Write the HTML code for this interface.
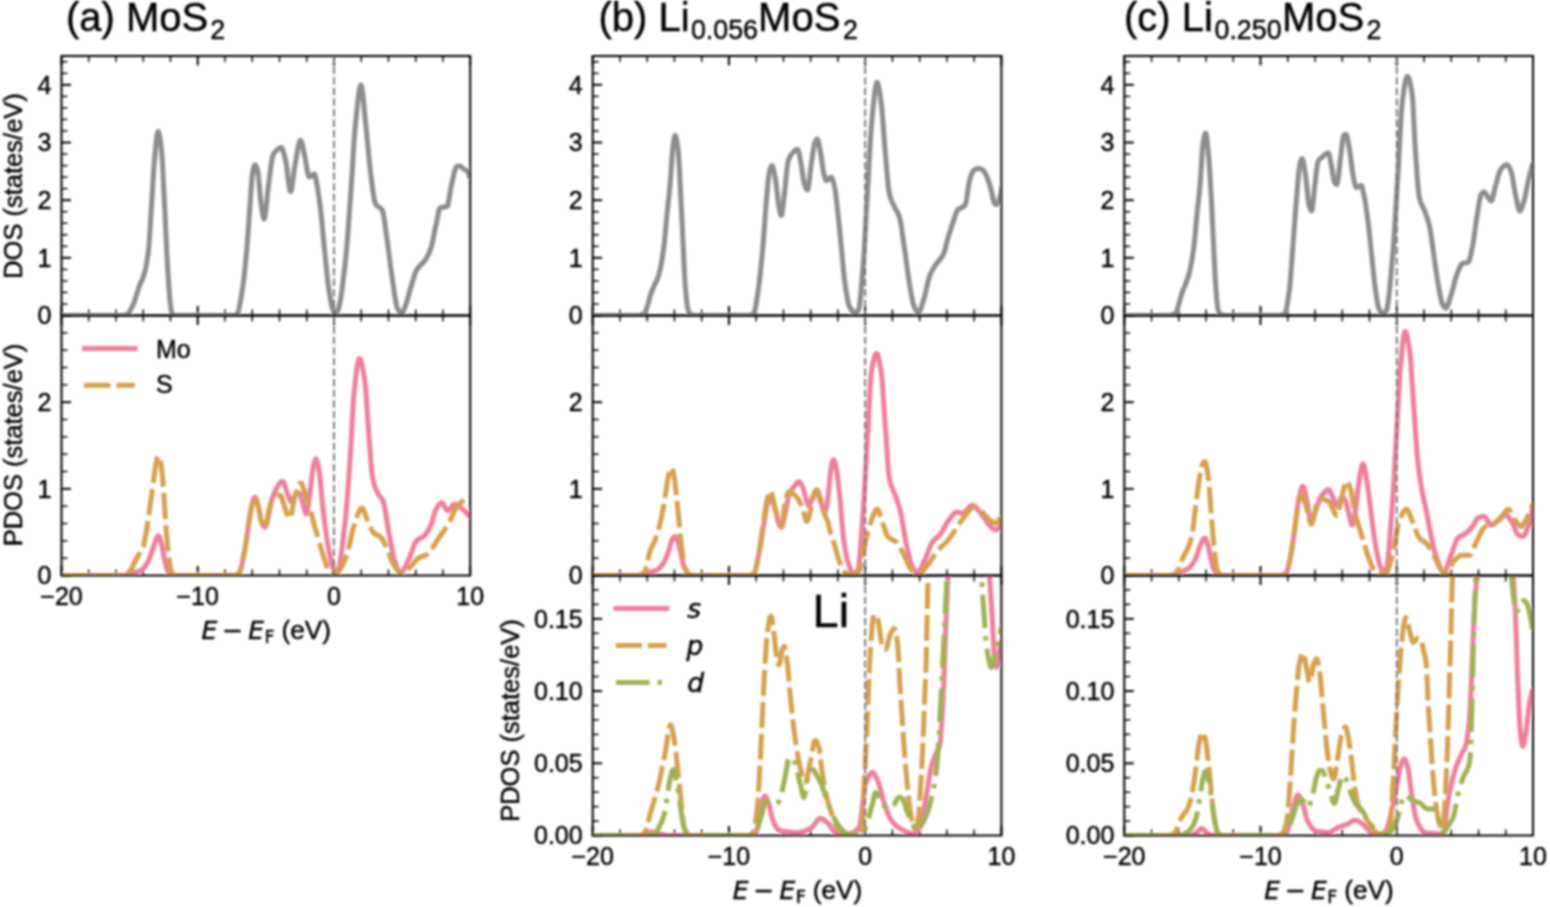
<!DOCTYPE html><html><head><meta charset="utf-8"><style>html,body{margin:0;padding:0;background:#fff;overflow:hidden}svg{display:block}</style></head><body>
<svg width="1550" height="907" viewBox="0 0 1550 907">
<rect width="1550" height="907" fill="#fff"/>
<filter id="bl" x="0" y="0" width="1550" height="907" filterUnits="userSpaceOnUse"><feGaussianBlur stdDeviation="0.8"/></filter>
<g filter="url(#bl)">
<defs>
<clipPath id="cp00"><rect x="61.5" y="56" width="408.7" height="259.5"/></clipPath>
<clipPath id="cp01"><rect x="61.5" y="315.5" width="408.7" height="260"/></clipPath>
<clipPath id="cp10"><rect x="592.7" y="56" width="408.7" height="259.5"/></clipPath>
<clipPath id="cp11"><rect x="592.7" y="315.5" width="408.7" height="260"/></clipPath>
<clipPath id="cp12"><rect x="592.7" y="575.5" width="408.7" height="260"/></clipPath>
<clipPath id="cp20"><rect x="1124.3" y="56" width="408.7" height="259.5"/></clipPath>
<clipPath id="cp21"><rect x="1124.3" y="315.5" width="408.7" height="260"/></clipPath>
<clipPath id="cp22"><rect x="1124.3" y="575.5" width="408.7" height="260"/></clipPath>
</defs>
<g stroke="#000"><line x1="61.5" y1="315.5" x2="61.5" y2="306" stroke-width="2"/><line x1="61.5" y1="56" x2="61.5" y2="65.5" stroke-width="2"/><line x1="88.75" y1="315.5" x2="88.75" y2="309.5" stroke-width="1.5"/><line x1="88.75" y1="56" x2="88.75" y2="62" stroke-width="1.5"/><line x1="115.99" y1="315.5" x2="115.99" y2="309.5" stroke-width="1.5"/><line x1="115.99" y1="56" x2="115.99" y2="62" stroke-width="1.5"/><line x1="143.24" y1="315.5" x2="143.24" y2="309.5" stroke-width="1.5"/><line x1="143.24" y1="56" x2="143.24" y2="62" stroke-width="1.5"/><line x1="170.49" y1="315.5" x2="170.49" y2="309.5" stroke-width="1.5"/><line x1="170.49" y1="56" x2="170.49" y2="62" stroke-width="1.5"/><line x1="197.73" y1="315.5" x2="197.73" y2="306" stroke-width="2"/><line x1="197.73" y1="56" x2="197.73" y2="65.5" stroke-width="2"/><line x1="224.98" y1="315.5" x2="224.98" y2="309.5" stroke-width="1.5"/><line x1="224.98" y1="56" x2="224.98" y2="62" stroke-width="1.5"/><line x1="252.23" y1="315.5" x2="252.23" y2="309.5" stroke-width="1.5"/><line x1="252.23" y1="56" x2="252.23" y2="62" stroke-width="1.5"/><line x1="279.47" y1="315.5" x2="279.47" y2="309.5" stroke-width="1.5"/><line x1="279.47" y1="56" x2="279.47" y2="62" stroke-width="1.5"/><line x1="306.72" y1="315.5" x2="306.72" y2="309.5" stroke-width="1.5"/><line x1="306.72" y1="56" x2="306.72" y2="62" stroke-width="1.5"/><line x1="333.97" y1="315.5" x2="333.97" y2="306" stroke-width="2"/><line x1="333.97" y1="56" x2="333.97" y2="65.5" stroke-width="2"/><line x1="361.21" y1="315.5" x2="361.21" y2="309.5" stroke-width="1.5"/><line x1="361.21" y1="56" x2="361.21" y2="62" stroke-width="1.5"/><line x1="388.46" y1="315.5" x2="388.46" y2="309.5" stroke-width="1.5"/><line x1="388.46" y1="56" x2="388.46" y2="62" stroke-width="1.5"/><line x1="415.71" y1="315.5" x2="415.71" y2="309.5" stroke-width="1.5"/><line x1="415.71" y1="56" x2="415.71" y2="62" stroke-width="1.5"/><line x1="442.95" y1="315.5" x2="442.95" y2="309.5" stroke-width="1.5"/><line x1="442.95" y1="56" x2="442.95" y2="62" stroke-width="1.5"/><line x1="470.2" y1="315.5" x2="470.2" y2="306" stroke-width="2"/><line x1="470.2" y1="56" x2="470.2" y2="65.5" stroke-width="2"/><line x1="61.5" y1="315.5" x2="71" y2="315.5" stroke-width="2"/><line x1="61.5" y1="303.97" x2="67.5" y2="303.97" stroke-width="1.5"/><line x1="61.5" y1="292.43" x2="67.5" y2="292.43" stroke-width="1.5"/><line x1="61.5" y1="280.9" x2="67.5" y2="280.9" stroke-width="1.5"/><line x1="61.5" y1="269.37" x2="67.5" y2="269.37" stroke-width="1.5"/><line x1="61.5" y1="257.83" x2="71" y2="257.83" stroke-width="2"/><line x1="61.5" y1="246.3" x2="67.5" y2="246.3" stroke-width="1.5"/><line x1="61.5" y1="234.77" x2="67.5" y2="234.77" stroke-width="1.5"/><line x1="61.5" y1="223.23" x2="67.5" y2="223.23" stroke-width="1.5"/><line x1="61.5" y1="211.7" x2="67.5" y2="211.7" stroke-width="1.5"/><line x1="61.5" y1="200.17" x2="71" y2="200.17" stroke-width="2"/><line x1="61.5" y1="188.63" x2="67.5" y2="188.63" stroke-width="1.5"/><line x1="61.5" y1="177.1" x2="67.5" y2="177.1" stroke-width="1.5"/><line x1="61.5" y1="165.57" x2="67.5" y2="165.57" stroke-width="1.5"/><line x1="61.5" y1="154.03" x2="67.5" y2="154.03" stroke-width="1.5"/><line x1="61.5" y1="142.5" x2="71" y2="142.5" stroke-width="2"/><line x1="61.5" y1="130.97" x2="67.5" y2="130.97" stroke-width="1.5"/><line x1="61.5" y1="119.43" x2="67.5" y2="119.43" stroke-width="1.5"/><line x1="61.5" y1="107.9" x2="67.5" y2="107.9" stroke-width="1.5"/><line x1="61.5" y1="96.37" x2="67.5" y2="96.37" stroke-width="1.5"/><line x1="61.5" y1="84.83" x2="71" y2="84.83" stroke-width="2"/><line x1="61.5" y1="73.3" x2="67.5" y2="73.3" stroke-width="1.5"/><line x1="61.5" y1="61.77" x2="67.5" y2="61.77" stroke-width="1.5"/></g>
<g stroke="#000"><line x1="61.5" y1="575.5" x2="61.5" y2="566" stroke-width="2"/><line x1="61.5" y1="315.5" x2="61.5" y2="325" stroke-width="2"/><line x1="88.75" y1="575.5" x2="88.75" y2="569.5" stroke-width="1.5"/><line x1="88.75" y1="315.5" x2="88.75" y2="321.5" stroke-width="1.5"/><line x1="115.99" y1="575.5" x2="115.99" y2="569.5" stroke-width="1.5"/><line x1="115.99" y1="315.5" x2="115.99" y2="321.5" stroke-width="1.5"/><line x1="143.24" y1="575.5" x2="143.24" y2="569.5" stroke-width="1.5"/><line x1="143.24" y1="315.5" x2="143.24" y2="321.5" stroke-width="1.5"/><line x1="170.49" y1="575.5" x2="170.49" y2="569.5" stroke-width="1.5"/><line x1="170.49" y1="315.5" x2="170.49" y2="321.5" stroke-width="1.5"/><line x1="197.73" y1="575.5" x2="197.73" y2="566" stroke-width="2"/><line x1="197.73" y1="315.5" x2="197.73" y2="325" stroke-width="2"/><line x1="224.98" y1="575.5" x2="224.98" y2="569.5" stroke-width="1.5"/><line x1="224.98" y1="315.5" x2="224.98" y2="321.5" stroke-width="1.5"/><line x1="252.23" y1="575.5" x2="252.23" y2="569.5" stroke-width="1.5"/><line x1="252.23" y1="315.5" x2="252.23" y2="321.5" stroke-width="1.5"/><line x1="279.47" y1="575.5" x2="279.47" y2="569.5" stroke-width="1.5"/><line x1="279.47" y1="315.5" x2="279.47" y2="321.5" stroke-width="1.5"/><line x1="306.72" y1="575.5" x2="306.72" y2="569.5" stroke-width="1.5"/><line x1="306.72" y1="315.5" x2="306.72" y2="321.5" stroke-width="1.5"/><line x1="333.97" y1="575.5" x2="333.97" y2="566" stroke-width="2"/><line x1="333.97" y1="315.5" x2="333.97" y2="325" stroke-width="2"/><line x1="361.21" y1="575.5" x2="361.21" y2="569.5" stroke-width="1.5"/><line x1="361.21" y1="315.5" x2="361.21" y2="321.5" stroke-width="1.5"/><line x1="388.46" y1="575.5" x2="388.46" y2="569.5" stroke-width="1.5"/><line x1="388.46" y1="315.5" x2="388.46" y2="321.5" stroke-width="1.5"/><line x1="415.71" y1="575.5" x2="415.71" y2="569.5" stroke-width="1.5"/><line x1="415.71" y1="315.5" x2="415.71" y2="321.5" stroke-width="1.5"/><line x1="442.95" y1="575.5" x2="442.95" y2="569.5" stroke-width="1.5"/><line x1="442.95" y1="315.5" x2="442.95" y2="321.5" stroke-width="1.5"/><line x1="470.2" y1="575.5" x2="470.2" y2="566" stroke-width="2"/><line x1="470.2" y1="315.5" x2="470.2" y2="325" stroke-width="2"/><line x1="61.5" y1="575.5" x2="71" y2="575.5" stroke-width="2"/><line x1="61.5" y1="558.17" x2="67.5" y2="558.17" stroke-width="1.5"/><line x1="61.5" y1="540.83" x2="67.5" y2="540.83" stroke-width="1.5"/><line x1="61.5" y1="523.5" x2="67.5" y2="523.5" stroke-width="1.5"/><line x1="61.5" y1="506.17" x2="67.5" y2="506.17" stroke-width="1.5"/><line x1="61.5" y1="488.83" x2="71" y2="488.83" stroke-width="2"/><line x1="61.5" y1="471.5" x2="67.5" y2="471.5" stroke-width="1.5"/><line x1="61.5" y1="454.17" x2="67.5" y2="454.17" stroke-width="1.5"/><line x1="61.5" y1="436.83" x2="67.5" y2="436.83" stroke-width="1.5"/><line x1="61.5" y1="419.5" x2="67.5" y2="419.5" stroke-width="1.5"/><line x1="61.5" y1="402.17" x2="71" y2="402.17" stroke-width="2"/><line x1="61.5" y1="384.83" x2="67.5" y2="384.83" stroke-width="1.5"/><line x1="61.5" y1="367.5" x2="67.5" y2="367.5" stroke-width="1.5"/><line x1="61.5" y1="350.17" x2="67.5" y2="350.17" stroke-width="1.5"/><line x1="61.5" y1="332.83" x2="67.5" y2="332.83" stroke-width="1.5"/><line x1="61.5" y1="315.5" x2="71" y2="315.5" stroke-width="2"/></g>
<g stroke="#000"><line x1="592.7" y1="315.5" x2="592.7" y2="306" stroke-width="2"/><line x1="592.7" y1="56" x2="592.7" y2="65.5" stroke-width="2"/><line x1="619.95" y1="315.5" x2="619.95" y2="309.5" stroke-width="1.5"/><line x1="619.95" y1="56" x2="619.95" y2="62" stroke-width="1.5"/><line x1="647.19" y1="315.5" x2="647.19" y2="309.5" stroke-width="1.5"/><line x1="647.19" y1="56" x2="647.19" y2="62" stroke-width="1.5"/><line x1="674.44" y1="315.5" x2="674.44" y2="309.5" stroke-width="1.5"/><line x1="674.44" y1="56" x2="674.44" y2="62" stroke-width="1.5"/><line x1="701.69" y1="315.5" x2="701.69" y2="309.5" stroke-width="1.5"/><line x1="701.69" y1="56" x2="701.69" y2="62" stroke-width="1.5"/><line x1="728.93" y1="315.5" x2="728.93" y2="306" stroke-width="2"/><line x1="728.93" y1="56" x2="728.93" y2="65.5" stroke-width="2"/><line x1="756.18" y1="315.5" x2="756.18" y2="309.5" stroke-width="1.5"/><line x1="756.18" y1="56" x2="756.18" y2="62" stroke-width="1.5"/><line x1="783.43" y1="315.5" x2="783.43" y2="309.5" stroke-width="1.5"/><line x1="783.43" y1="56" x2="783.43" y2="62" stroke-width="1.5"/><line x1="810.67" y1="315.5" x2="810.67" y2="309.5" stroke-width="1.5"/><line x1="810.67" y1="56" x2="810.67" y2="62" stroke-width="1.5"/><line x1="837.92" y1="315.5" x2="837.92" y2="309.5" stroke-width="1.5"/><line x1="837.92" y1="56" x2="837.92" y2="62" stroke-width="1.5"/><line x1="865.17" y1="315.5" x2="865.17" y2="306" stroke-width="2"/><line x1="865.17" y1="56" x2="865.17" y2="65.5" stroke-width="2"/><line x1="892.41" y1="315.5" x2="892.41" y2="309.5" stroke-width="1.5"/><line x1="892.41" y1="56" x2="892.41" y2="62" stroke-width="1.5"/><line x1="919.66" y1="315.5" x2="919.66" y2="309.5" stroke-width="1.5"/><line x1="919.66" y1="56" x2="919.66" y2="62" stroke-width="1.5"/><line x1="946.91" y1="315.5" x2="946.91" y2="309.5" stroke-width="1.5"/><line x1="946.91" y1="56" x2="946.91" y2="62" stroke-width="1.5"/><line x1="974.15" y1="315.5" x2="974.15" y2="309.5" stroke-width="1.5"/><line x1="974.15" y1="56" x2="974.15" y2="62" stroke-width="1.5"/><line x1="1001.4" y1="315.5" x2="1001.4" y2="306" stroke-width="2"/><line x1="1001.4" y1="56" x2="1001.4" y2="65.5" stroke-width="2"/><line x1="592.7" y1="315.5" x2="602.2" y2="315.5" stroke-width="2"/><line x1="592.7" y1="303.97" x2="598.7" y2="303.97" stroke-width="1.5"/><line x1="592.7" y1="292.43" x2="598.7" y2="292.43" stroke-width="1.5"/><line x1="592.7" y1="280.9" x2="598.7" y2="280.9" stroke-width="1.5"/><line x1="592.7" y1="269.37" x2="598.7" y2="269.37" stroke-width="1.5"/><line x1="592.7" y1="257.83" x2="602.2" y2="257.83" stroke-width="2"/><line x1="592.7" y1="246.3" x2="598.7" y2="246.3" stroke-width="1.5"/><line x1="592.7" y1="234.77" x2="598.7" y2="234.77" stroke-width="1.5"/><line x1="592.7" y1="223.23" x2="598.7" y2="223.23" stroke-width="1.5"/><line x1="592.7" y1="211.7" x2="598.7" y2="211.7" stroke-width="1.5"/><line x1="592.7" y1="200.17" x2="602.2" y2="200.17" stroke-width="2"/><line x1="592.7" y1="188.63" x2="598.7" y2="188.63" stroke-width="1.5"/><line x1="592.7" y1="177.1" x2="598.7" y2="177.1" stroke-width="1.5"/><line x1="592.7" y1="165.57" x2="598.7" y2="165.57" stroke-width="1.5"/><line x1="592.7" y1="154.03" x2="598.7" y2="154.03" stroke-width="1.5"/><line x1="592.7" y1="142.5" x2="602.2" y2="142.5" stroke-width="2"/><line x1="592.7" y1="130.97" x2="598.7" y2="130.97" stroke-width="1.5"/><line x1="592.7" y1="119.43" x2="598.7" y2="119.43" stroke-width="1.5"/><line x1="592.7" y1="107.9" x2="598.7" y2="107.9" stroke-width="1.5"/><line x1="592.7" y1="96.37" x2="598.7" y2="96.37" stroke-width="1.5"/><line x1="592.7" y1="84.83" x2="602.2" y2="84.83" stroke-width="2"/><line x1="592.7" y1="73.3" x2="598.7" y2="73.3" stroke-width="1.5"/><line x1="592.7" y1="61.77" x2="598.7" y2="61.77" stroke-width="1.5"/></g>
<g stroke="#000"><line x1="592.7" y1="575.5" x2="592.7" y2="566" stroke-width="2"/><line x1="592.7" y1="315.5" x2="592.7" y2="325" stroke-width="2"/><line x1="619.95" y1="575.5" x2="619.95" y2="569.5" stroke-width="1.5"/><line x1="619.95" y1="315.5" x2="619.95" y2="321.5" stroke-width="1.5"/><line x1="647.19" y1="575.5" x2="647.19" y2="569.5" stroke-width="1.5"/><line x1="647.19" y1="315.5" x2="647.19" y2="321.5" stroke-width="1.5"/><line x1="674.44" y1="575.5" x2="674.44" y2="569.5" stroke-width="1.5"/><line x1="674.44" y1="315.5" x2="674.44" y2="321.5" stroke-width="1.5"/><line x1="701.69" y1="575.5" x2="701.69" y2="569.5" stroke-width="1.5"/><line x1="701.69" y1="315.5" x2="701.69" y2="321.5" stroke-width="1.5"/><line x1="728.93" y1="575.5" x2="728.93" y2="566" stroke-width="2"/><line x1="728.93" y1="315.5" x2="728.93" y2="325" stroke-width="2"/><line x1="756.18" y1="575.5" x2="756.18" y2="569.5" stroke-width="1.5"/><line x1="756.18" y1="315.5" x2="756.18" y2="321.5" stroke-width="1.5"/><line x1="783.43" y1="575.5" x2="783.43" y2="569.5" stroke-width="1.5"/><line x1="783.43" y1="315.5" x2="783.43" y2="321.5" stroke-width="1.5"/><line x1="810.67" y1="575.5" x2="810.67" y2="569.5" stroke-width="1.5"/><line x1="810.67" y1="315.5" x2="810.67" y2="321.5" stroke-width="1.5"/><line x1="837.92" y1="575.5" x2="837.92" y2="569.5" stroke-width="1.5"/><line x1="837.92" y1="315.5" x2="837.92" y2="321.5" stroke-width="1.5"/><line x1="865.17" y1="575.5" x2="865.17" y2="566" stroke-width="2"/><line x1="865.17" y1="315.5" x2="865.17" y2="325" stroke-width="2"/><line x1="892.41" y1="575.5" x2="892.41" y2="569.5" stroke-width="1.5"/><line x1="892.41" y1="315.5" x2="892.41" y2="321.5" stroke-width="1.5"/><line x1="919.66" y1="575.5" x2="919.66" y2="569.5" stroke-width="1.5"/><line x1="919.66" y1="315.5" x2="919.66" y2="321.5" stroke-width="1.5"/><line x1="946.91" y1="575.5" x2="946.91" y2="569.5" stroke-width="1.5"/><line x1="946.91" y1="315.5" x2="946.91" y2="321.5" stroke-width="1.5"/><line x1="974.15" y1="575.5" x2="974.15" y2="569.5" stroke-width="1.5"/><line x1="974.15" y1="315.5" x2="974.15" y2="321.5" stroke-width="1.5"/><line x1="1001.4" y1="575.5" x2="1001.4" y2="566" stroke-width="2"/><line x1="1001.4" y1="315.5" x2="1001.4" y2="325" stroke-width="2"/><line x1="592.7" y1="575.5" x2="602.2" y2="575.5" stroke-width="2"/><line x1="592.7" y1="558.17" x2="598.7" y2="558.17" stroke-width="1.5"/><line x1="592.7" y1="540.83" x2="598.7" y2="540.83" stroke-width="1.5"/><line x1="592.7" y1="523.5" x2="598.7" y2="523.5" stroke-width="1.5"/><line x1="592.7" y1="506.17" x2="598.7" y2="506.17" stroke-width="1.5"/><line x1="592.7" y1="488.83" x2="602.2" y2="488.83" stroke-width="2"/><line x1="592.7" y1="471.5" x2="598.7" y2="471.5" stroke-width="1.5"/><line x1="592.7" y1="454.17" x2="598.7" y2="454.17" stroke-width="1.5"/><line x1="592.7" y1="436.83" x2="598.7" y2="436.83" stroke-width="1.5"/><line x1="592.7" y1="419.5" x2="598.7" y2="419.5" stroke-width="1.5"/><line x1="592.7" y1="402.17" x2="602.2" y2="402.17" stroke-width="2"/><line x1="592.7" y1="384.83" x2="598.7" y2="384.83" stroke-width="1.5"/><line x1="592.7" y1="367.5" x2="598.7" y2="367.5" stroke-width="1.5"/><line x1="592.7" y1="350.17" x2="598.7" y2="350.17" stroke-width="1.5"/><line x1="592.7" y1="332.83" x2="598.7" y2="332.83" stroke-width="1.5"/><line x1="592.7" y1="315.5" x2="602.2" y2="315.5" stroke-width="2"/></g>
<g stroke="#000"><line x1="592.7" y1="835.5" x2="592.7" y2="826" stroke-width="2"/><line x1="592.7" y1="575.5" x2="592.7" y2="585" stroke-width="2"/><line x1="619.95" y1="835.5" x2="619.95" y2="829.5" stroke-width="1.5"/><line x1="619.95" y1="575.5" x2="619.95" y2="581.5" stroke-width="1.5"/><line x1="647.19" y1="835.5" x2="647.19" y2="829.5" stroke-width="1.5"/><line x1="647.19" y1="575.5" x2="647.19" y2="581.5" stroke-width="1.5"/><line x1="674.44" y1="835.5" x2="674.44" y2="829.5" stroke-width="1.5"/><line x1="674.44" y1="575.5" x2="674.44" y2="581.5" stroke-width="1.5"/><line x1="701.69" y1="835.5" x2="701.69" y2="829.5" stroke-width="1.5"/><line x1="701.69" y1="575.5" x2="701.69" y2="581.5" stroke-width="1.5"/><line x1="728.93" y1="835.5" x2="728.93" y2="826" stroke-width="2"/><line x1="728.93" y1="575.5" x2="728.93" y2="585" stroke-width="2"/><line x1="756.18" y1="835.5" x2="756.18" y2="829.5" stroke-width="1.5"/><line x1="756.18" y1="575.5" x2="756.18" y2="581.5" stroke-width="1.5"/><line x1="783.43" y1="835.5" x2="783.43" y2="829.5" stroke-width="1.5"/><line x1="783.43" y1="575.5" x2="783.43" y2="581.5" stroke-width="1.5"/><line x1="810.67" y1="835.5" x2="810.67" y2="829.5" stroke-width="1.5"/><line x1="810.67" y1="575.5" x2="810.67" y2="581.5" stroke-width="1.5"/><line x1="837.92" y1="835.5" x2="837.92" y2="829.5" stroke-width="1.5"/><line x1="837.92" y1="575.5" x2="837.92" y2="581.5" stroke-width="1.5"/><line x1="865.17" y1="835.5" x2="865.17" y2="826" stroke-width="2"/><line x1="865.17" y1="575.5" x2="865.17" y2="585" stroke-width="2"/><line x1="892.41" y1="835.5" x2="892.41" y2="829.5" stroke-width="1.5"/><line x1="892.41" y1="575.5" x2="892.41" y2="581.5" stroke-width="1.5"/><line x1="919.66" y1="835.5" x2="919.66" y2="829.5" stroke-width="1.5"/><line x1="919.66" y1="575.5" x2="919.66" y2="581.5" stroke-width="1.5"/><line x1="946.91" y1="835.5" x2="946.91" y2="829.5" stroke-width="1.5"/><line x1="946.91" y1="575.5" x2="946.91" y2="581.5" stroke-width="1.5"/><line x1="974.15" y1="835.5" x2="974.15" y2="829.5" stroke-width="1.5"/><line x1="974.15" y1="575.5" x2="974.15" y2="581.5" stroke-width="1.5"/><line x1="1001.4" y1="835.5" x2="1001.4" y2="826" stroke-width="2"/><line x1="1001.4" y1="575.5" x2="1001.4" y2="585" stroke-width="2"/><line x1="592.7" y1="835.5" x2="602.2" y2="835.5" stroke-width="2"/><line x1="592.7" y1="821.06" x2="598.7" y2="821.06" stroke-width="1.5"/><line x1="592.7" y1="806.61" x2="598.7" y2="806.61" stroke-width="1.5"/><line x1="592.7" y1="792.17" x2="598.7" y2="792.17" stroke-width="1.5"/><line x1="592.7" y1="777.72" x2="598.7" y2="777.72" stroke-width="1.5"/><line x1="592.7" y1="763.28" x2="602.2" y2="763.28" stroke-width="2"/><line x1="592.7" y1="748.83" x2="598.7" y2="748.83" stroke-width="1.5"/><line x1="592.7" y1="734.39" x2="598.7" y2="734.39" stroke-width="1.5"/><line x1="592.7" y1="719.94" x2="598.7" y2="719.94" stroke-width="1.5"/><line x1="592.7" y1="705.5" x2="598.7" y2="705.5" stroke-width="1.5"/><line x1="592.7" y1="691.06" x2="602.2" y2="691.06" stroke-width="2"/><line x1="592.7" y1="676.61" x2="598.7" y2="676.61" stroke-width="1.5"/><line x1="592.7" y1="662.17" x2="598.7" y2="662.17" stroke-width="1.5"/><line x1="592.7" y1="647.72" x2="598.7" y2="647.72" stroke-width="1.5"/><line x1="592.7" y1="633.28" x2="598.7" y2="633.28" stroke-width="1.5"/><line x1="592.7" y1="618.83" x2="602.2" y2="618.83" stroke-width="2"/><line x1="592.7" y1="604.39" x2="598.7" y2="604.39" stroke-width="1.5"/><line x1="592.7" y1="589.94" x2="598.7" y2="589.94" stroke-width="1.5"/><line x1="592.7" y1="575.5" x2="598.7" y2="575.5" stroke-width="1.5"/></g>
<g stroke="#000"><line x1="1124.3" y1="315.5" x2="1124.3" y2="306" stroke-width="2"/><line x1="1124.3" y1="56" x2="1124.3" y2="65.5" stroke-width="2"/><line x1="1151.55" y1="315.5" x2="1151.55" y2="309.5" stroke-width="1.5"/><line x1="1151.55" y1="56" x2="1151.55" y2="62" stroke-width="1.5"/><line x1="1178.79" y1="315.5" x2="1178.79" y2="309.5" stroke-width="1.5"/><line x1="1178.79" y1="56" x2="1178.79" y2="62" stroke-width="1.5"/><line x1="1206.04" y1="315.5" x2="1206.04" y2="309.5" stroke-width="1.5"/><line x1="1206.04" y1="56" x2="1206.04" y2="62" stroke-width="1.5"/><line x1="1233.29" y1="315.5" x2="1233.29" y2="309.5" stroke-width="1.5"/><line x1="1233.29" y1="56" x2="1233.29" y2="62" stroke-width="1.5"/><line x1="1260.53" y1="315.5" x2="1260.53" y2="306" stroke-width="2"/><line x1="1260.53" y1="56" x2="1260.53" y2="65.5" stroke-width="2"/><line x1="1287.78" y1="315.5" x2="1287.78" y2="309.5" stroke-width="1.5"/><line x1="1287.78" y1="56" x2="1287.78" y2="62" stroke-width="1.5"/><line x1="1315.03" y1="315.5" x2="1315.03" y2="309.5" stroke-width="1.5"/><line x1="1315.03" y1="56" x2="1315.03" y2="62" stroke-width="1.5"/><line x1="1342.27" y1="315.5" x2="1342.27" y2="309.5" stroke-width="1.5"/><line x1="1342.27" y1="56" x2="1342.27" y2="62" stroke-width="1.5"/><line x1="1369.52" y1="315.5" x2="1369.52" y2="309.5" stroke-width="1.5"/><line x1="1369.52" y1="56" x2="1369.52" y2="62" stroke-width="1.5"/><line x1="1396.77" y1="315.5" x2="1396.77" y2="306" stroke-width="2"/><line x1="1396.77" y1="56" x2="1396.77" y2="65.5" stroke-width="2"/><line x1="1424.01" y1="315.5" x2="1424.01" y2="309.5" stroke-width="1.5"/><line x1="1424.01" y1="56" x2="1424.01" y2="62" stroke-width="1.5"/><line x1="1451.26" y1="315.5" x2="1451.26" y2="309.5" stroke-width="1.5"/><line x1="1451.26" y1="56" x2="1451.26" y2="62" stroke-width="1.5"/><line x1="1478.51" y1="315.5" x2="1478.51" y2="309.5" stroke-width="1.5"/><line x1="1478.51" y1="56" x2="1478.51" y2="62" stroke-width="1.5"/><line x1="1505.75" y1="315.5" x2="1505.75" y2="309.5" stroke-width="1.5"/><line x1="1505.75" y1="56" x2="1505.75" y2="62" stroke-width="1.5"/><line x1="1533" y1="315.5" x2="1533" y2="306" stroke-width="2"/><line x1="1533" y1="56" x2="1533" y2="65.5" stroke-width="2"/><line x1="1124.3" y1="315.5" x2="1133.8" y2="315.5" stroke-width="2"/><line x1="1124.3" y1="303.97" x2="1130.3" y2="303.97" stroke-width="1.5"/><line x1="1124.3" y1="292.43" x2="1130.3" y2="292.43" stroke-width="1.5"/><line x1="1124.3" y1="280.9" x2="1130.3" y2="280.9" stroke-width="1.5"/><line x1="1124.3" y1="269.37" x2="1130.3" y2="269.37" stroke-width="1.5"/><line x1="1124.3" y1="257.83" x2="1133.8" y2="257.83" stroke-width="2"/><line x1="1124.3" y1="246.3" x2="1130.3" y2="246.3" stroke-width="1.5"/><line x1="1124.3" y1="234.77" x2="1130.3" y2="234.77" stroke-width="1.5"/><line x1="1124.3" y1="223.23" x2="1130.3" y2="223.23" stroke-width="1.5"/><line x1="1124.3" y1="211.7" x2="1130.3" y2="211.7" stroke-width="1.5"/><line x1="1124.3" y1="200.17" x2="1133.8" y2="200.17" stroke-width="2"/><line x1="1124.3" y1="188.63" x2="1130.3" y2="188.63" stroke-width="1.5"/><line x1="1124.3" y1="177.1" x2="1130.3" y2="177.1" stroke-width="1.5"/><line x1="1124.3" y1="165.57" x2="1130.3" y2="165.57" stroke-width="1.5"/><line x1="1124.3" y1="154.03" x2="1130.3" y2="154.03" stroke-width="1.5"/><line x1="1124.3" y1="142.5" x2="1133.8" y2="142.5" stroke-width="2"/><line x1="1124.3" y1="130.97" x2="1130.3" y2="130.97" stroke-width="1.5"/><line x1="1124.3" y1="119.43" x2="1130.3" y2="119.43" stroke-width="1.5"/><line x1="1124.3" y1="107.9" x2="1130.3" y2="107.9" stroke-width="1.5"/><line x1="1124.3" y1="96.37" x2="1130.3" y2="96.37" stroke-width="1.5"/><line x1="1124.3" y1="84.83" x2="1133.8" y2="84.83" stroke-width="2"/><line x1="1124.3" y1="73.3" x2="1130.3" y2="73.3" stroke-width="1.5"/><line x1="1124.3" y1="61.77" x2="1130.3" y2="61.77" stroke-width="1.5"/></g>
<g stroke="#000"><line x1="1124.3" y1="575.5" x2="1124.3" y2="566" stroke-width="2"/><line x1="1124.3" y1="315.5" x2="1124.3" y2="325" stroke-width="2"/><line x1="1151.55" y1="575.5" x2="1151.55" y2="569.5" stroke-width="1.5"/><line x1="1151.55" y1="315.5" x2="1151.55" y2="321.5" stroke-width="1.5"/><line x1="1178.79" y1="575.5" x2="1178.79" y2="569.5" stroke-width="1.5"/><line x1="1178.79" y1="315.5" x2="1178.79" y2="321.5" stroke-width="1.5"/><line x1="1206.04" y1="575.5" x2="1206.04" y2="569.5" stroke-width="1.5"/><line x1="1206.04" y1="315.5" x2="1206.04" y2="321.5" stroke-width="1.5"/><line x1="1233.29" y1="575.5" x2="1233.29" y2="569.5" stroke-width="1.5"/><line x1="1233.29" y1="315.5" x2="1233.29" y2="321.5" stroke-width="1.5"/><line x1="1260.53" y1="575.5" x2="1260.53" y2="566" stroke-width="2"/><line x1="1260.53" y1="315.5" x2="1260.53" y2="325" stroke-width="2"/><line x1="1287.78" y1="575.5" x2="1287.78" y2="569.5" stroke-width="1.5"/><line x1="1287.78" y1="315.5" x2="1287.78" y2="321.5" stroke-width="1.5"/><line x1="1315.03" y1="575.5" x2="1315.03" y2="569.5" stroke-width="1.5"/><line x1="1315.03" y1="315.5" x2="1315.03" y2="321.5" stroke-width="1.5"/><line x1="1342.27" y1="575.5" x2="1342.27" y2="569.5" stroke-width="1.5"/><line x1="1342.27" y1="315.5" x2="1342.27" y2="321.5" stroke-width="1.5"/><line x1="1369.52" y1="575.5" x2="1369.52" y2="569.5" stroke-width="1.5"/><line x1="1369.52" y1="315.5" x2="1369.52" y2="321.5" stroke-width="1.5"/><line x1="1396.77" y1="575.5" x2="1396.77" y2="566" stroke-width="2"/><line x1="1396.77" y1="315.5" x2="1396.77" y2="325" stroke-width="2"/><line x1="1424.01" y1="575.5" x2="1424.01" y2="569.5" stroke-width="1.5"/><line x1="1424.01" y1="315.5" x2="1424.01" y2="321.5" stroke-width="1.5"/><line x1="1451.26" y1="575.5" x2="1451.26" y2="569.5" stroke-width="1.5"/><line x1="1451.26" y1="315.5" x2="1451.26" y2="321.5" stroke-width="1.5"/><line x1="1478.51" y1="575.5" x2="1478.51" y2="569.5" stroke-width="1.5"/><line x1="1478.51" y1="315.5" x2="1478.51" y2="321.5" stroke-width="1.5"/><line x1="1505.75" y1="575.5" x2="1505.75" y2="569.5" stroke-width="1.5"/><line x1="1505.75" y1="315.5" x2="1505.75" y2="321.5" stroke-width="1.5"/><line x1="1533" y1="575.5" x2="1533" y2="566" stroke-width="2"/><line x1="1533" y1="315.5" x2="1533" y2="325" stroke-width="2"/><line x1="1124.3" y1="575.5" x2="1133.8" y2="575.5" stroke-width="2"/><line x1="1124.3" y1="558.17" x2="1130.3" y2="558.17" stroke-width="1.5"/><line x1="1124.3" y1="540.83" x2="1130.3" y2="540.83" stroke-width="1.5"/><line x1="1124.3" y1="523.5" x2="1130.3" y2="523.5" stroke-width="1.5"/><line x1="1124.3" y1="506.17" x2="1130.3" y2="506.17" stroke-width="1.5"/><line x1="1124.3" y1="488.83" x2="1133.8" y2="488.83" stroke-width="2"/><line x1="1124.3" y1="471.5" x2="1130.3" y2="471.5" stroke-width="1.5"/><line x1="1124.3" y1="454.17" x2="1130.3" y2="454.17" stroke-width="1.5"/><line x1="1124.3" y1="436.83" x2="1130.3" y2="436.83" stroke-width="1.5"/><line x1="1124.3" y1="419.5" x2="1130.3" y2="419.5" stroke-width="1.5"/><line x1="1124.3" y1="402.17" x2="1133.8" y2="402.17" stroke-width="2"/><line x1="1124.3" y1="384.83" x2="1130.3" y2="384.83" stroke-width="1.5"/><line x1="1124.3" y1="367.5" x2="1130.3" y2="367.5" stroke-width="1.5"/><line x1="1124.3" y1="350.17" x2="1130.3" y2="350.17" stroke-width="1.5"/><line x1="1124.3" y1="332.83" x2="1130.3" y2="332.83" stroke-width="1.5"/><line x1="1124.3" y1="315.5" x2="1133.8" y2="315.5" stroke-width="2"/></g>
<g stroke="#000"><line x1="1124.3" y1="835.5" x2="1124.3" y2="826" stroke-width="2"/><line x1="1124.3" y1="575.5" x2="1124.3" y2="585" stroke-width="2"/><line x1="1151.55" y1="835.5" x2="1151.55" y2="829.5" stroke-width="1.5"/><line x1="1151.55" y1="575.5" x2="1151.55" y2="581.5" stroke-width="1.5"/><line x1="1178.79" y1="835.5" x2="1178.79" y2="829.5" stroke-width="1.5"/><line x1="1178.79" y1="575.5" x2="1178.79" y2="581.5" stroke-width="1.5"/><line x1="1206.04" y1="835.5" x2="1206.04" y2="829.5" stroke-width="1.5"/><line x1="1206.04" y1="575.5" x2="1206.04" y2="581.5" stroke-width="1.5"/><line x1="1233.29" y1="835.5" x2="1233.29" y2="829.5" stroke-width="1.5"/><line x1="1233.29" y1="575.5" x2="1233.29" y2="581.5" stroke-width="1.5"/><line x1="1260.53" y1="835.5" x2="1260.53" y2="826" stroke-width="2"/><line x1="1260.53" y1="575.5" x2="1260.53" y2="585" stroke-width="2"/><line x1="1287.78" y1="835.5" x2="1287.78" y2="829.5" stroke-width="1.5"/><line x1="1287.78" y1="575.5" x2="1287.78" y2="581.5" stroke-width="1.5"/><line x1="1315.03" y1="835.5" x2="1315.03" y2="829.5" stroke-width="1.5"/><line x1="1315.03" y1="575.5" x2="1315.03" y2="581.5" stroke-width="1.5"/><line x1="1342.27" y1="835.5" x2="1342.27" y2="829.5" stroke-width="1.5"/><line x1="1342.27" y1="575.5" x2="1342.27" y2="581.5" stroke-width="1.5"/><line x1="1369.52" y1="835.5" x2="1369.52" y2="829.5" stroke-width="1.5"/><line x1="1369.52" y1="575.5" x2="1369.52" y2="581.5" stroke-width="1.5"/><line x1="1396.77" y1="835.5" x2="1396.77" y2="826" stroke-width="2"/><line x1="1396.77" y1="575.5" x2="1396.77" y2="585" stroke-width="2"/><line x1="1424.01" y1="835.5" x2="1424.01" y2="829.5" stroke-width="1.5"/><line x1="1424.01" y1="575.5" x2="1424.01" y2="581.5" stroke-width="1.5"/><line x1="1451.26" y1="835.5" x2="1451.26" y2="829.5" stroke-width="1.5"/><line x1="1451.26" y1="575.5" x2="1451.26" y2="581.5" stroke-width="1.5"/><line x1="1478.51" y1="835.5" x2="1478.51" y2="829.5" stroke-width="1.5"/><line x1="1478.51" y1="575.5" x2="1478.51" y2="581.5" stroke-width="1.5"/><line x1="1505.75" y1="835.5" x2="1505.75" y2="829.5" stroke-width="1.5"/><line x1="1505.75" y1="575.5" x2="1505.75" y2="581.5" stroke-width="1.5"/><line x1="1533" y1="835.5" x2="1533" y2="826" stroke-width="2"/><line x1="1533" y1="575.5" x2="1533" y2="585" stroke-width="2"/><line x1="1124.3" y1="835.5" x2="1133.8" y2="835.5" stroke-width="2"/><line x1="1124.3" y1="821.06" x2="1130.3" y2="821.06" stroke-width="1.5"/><line x1="1124.3" y1="806.61" x2="1130.3" y2="806.61" stroke-width="1.5"/><line x1="1124.3" y1="792.17" x2="1130.3" y2="792.17" stroke-width="1.5"/><line x1="1124.3" y1="777.72" x2="1130.3" y2="777.72" stroke-width="1.5"/><line x1="1124.3" y1="763.28" x2="1133.8" y2="763.28" stroke-width="2"/><line x1="1124.3" y1="748.83" x2="1130.3" y2="748.83" stroke-width="1.5"/><line x1="1124.3" y1="734.39" x2="1130.3" y2="734.39" stroke-width="1.5"/><line x1="1124.3" y1="719.94" x2="1130.3" y2="719.94" stroke-width="1.5"/><line x1="1124.3" y1="705.5" x2="1130.3" y2="705.5" stroke-width="1.5"/><line x1="1124.3" y1="691.06" x2="1133.8" y2="691.06" stroke-width="2"/><line x1="1124.3" y1="676.61" x2="1130.3" y2="676.61" stroke-width="1.5"/><line x1="1124.3" y1="662.17" x2="1130.3" y2="662.17" stroke-width="1.5"/><line x1="1124.3" y1="647.72" x2="1130.3" y2="647.72" stroke-width="1.5"/><line x1="1124.3" y1="633.28" x2="1130.3" y2="633.28" stroke-width="1.5"/><line x1="1124.3" y1="618.83" x2="1133.8" y2="618.83" stroke-width="2"/><line x1="1124.3" y1="604.39" x2="1130.3" y2="604.39" stroke-width="1.5"/><line x1="1124.3" y1="589.94" x2="1130.3" y2="589.94" stroke-width="1.5"/><line x1="1124.3" y1="575.5" x2="1130.3" y2="575.5" stroke-width="1.5"/></g>
<g clip-path="url(#cp00)" fill="none" stroke-linejoin="round">
<path d="M61.5,315.5 62,315.5 62.5,315.5 63,315.5 63.5,315.5 64,315.5 64.5,315.5 65,315.5 65.5,315.5 66,315.5 66.5,315.5 67,315.5 67.5,315.5 68,315.5 68.5,315.5 69,315.5 69.5,315.5 70,315.5 70.5,315.5 71,315.5 71.5,315.5 72,315.5 72.5,315.5 73,315.5 73.5,315.5 74,315.5 74.5,315.5 75,315.5 75.5,315.5 76,315.5 76.5,315.5 77,315.5 77.5,315.5 78,315.5 78.5,315.5 79,315.5 79.5,315.5 80,315.5 80.5,315.5 81,315.5 81.5,315.5 82,315.5 82.5,315.5 83,315.5 83.5,315.5 84,315.5 84.5,315.5 85,315.5 85.5,315.5 86,315.5 86.5,315.5 87,315.5 87.5,315.5 88,315.5 88.5,315.5 89,315.5 89.5,315.5 90,315.5 90.5,315.5 91,315.5 91.5,315.5 92,315.5 92.5,315.5 93,315.5 93.5,315.5 94,315.5 94.5,315.5 95,315.5 95.5,315.5 96,315.5 96.5,315.5 97,315.5 97.5,315.5 98,315.5 98.5,315.5 99,315.5 99.5,315.5 100,315.5 100.5,315.5 101,315.5 101.5,315.5 102,315.5 102.5,315.5 103,315.5 103.5,315.5 104,315.5 104.5,315.5 105,315.5 105.5,315.5 106,315.5 106.5,315.5 107,315.5 107.5,315.5 108,315.5 108.5,315.5 109,315.5 109.5,315.5 110,315.5 110.5,315.5 111,315.5 111.5,315.5 112,315.5 112.5,315.5 113,315.5 113.5,315.5 114,315.5 114.5,315.5 115,315.5 115.5,315.5 116,315.5 116.5,315.5 117,315.5 117.5,315.5 118,315.5 118.5,315.5 119,315.5 119.5,315.5 120,315.5 120.5,315.5 121,315.5 121.5,315.5 122,315.4 122.5,315.4 123,315.4 123.5,315.3 124,315.3 124.5,315.2 125,315.2 125.5,315.1 126,315 126.5,314.9 127,314.7 127.5,314.3 128,313.8 128.5,313.2 129,312.5 129.5,311.7 130,310.9 130.5,310 131,309 131.5,308 132,307 132.5,306 133,305 133.5,303.9 134,302.7 134.5,301.3 135,299.8 135.5,298.2 136,296.6 136.5,294.9 137,293.3 137.5,291.6 138,290 138.5,288.5 139,287 139.5,285.7 140,284.4 140.5,283.2 141,282.1 141.5,281 142,279.8 142.5,278.6 143,277.3 143.5,275.9 144,274.4 144.5,272.7 145,270.8 145.5,268.8 146,266.4 146.5,263.8 147,260.9 147.5,257.6 148,254 148.5,250 149,244.9 149.5,238.2 150,230.6 150.5,222.3 151,213.8 151.5,205.7 152,197.9 152.5,189.7 153,181.4 153.5,173.3 154,166 154.5,160 155,154.6 155.5,149.1 156,143.9 156.5,139.2 157,135.4 157.5,132.7 158,131.5 158.5,131.9 159,133.2 159.5,135.5 160,138.4 160.5,141.9 161,145.8 161.5,150 162,155.7 162.5,163.7 163,173.2 163.5,183.6 164,194.1 164.5,203.9 165,213.9 165.5,224.5 166,235.3 166.5,246 167,256.1 167.5,265.4 168,273.5 168.5,281.2 169,288.5 169.5,295.1 170,300.7 170.5,305 171,308.5 171.5,311.7 172,314 172.5,315 173,315.1 173.5,315.2 174,315.3 174.5,315.3 175,315.4 175.5,315.4 176,315.4 176.5,315.5 177,315.5 177.5,315.5 178,315.5 178.5,315.5 179,315.5 179.5,315.5 180,315.5 180.5,315.5 181,315.5 181.5,315.5 182,315.5 182.5,315.5 183,315.5 183.5,315.5 184,315.5 184.5,315.5 185,315.5 185.5,315.5 186,315.5 186.5,315.5 187,315.5 187.5,315.5 188,315.5 188.5,315.5 189,315.5 189.5,315.5 190,315.5 190.5,315.5 191,315.5 191.5,315.5 192,315.5 192.5,315.5 193,315.5 193.5,315.5 194,315.5 194.5,315.5 195,315.5 195.5,315.5 196,315.5 196.5,315.5 197,315.5 197.5,315.5 198,315.5 198.5,315.5 199,315.5 199.5,315.5 200,315.5 200.5,315.5 201,315.5 201.5,315.5 202,315.5 202.5,315.5 203,315.5 203.5,315.5 204,315.5 204.5,315.5 205,315.5 205.5,315.5 206,315.5 206.5,315.5 207,315.5 207.5,315.5 208,315.5 208.5,315.5 209,315.5 209.5,315.5 210,315.5 210.5,315.5 211,315.5 211.5,315.5 212,315.5 212.5,315.5 213,315.5 213.5,315.5 214,315.5 214.5,315.5 215,315.5 215.5,315.5 216,315.5 216.5,315.5 217,315.5 217.5,315.5 218,315.5 218.5,315.5 219,315.5 219.5,315.5 220,315.5 220.5,315.5 221,315.5 221.5,315.5 222,315.5 222.5,315.5 223,315.5 223.5,315.5 224,315.5 224.5,315.5 225,315.5 225.5,315.5 226,315.5 226.5,315.5 227,315.5 227.5,315.5 228,315.5 228.5,315.5 229,315.5 229.5,315.5 230,315.5 230.5,315.5 231,315.5 231.5,315.5 232,315.5 232.5,315.4 233,315.4 233.5,315.4 234,315.3 234.5,315.3 235,315.2 235.5,315.1 236,315.1 236.5,315 237,314.6 237.5,313.7 238,312.4 238.5,310.6 239,308.5 239.5,306.1 240,303.5 240.5,300.7 241,297.8 241.5,294.9 242,292 242.5,288.9 243,285.4 243.5,281.5 244,277.3 244.5,272.7 245,267.9 245.5,262.9 246,257.7 246.5,252.4 247,246.6 247.5,240.1 248,233.2 248.5,226.1 249,218.9 249.5,212 250,205.3 250.5,198.1 251,190.7 251.5,183.7 252,177.8 252.5,173.6 253,170.9 253.5,168.5 254,166.6 254.5,165.3 255,165 255.5,165.3 256,166.1 256.5,167.2 257,168.5 257.5,170 258,172.6 258.5,176.8 259,182.1 259.5,187.9 260,193.7 260.5,198.9 261,203 261.5,206.4 262,210 262.5,213.3 263,216.1 263.5,218.1 264,219 264.5,218.4 265,216.4 265.5,213 266,208.8 266.5,203.9 267,198.8 267.5,193.7 268,189 268.5,185 269,181.3 269.5,177.3 270,173.3 270.5,169.3 271,165.6 271.5,162.1 272,159.2 272.5,156.9 273,155.3 273.5,154.3 274,153.4 274.5,152.6 275,152 275.5,151.5 276,151 276.5,150.5 277,150.1 277.5,149.6 278,149.2 278.5,148.8 279,148.4 279.5,148.1 280,147.9 280.5,147.7 281,147.6 281.5,147.6 282,148.1 282.5,149.1 283,150.4 283.5,152.1 284,153.9 284.5,155.9 285,158 285.5,160 286,162.5 286.5,165.7 287,169.6 287.5,173.7 288,178 288.5,182 289,185.7 289.5,188.6 290,190.7 290.5,191.7 291,191.2 291.5,189.6 292,186.9 292.5,183.5 293,179.6 293.5,175.6 294,171.6 294.5,168 295,165 295.5,162.3 296,159.4 296.5,156.4 297,153.4 297.5,150.5 298,147.8 298.5,145.3 299,143.3 299.5,141.7 300,140.7 300.5,140.3 301,140.7 301.5,141.8 302,143.5 302.5,145.6 303,148 303.5,150.4 304,152.8 304.5,155 305,157.3 305.5,160 306,163 306.5,166 307,169 307.5,171.8 308,174.1 308.5,175.8 309,176.8 309.5,177 310,176.8 310.5,176.6 311,176.2 311.5,175.8 312,175.4 312.5,174.9 313,174.6 313.5,174.2 314,174.1 314.5,174 315,174.9 315.5,176.9 316,179.4 316.5,182.2 317,185 317.5,187.7 318,190.7 318.5,194 319,197.5 319.5,201.2 320,205 320.5,209 321,213.4 321.5,218.1 322,223.2 322.5,228.4 323,233.8 323.5,239.2 324,244.4 324.5,249.5 325,254.3 325.5,259.2 326,264.2 326.5,269.2 327,274 327.5,278.7 328,283.1 328.5,287.2 329,290.7 329.5,293.8 330,296.9 330.5,299.7 331,302.4 331.5,304.9 332,307 332.5,308.7 333,310 333.5,311 334,312 334.5,312.8 335,313.3 335.5,313.5 336,313.3 336.5,312.8 337,312 337.5,311 338,310 338.5,308.7 339,307 339.5,304.9 340,302.5 340.5,299.6 341,296.5 341.5,293.2 342,289.6 342.5,285.7 343,281.7 343.5,277.6 344,273.4 344.5,269.1 345,264.7 345.5,260.3 346,255.3 346.5,249.8 347,243.9 347.5,237.7 348,231.2 348.5,224.4 349,217.5 349.5,210.6 350,203.6 350.5,196.7 351,189.8 351.5,182.3 352,174.4 352.5,166.3 353,158.1 353.5,150.1 354,142.5 354.5,135.5 355,129.3 355.5,124 356,119 356.5,114 357,109 357.5,104.2 358,99.7 358.5,95.5 359,92 359.5,89 360,86.8 360.5,85.5 361,85.2 361.5,86.3 362,88.6 362.5,92 363,96.3 363.5,101.1 364,106.4 364.5,111.8 365,117.2 365.5,122.2 366,126.8 366.5,131.6 367,136.7 367.5,142 368,147.4 368.5,152.8 369,158.1 369.5,163.2 370,168 370.5,172.3 371,176.2 371.5,180.1 372,184 372.5,187.9 373,191.6 373.5,194.9 374,197.9 374.5,200.5 375,202.4 375.5,203.7 376,204.5 376.5,205.2 377,205.7 377.5,206.2 378,206.5 378.5,206.9 379,207.2 379.5,207.5 380,207.8 380.5,208.2 381,208.6 381.5,209.2 382,209.9 382.5,210.8 383,212.3 383.5,214.6 384,217.5 384.5,220.9 385,224.5 385.5,228.2 386,231.9 386.5,235.4 387,238.8 387.5,242.5 388,246.3 388.5,250.2 389,254.2 389.5,258.1 390,262.1 390.5,266 391,269.7 391.5,273.3 392,276.7 392.5,280 393,283.5 393.5,287.1 394,290.6 394.5,294 395,297.2 395.5,300.3 396,302.9 396.5,305.3 397,307.1 397.5,308.4 398,309.4 398.5,310.3 399,311.2 399.5,312 400,312.6 400.5,313.1 401,313.4 401.5,313.5 402,313.3 402.5,312.7 403,311.8 403.5,310.7 404,309.5 404.5,308.2 405,307 405.5,305.7 406,304.2 406.5,302.6 407,300.9 407.5,299.1 408,297.2 408.5,295.4 409,293.6 409.5,291.8 410,290.2 410.5,288.5 411,286.9 411.5,285.2 412,283.4 412.5,281.7 413,280 413.5,278.4 414,276.8 414.5,275.3 415,273.9 415.5,272.5 416,271.4 416.5,270.3 417,269.5 417.5,268.7 418,268 418.5,267.4 419,266.8 419.5,266.2 420,265.7 420.5,265.2 421,264.7 421.5,264.3 422,263.8 422.5,263.3 423,262.8 423.5,262.3 424,261.7 424.5,261 425,260.3 425.5,259.6 426,258.8 426.5,258 427,257.1 427.5,256.2 428,255.3 428.5,254.3 429,253.2 429.5,252 430,250.8 430.5,249.5 431,248 431.5,246.2 432,244.2 432.5,241.9 433,239.6 433.5,237.1 434,234.5 434.5,232 435,229.5 435.5,227.1 436,224.8 436.5,222.6 437,220.1 437.5,217.5 438,214.9 438.5,212.5 439,210.4 439.5,208.9 440,208 440.5,207.7 441,207.5 441.5,207.4 442,207.3 442.5,207.2 443,207.2 443.5,207.1 444,207.1 444.5,207 445,207 445.5,206.9 446,206.8 446.5,206.6 447,206.4 447.5,205.9 448,204.4 448.5,202.1 449,199.3 449.5,196.1 450,192.9 450.5,189.9 451,187.2 451.5,185 452,182.8 452.5,180.5 453,178.2 453.5,175.9 454,173.7 454.5,171.7 455,169.9 455.5,168.5 456,167.4 456.5,166.7 457,166.4 457.5,166.3 458,166.2 458.5,166.1 459,166.1 459.5,166 460,166 460.5,166.1 461,166.4 461.5,166.9 462,167.4 462.5,167.9 463,168.4 463.5,168.8 464,169.1 464.5,169.3 465,169.6 465.5,169.8 466,170.1 466.5,170.4 467,170.8 467.5,171.4 468,172.3 468.5,173.4 469,174.8 469.5,176.4 470,178" stroke="#8c8c8c" stroke-width="5.0"/>
<line x1="333.97" y1="56" x2="333.97" y2="315.5" stroke="#6e6e6e" stroke-width="1.8" stroke-dasharray="7.4 3.2"/>
</g>
<g clip-path="url(#cp01)" fill="none" stroke-linejoin="round">
<path d="M61.5,575.5 62,575.5 62.5,575.5 63,575.5 63.5,575.5 64,575.5 64.5,575.5 65,575.5 65.5,575.5 66,575.5 66.5,575.5 67,575.5 67.5,575.5 68,575.5 68.5,575.5 69,575.5 69.5,575.5 70,575.5 70.5,575.5 71,575.5 71.5,575.5 72,575.5 72.5,575.5 73,575.5 73.5,575.5 74,575.5 74.5,575.5 75,575.5 75.5,575.5 76,575.5 76.5,575.5 77,575.5 77.5,575.5 78,575.5 78.5,575.5 79,575.5 79.5,575.5 80,575.5 80.5,575.5 81,575.5 81.5,575.5 82,575.5 82.5,575.5 83,575.5 83.5,575.5 84,575.5 84.5,575.5 85,575.5 85.5,575.5 86,575.5 86.5,575.5 87,575.5 87.5,575.5 88,575.5 88.5,575.5 89,575.5 89.5,575.5 90,575.5 90.5,575.5 91,575.5 91.5,575.5 92,575.5 92.5,575.5 93,575.5 93.5,575.5 94,575.5 94.5,575.5 95,575.5 95.5,575.5 96,575.5 96.5,575.5 97,575.5 97.5,575.5 98,575.5 98.5,575.5 99,575.5 99.5,575.5 100,575.5 100.5,575.5 101,575.5 101.5,575.5 102,575.5 102.5,575.5 103,575.5 103.5,575.5 104,575.5 104.5,575.5 105,575.5 105.5,575.5 106,575.5 106.5,575.5 107,575.5 107.5,575.5 108,575.5 108.5,575.5 109,575.5 109.5,575.5 110,575.5 110.5,575.5 111,575.5 111.5,575.5 112,575.5 112.5,575.5 113,575.5 113.5,575.5 114,575.5 114.5,575.5 115,575.5 115.5,575.5 116,575.5 116.5,575.5 117,575.5 117.5,575.5 118,575.5 118.5,575.5 119,575.5 119.5,575.5 120,575.5 120.5,575.5 121,575.5 121.5,575.5 122,575.5 122.5,575.5 123,575.5 123.5,575.5 124,575.5 124.5,575.5 125,575.5 125.5,575.5 126,575.5 126.5,575.4 127,575.3 127.5,575 128,574.7 128.5,574.4 129,574.1 129.5,573.8 130,573.6 130.5,573.4 131,573.3 131.5,573.1 132,573 132.5,572.8 133,572.7 133.5,572.6 134,572.5 134.5,572.4 135,572.3 135.5,572.2 136,572.1 136.5,572 137,571.9 137.5,571.7 138,571.6 138.5,571.4 139,571.3 139.5,571.1 140,570.9 140.5,570.7 141,570.5 141.5,570.2 142,569.8 142.5,569.4 143,568.9 143.5,568.4 144,567.8 144.5,567.1 145,566.5 145.5,565.8 146,565 146.5,564.3 147,563.5 147.5,562.6 148,561.7 148.5,560.6 149,559.4 149.5,558.2 150,556.8 150.5,555.5 151,554.1 151.5,552.7 152,551.3 152.5,549.9 153,548.5 153.5,547.2 154,545.7 154.5,544.1 155,542.5 155.5,541 156,539.6 156.5,538.4 157,537.4 157.5,536.7 158,536.1 158.5,535.8 159,536.1 159.5,537 160,538.4 160.5,540.3 161,542.2 161.5,544.2 162,546.2 162.5,548.6 163,551.2 163.5,554 164,556.7 164.5,559.2 165,561.3 165.5,563.4 166,565.5 166.5,567.5 167,569.2 167.5,570.5 168,571.5 168.5,572.2 169,572.8 169.5,573.4 170,573.8 170.5,574.2 171,574.4 171.5,574.6 172,574.8 172.5,574.9 173,575.1 173.5,575.2 174,575.3 174.5,575.4 175,575.4 175.5,575.5 176,575.5 176.5,575.5 177,575.5 177.5,575.5 178,575.5 178.5,575.5 179,575.5 179.5,575.5 180,575.5 180.5,575.5 181,575.5 181.5,575.5 182,575.5 182.5,575.5 183,575.5 183.5,575.5 184,575.5 184.5,575.5 185,575.5 185.5,575.5 186,575.5 186.5,575.5 187,575.5 187.5,575.5 188,575.5 188.5,575.5 189,575.5 189.5,575.5 190,575.5 190.5,575.5 191,575.5 191.5,575.5 192,575.5 192.5,575.5 193,575.5 193.5,575.5 194,575.5 194.5,575.5 195,575.5 195.5,575.5 196,575.5 196.5,575.5 197,575.5 197.5,575.5 198,575.5 198.5,575.5 199,575.5 199.5,575.5 200,575.5 200.5,575.5 201,575.5 201.5,575.5 202,575.5 202.5,575.5 203,575.5 203.5,575.5 204,575.5 204.5,575.5 205,575.5 205.5,575.5 206,575.5 206.5,575.5 207,575.5 207.5,575.5 208,575.5 208.5,575.5 209,575.5 209.5,575.5 210,575.5 210.5,575.5 211,575.5 211.5,575.5 212,575.5 212.5,575.5 213,575.5 213.5,575.5 214,575.5 214.5,575.5 215,575.5 215.5,575.5 216,575.5 216.5,575.5 217,575.5 217.5,575.5 218,575.5 218.5,575.5 219,575.5 219.5,575.5 220,575.5 220.5,575.5 221,575.5 221.5,575.5 222,575.5 222.5,575.5 223,575.5 223.5,575.5 224,575.5 224.5,575.5 225,575.5 225.5,575.5 226,575.5 226.5,575.5 227,575.5 227.5,575.5 228,575.5 228.5,575.5 229,575.5 229.5,575.5 230,575.5 230.5,575.5 231,575.5 231.5,575.5 232,575.5 232.5,575.5 233,575.5 233.5,575.5 234,575.5 234.5,575.5 235,575.4 235.5,575.3 236,575.1 236.5,574.9 237,574.7 237.5,574.4 238,574.1 238.5,573.8 239,573.4 239.5,572.7 240,571.7 240.5,570.2 241,568.5 241.5,566.4 242,564.2 242.5,561.8 243,559.2 243.5,556.5 244,553.8 244.5,551.2 245,548.5 245.5,545.8 246,542.7 246.5,539.3 247,535.7 247.5,532.1 248,528.4 248.5,524.8 249,521.4 249.5,518.3 250,515.5 250.5,512.6 251,509.7 251.5,506.8 252,504.2 252.5,502 253,500.1 253.5,498.9 254,498.1 254.5,497.4 255,497.1 255.5,497.4 256,498.3 256.5,499.8 257,501.7 257.5,503.7 258,505.7 258.5,507.6 259,509.9 259.5,512.4 260,515.1 260.5,517.7 261,520.1 261.5,522 262,523.4 262.5,524.4 263,525.3 263.5,526.2 264,526.8 264.5,527.1 265,527.2 265.5,526.7 266,525.7 266.5,524.4 267,522.7 267.5,520.7 268,518.5 268.5,516.1 269,513.5 269.5,511 270,508.4 270.5,505.9 271,503.5 271.5,501.3 272,499.3 272.5,497.6 273,496.3 273.5,495.2 274,494 274.5,492.9 275,491.8 275.5,490.7 276,489.6 276.5,488.5 277,487.5 277.5,486.6 278,485.7 278.5,484.8 279,484.1 279.5,483.4 280,482.8 280.5,482.3 281,481.9 281.5,481.6 282,481.4 282.5,481.4 283,481.7 283.5,482.3 284,483.3 284.5,484.4 285,485.8 285.5,487.3 286,488.9 286.5,490.6 287,492.2 287.5,493.7 288,495.1 288.5,496.3 289,497.5 289.5,498.9 290,500.2 290.5,501.2 291,501.7 291.5,501.7 292,501.3 292.5,500.7 293,499.8 293.5,498.7 294,497.7 294.5,496.6 295,495.6 295.5,494.8 296,494.2 296.5,493.9 297,493.6 297.5,493.4 298,493.2 298.5,493 299,493 299.5,493.3 300,494.1 300.5,495.2 301,496.8 301.5,498.5 302,500.4 302.5,502.3 303,504.2 303.5,506 304,507.6 304.5,509.5 305,511.5 305.5,513.1 306,514 306.5,513.6 307,512.2 307.5,510 308,507 308.5,503.6 309,499.8 309.5,496 310,492.2 310.5,488.6 311,484.8 311.5,480.3 312,475.7 312.5,471.5 313,468 313.5,465.7 314,463.6 314.5,461.7 315,460.2 315.5,459.2 316,458.8 316.5,459.2 317,460.5 317.5,462.4 318,464.7 318.5,467.4 319,470.3 319.5,473.3 320,477.3 320.5,482.2 321,487.8 321.5,493.5 322,499.1 322.5,504.2 323,508.7 323.5,513.1 324,517.3 324.5,521.5 325,525.4 325.5,529.2 326,532.7 326.5,536 327,539.2 327.5,542.2 328,545.1 328.5,547.9 329,550.5 329.5,553 330,555.6 330.5,558.2 331,560.7 331.5,563 332,565.1 332.5,566.8 333,568 333.5,568.9 334,569.8 334.5,570.7 335,571.4 335.5,572 336,572.5 336.5,572.7 337,572.8 337.5,572.4 338,571.4 338.5,569.9 339,567.9 339.5,565.5 340,562.7 340.5,559.6 341,556.2 341.5,552.5 342,548.6 342.5,544.6 343,540.4 343.5,536.2 344,531.9 344.5,527.7 345,523.5 345.5,518.8 346,513.6 346.5,507.9 347,501.8 347.5,495.4 348,488.7 348.5,481.8 349,474.8 349.5,467.6 350,460.4 350.5,452.9 351,444.2 351.5,434.9 352,425.4 352.5,416.1 353,407.5 353.5,399.9 354,393.9 354.5,389.1 355,384.4 355.5,379.8 356,375.4 356.5,371.3 357,367.6 357.5,364.4 358,361.8 358.5,359.9 359,358.8 359.5,358.5 360,358.9 360.5,359.7 361,361 361.5,362.7 362,364.7 362.5,367 363,369.6 363.5,372.4 364,375.4 364.5,378.4 365,381.9 365.5,386.8 366,393 366.5,400.1 367,407.7 367.5,415.5 368,423.1 368.5,430.1 369,436.4 369.5,443.1 370,450 370.5,456.8 371,463.1 371.5,468.9 372,473.6 372.5,477.1 373,479.5 373.5,481.6 374,483.5 374.5,485.2 375,486.7 375.5,488.1 376,489.3 376.5,490.5 377,491.6 377.5,492.6 378,493.6 378.5,494.5 379,495.2 379.5,495.9 380,496.5 380.5,497.1 381,497.7 381.5,498.3 382,499.1 382.5,499.9 383,500.9 383.5,502.2 384,504 384.5,506.3 385,509 385.5,511.9 386,515.1 386.5,518.3 387,521.6 387.5,524.8 388,527.8 388.5,530.5 389,533.1 389.5,535.8 390,538.5 390.5,541.3 391,544 391.5,546.7 392,549.3 392.5,551.8 393,554.2 393.5,556.5 394,558.5 394.5,560.3 395,561.9 395.5,563.3 396,564.7 396.5,566.1 397,567.5 397.5,568.8 398,569.9 398.5,570.9 399,571.7 399.5,572.3 400,572.7 400.5,572.8 401,572.7 401.5,572.4 402,572 402.5,571.5 403,570.8 403.5,570.1 404,569.2 404.5,568.3 405,567.3 405.5,566.3 406,565.2 406.5,564 407,562.9 407.5,561.7 408,560.6 408.5,559.5 409,558.4 409.5,557.3 410,556.3 410.5,555.1 411,553.8 411.5,552.5 412,551 412.5,549.6 413,548.2 413.5,546.8 414,545.4 414.5,544.2 415,543.1 415.5,542.1 416,541.4 416.5,540.8 417,540.3 417.5,539.9 418,539.6 418.5,539.2 419,538.9 419.5,538.7 420,538.4 420.5,538.2 421,537.9 421.5,537.7 422,537.4 422.5,537.1 423,536.8 423.5,536.4 424,536 424.5,535.5 425,535 425.5,534.4 426,533.7 426.5,533 427,532.3 427.5,531.5 428,530.6 428.5,529.7 429,528.8 429.5,527.9 430,526.9 430.5,525.8 431,524.8 431.5,523.5 432,522 432.5,520.3 433,518.6 433.5,516.8 434,515.1 434.5,513.4 435,511.9 435.5,510.6 436,509.5 436.5,508.6 437,507.7 437.5,506.8 438,506 438.5,505.2 439,504.5 439.5,503.9 440,503.4 440.5,503 441,502.8 441.5,502.7 442,502.9 442.5,503.3 443,503.9 443.5,504.6 444,505.4 444.5,506.3 445,507.2 445.5,508.1 446,508.9 446.5,509.6 447,510.1 447.5,510.5 448,510.6 448.5,510.5 449,510.2 449.5,509.7 450,509.1 450.5,508.5 451,507.7 451.5,507 452,506.3 452.5,505.6 453,505 453.5,504.5 454,504.2 454.5,504 455,504 455.5,504.1 456,504.3 456.5,504.5 457,504.8 457.5,505.1 458,505.4 458.5,505.8 459,506.2 459.5,506.6 460,507 460.5,507.5 461,507.8 461.5,508.2 462,508.6 462.5,509 463,509.5 463.5,509.9 464,510.4 464.5,510.9 465,511.4 465.5,511.9 466,512.4 466.5,513 467,513.5 467.5,514.1 468,514.7 468.5,515.3 469,515.9 469.5,516.6 470,517.2" stroke="#ec7f9c" stroke-width="5.0"/>
<path d="M61.5,575.5 62,575.5 62.5,575.5 63,575.5 63.5,575.5 64,575.5 64.5,575.5 65,575.5 65.5,575.5 66,575.5 66.5,575.5 67,575.5 67.5,575.5 68,575.5 68.5,575.5 69,575.5 69.5,575.5 70,575.5 70.5,575.5 71,575.5 71.5,575.5 72,575.5 72.5,575.5 73,575.5 73.5,575.5 74,575.5 74.5,575.5 75,575.5 75.5,575.5 76,575.5 76.5,575.5 77,575.5 77.5,575.5 78,575.5 78.5,575.5 79,575.5 79.5,575.5 80,575.5 80.5,575.5 81,575.5 81.5,575.5 82,575.5 82.5,575.5 83,575.5 83.5,575.5 84,575.5 84.5,575.5 85,575.5 85.5,575.5 86,575.5 86.5,575.5 87,575.5 87.5,575.5 88,575.5 88.5,575.5 89,575.5 89.5,575.5 90,575.5 90.5,575.5 91,575.5 91.5,575.5 92,575.5 92.5,575.5 93,575.5 93.5,575.5 94,575.5 94.5,575.5 95,575.5 95.5,575.5 96,575.5 96.5,575.5 97,575.5 97.5,575.5 98,575.5 98.5,575.5 99,575.5 99.5,575.5 100,575.5 100.5,575.5 101,575.5 101.5,575.5 102,575.5 102.5,575.5 103,575.5 103.5,575.5 104,575.5 104.5,575.5 105,575.5 105.5,575.5 106,575.5 106.5,575.5 107,575.5 107.5,575.5 108,575.5 108.5,575.5 109,575.5 109.5,575.5 110,575.5 110.5,575.5 111,575.5 111.5,575.5 112,575.5 112.5,575.5 113,575.5 113.5,575.5 114,575.5 114.5,575.5 115,575.5 115.5,575.5 116,575.5 116.5,575.5 117,575.5 117.5,575.5 118,575.5 118.5,575.5 119,575.5 119.5,575.5 120,575.5 120.5,575.5 121,575.5 121.5,575.5 122,575.5 122.5,575.5 123,575.5 123.5,575.5 124,575.5 124.5,575.4 125,575.3 125.5,575.1 126,574.8 126.5,574.5 127,574.1 127.5,573.7 128,573.2 128.5,572.8 129,572.3 129.5,571.7 130,571 130.5,570.3 131,569.4 131.5,568.5 132,567.6 132.5,566.6 133,565.6 133.5,564.5 134,563.4 134.5,562.4 135,561.3 135.5,560.3 136,559.3 136.5,558.3 137,557.4 137.5,556.6 138,555.8 138.5,555 139,554.3 139.5,553.6 140,552.9 140.5,552.1 141,551.3 141.5,550.4 142,549.4 142.5,548.3 143,547.1 143.5,545.7 144,543.8 144.5,541.5 145,539 145.5,536.1 146,533.2 146.5,530.1 147,527.1 147.5,524 148,520.7 148.5,517.2 149,513.6 149.5,510 150,506.3 150.5,502.8 151,499.1 151.5,495.5 152,491.8 152.5,488.2 153,484.6 153.5,481 154,477.2 154.5,473.4 155,469.7 155.5,466.3 156,463.4 156.5,461.1 157,459 157.5,457.2 158,456.1 158.5,456.1 159,456.9 159.5,458.3 160,460.2 160.5,462.4 161,464.7 161.5,467.8 162,472 162.5,477.1 163,482.8 163.5,488.9 164,496.5 164.5,504.8 165,512.5 165.5,520.2 166,527.5 166.5,533.9 167,539.7 167.5,545.1 168,550 168.5,554.3 169,558 169.5,561.6 170,565 170.5,568.1 171,570.6 171.5,572.2 172,573 172.5,573.6 173,574.1 173.5,574.5 174,574.8 174.5,575.1 175,575.3 175.5,575.5 176,575.5 176.5,575.5 177,575.5 177.5,575.5 178,575.5 178.5,575.5 179,575.5 179.5,575.5 180,575.5 180.5,575.5 181,575.5 181.5,575.5 182,575.5 182.5,575.5 183,575.5 183.5,575.5 184,575.5 184.5,575.5 185,575.5 185.5,575.5 186,575.5 186.5,575.5 187,575.5 187.5,575.5 188,575.5 188.5,575.5 189,575.5 189.5,575.5 190,575.5 190.5,575.5 191,575.5 191.5,575.5 192,575.5 192.5,575.5 193,575.5 193.5,575.5 194,575.5 194.5,575.5 195,575.5 195.5,575.5 196,575.5 196.5,575.5 197,575.5 197.5,575.5 198,575.5 198.5,575.5 199,575.5 199.5,575.5 200,575.5 200.5,575.5 201,575.5 201.5,575.5 202,575.5 202.5,575.5 203,575.5 203.5,575.5 204,575.5 204.5,575.5 205,575.5 205.5,575.5 206,575.5 206.5,575.5 207,575.5 207.5,575.5 208,575.5 208.5,575.5 209,575.5 209.5,575.5 210,575.5 210.5,575.5 211,575.5 211.5,575.5 212,575.5 212.5,575.5 213,575.5 213.5,575.5 214,575.5 214.5,575.5 215,575.5 215.5,575.5 216,575.5 216.5,575.5 217,575.5 217.5,575.5 218,575.5 218.5,575.5 219,575.5 219.5,575.5 220,575.5 220.5,575.5 221,575.5 221.5,575.5 222,575.5 222.5,575.5 223,575.5 223.5,575.5 224,575.5 224.5,575.5 225,575.5 225.5,575.5 226,575.5 226.5,575.5 227,575.5 227.5,575.5 228,575.5 228.5,575.5 229,575.5 229.5,575.5 230,575.5 230.5,575.5 231,575.5 231.5,575.5 232,575.5 232.5,575.5 233,575.5 233.5,575.5 234,575.5 234.5,575.5 235,575.4 235.5,575.3 236,575.1 236.5,574.9 237,574.7 237.5,574.4 238,574.1 238.5,573.8 239,573.4 239.5,572.7 240,571.7 240.5,570.2 241,568.5 241.5,566.4 242,564.2 242.5,561.8 243,559.2 243.5,556.5 244,553.8 244.5,551.2 245,548.5 245.5,545.8 246,542.7 246.5,539.3 247,535.6 247.5,531.9 248,528.2 248.5,524.7 249,521.3 249.5,518.3 250,515.6 250.5,512.9 251,510.2 251.5,507.7 252,505.3 252.5,503.2 253,501.5 253.5,500.2 254,499.2 254.5,498.4 255,498 255.5,498.2 256,499.1 256.5,500.4 257,502.1 257.5,503.9 258,505.7 258.5,507.5 259,509.7 259.5,512.3 260,515 260.5,517.6 261,520 261.5,522 262,523.4 262.5,524.4 263,525.3 263.5,526.2 264,526.8 264.5,527.1 265,527.1 265.5,526.4 266,525 266.5,523.1 267,520.7 267.5,518.1 268,515.3 268.5,512.5 269,509.8 269.5,507.3 270,505.2 270.5,503.6 271,502.5 271.5,501.7 272,500.8 272.5,500.1 273,499.4 273.5,498.7 274,498.1 274.5,497.6 275,497.1 275.5,496.8 276,496.4 276.5,496.2 277,496 277.5,495.8 278,495.6 278.5,495.5 279,495.3 279.5,495.2 280,495.2 280.5,495.3 281,496 281.5,497.2 282,498.6 282.5,500.3 283,502.1 283.5,503.7 284,505.1 284.5,506.4 285,507.9 285.5,509.5 286,511 286.5,512.6 287,514.1 287.5,515.4 288,516.6 288.5,517.5 289,518.1 289.5,518.4 290,518.1 290.5,517.1 291,515.5 291.5,513.4 292,511 292.5,508.3 293,505.5 293.5,502.8 294,500.3 294.5,498.1 295,496.3 295.5,494.8 296,493.1 296.5,491.5 297,489.9 297.5,488.4 298,487 298.5,485.7 299,484.7 299.5,483.8 300,483.3 300.5,483 301,483.1 301.5,483.6 302,484.4 302.5,485.5 303,486.7 303.5,488.2 304,489.7 304.5,491.3 305,493 305.5,494.5 306,496 306.5,497.4 307,498.9 307.5,500.5 308,502.1 308.5,503.7 309,505.4 309.5,507.1 310,508.9 310.5,510.6 311,512.4 311.5,514.3 312,516.2 312.5,518.1 313,520.1 313.5,522 314,523.9 314.5,525.8 315,527.5 315.5,529.2 316,530.9 316.5,532.5 317,534.1 317.5,535.7 318,537.3 318.5,539 319,540.8 319.5,542.6 320,544.4 320.5,546.2 321,548 321.5,549.8 322,551.6 322.5,553.3 323,554.9 323.5,556.4 324,557.9 324.5,559.3 325,560.9 325.5,562.4 326,563.9 326.5,565.4 327,566.8 327.5,568.1 328,569.2 328.5,570.3 329,571.1 329.5,571.7 330,572 330.5,572.2 331,572.4 331.5,572.6 332,572.7 332.5,572.9 333,573 333.5,573.1 334,573.2 334.5,573.2 335,573.3 335.5,573.3 336,573.3 336.5,573.1 337,572.9 337.5,572.5 338,572.1 338.5,571.6 339,571 339.5,570.3 340,569.6 340.5,568.8 341,567.9 341.5,567 342,566.1 342.5,565.1 343,564 343.5,563 344,561.9 344.5,560.8 345,559.6 345.5,558.5 346,557.4 346.5,556.2 347,554.7 347.5,553 348,551.2 348.5,549.1 349,546.9 349.5,544.6 350,542.3 350.5,539.9 351,537.6 351.5,535.2 352,533 352.5,530.9 353,528.9 353.5,527.1 354,525.5 354.5,524.1 355,522.6 355.5,521.1 356,519.6 356.5,518.1 357,516.7 357.5,515.3 358,513.9 358.5,512.7 359,511.6 359.5,510.6 360,509.7 360.5,509 361,508.4 361.5,508.1 362,508 362.5,508.2 363,508.8 363.5,509.7 364,510.8 364.5,512.1 365,513.6 365.5,515.1 366,516.5 366.5,517.9 367,519.2 367.5,520.3 368,521.4 368.5,522.6 369,523.8 369.5,524.9 370,526.1 370.5,527.3 371,528.4 371.5,529.4 372,530.4 372.5,531.3 373,532 373.5,532.7 374,533.2 374.5,533.6 375,534 375.5,534.3 376,534.5 376.5,534.8 377,535 377.5,535.2 378,535.5 378.5,535.7 379,536 379.5,536.3 380,536.6 380.5,537 381,537.5 381.5,538.1 382,538.8 382.5,539.6 383,540.4 383.5,541.3 384,542.3 384.5,543.3 385,544.3 385.5,545.4 386,546.5 386.5,547.5 387,548.6 387.5,549.6 388,550.8 388.5,552 389,553.3 389.5,554.7 390,556.1 390.5,557.4 391,558.8 391.5,560.1 392,561.3 392.5,562.5 393,563.5 393.5,564.4 394,565.2 394.5,566 395,566.7 395.5,567.5 396,568.2 396.5,568.9 397,569.6 397.5,570.3 398,570.9 398.5,571.4 399,571.9 399.5,572.4 400,572.7 400.5,573 401,573.2 401.5,573.3 402,573.3 402.5,573.2 403,573.1 403.5,572.8 404,572.6 404.5,572.2 405,571.9 405.5,571.5 406,571 406.5,570.6 407,570.1 407.5,569.6 408,569.1 408.5,568.6 409,568.1 409.5,567.6 410,567.2 410.5,566.7 411,566.2 411.5,565.7 412,565.1 412.5,564.5 413,563.9 413.5,563.3 414,562.7 414.5,562 415,561.4 415.5,560.8 416,560.2 416.5,559.7 417,559.2 417.5,558.7 418,558.3 418.5,558 419,557.7 419.5,557.5 420,557.2 420.5,557 421,556.8 421.5,556.7 422,556.5 422.5,556.3 423,556.2 423.5,556 424,555.8 424.5,555.6 425,555.4 425.5,555.2 426,555 426.5,554.7 427,554.4 427.5,554 428,553.6 428.5,553.1 429,552.6 429.5,552 430,551.4 430.5,550.7 431,550 431.5,549.3 432,548.6 432.5,547.8 433,547 433.5,546.2 434,545.4 434.5,544.6 435,543.8 435.5,543 436,542.2 436.5,541.4 437,540.7 437.5,539.9 438,539.2 438.5,538.5 439,537.8 439.5,537.1 440,536.4 440.5,535.7 441,535 441.5,534.2 442,533.5 442.5,532.8 443,532.1 443.5,531.4 444,530.6 444.5,529.9 445,529.1 445.5,528.4 446,527.6 446.5,526.8 447,526 447.5,525.2 448,524.4 448.5,523.5 449,522.6 449.5,521.7 450,520.7 450.5,519.7 451,518.6 451.5,517.5 452,516.3 452.5,515.2 453,514.1 453.5,513 454,511.9 454.5,510.8 455,509.8 455.5,508.9 456,508 456.5,507.3 457,506.6 457.5,506 458,505.5 458.5,504.9 459,504.4 459.5,503.9 460,503.4 460.5,503 461,502.5 461.5,502.1 462,501.7 462.5,501.3 463,501 463.5,500.7 464,500.3 464.5,500.1 465,499.8 465.5,499.6 466,499.3 466.5,499.1 467,498.9 467.5,498.7 468,498.5 468.5,498.4 469,498.2 469.5,498.1 470,498" stroke="#d4a04e" stroke-width="5.0" stroke-dasharray="26.5 6"/>
<line x1="333.97" y1="315.5" x2="333.97" y2="575.5" stroke="#6e6e6e" stroke-width="1.8" stroke-dasharray="7.4 3.2"/>
</g>
<g clip-path="url(#cp10)" fill="none" stroke-linejoin="round">
<path d="M592.7,315.5 593.2,315.5 593.7,315.5 594.2,315.5 594.7,315.5 595.2,315.5 595.7,315.5 596.2,315.5 596.7,315.5 597.2,315.5 597.7,315.5 598.2,315.5 598.7,315.5 599.2,315.5 599.7,315.5 600.2,315.5 600.7,315.5 601.2,315.5 601.7,315.5 602.2,315.5 602.7,315.5 603.2,315.5 603.7,315.5 604.2,315.5 604.7,315.5 605.2,315.5 605.7,315.5 606.2,315.5 606.7,315.5 607.2,315.5 607.7,315.5 608.2,315.5 608.7,315.5 609.2,315.5 609.7,315.5 610.2,315.5 610.7,315.5 611.2,315.5 611.7,315.5 612.2,315.5 612.7,315.5 613.2,315.5 613.7,315.5 614.2,315.5 614.7,315.5 615.2,315.5 615.7,315.5 616.2,315.5 616.7,315.5 617.2,315.5 617.7,315.5 618.2,315.5 618.7,315.5 619.2,315.5 619.7,315.5 620.2,315.5 620.7,315.5 621.2,315.5 621.7,315.5 622.2,315.5 622.7,315.5 623.2,315.5 623.7,315.5 624.2,315.5 624.7,315.5 625.2,315.5 625.7,315.5 626.2,315.5 626.7,315.5 627.2,315.5 627.7,315.5 628.2,315.5 628.7,315.5 629.2,315.5 629.7,315.5 630.2,315.5 630.7,315.5 631.2,315.5 631.7,315.5 632.2,315.5 632.7,315.5 633.2,315.5 633.7,315.5 634.2,315.5 634.7,315.5 635.2,315.5 635.7,315.5 636.2,315.5 636.7,315.5 637.2,315.5 637.7,315.5 638.2,315.5 638.7,315.5 639.2,315.4 639.7,315.3 640.2,315.2 640.7,315.1 641.2,314.9 641.7,314.7 642.2,314.5 642.7,314.3 643.2,314.1 643.7,313.8 644.2,313.5 644.7,312.9 645.2,312.1 645.7,311 646.2,309.7 646.7,308.3 647.2,306.8 647.7,305.1 648.2,303.3 648.7,301.5 649.2,299.7 649.7,297.9 650.2,296.1 650.7,294.5 651.2,292.9 651.7,291.4 652.2,290.1 652.7,288.9 653.2,287.8 653.7,286.7 654.2,285.7 654.7,284.7 655.2,283.7 655.7,282.7 656.2,281.6 656.7,280.5 657.2,279.3 657.7,278 658.2,276.6 658.7,275.1 659.2,273.3 659.7,271.4 660.2,269.2 660.7,266.8 661.2,264.2 661.7,261.4 662.2,258.3 662.7,255.1 663.2,251.7 663.7,248.2 664.2,244 664.7,239.2 665.2,233.9 665.7,228.3 666.2,222.7 666.7,217.3 667.2,212.2 667.7,207.4 668.2,202.7 668.7,198 669.2,193.2 669.7,188.1 670.2,182.8 670.7,176.9 671.2,169.7 671.7,161.8 672.2,154.5 672.7,148.8 673.2,144.9 673.7,141.2 674.2,138.1 674.7,136.1 675.2,135.5 675.7,136.3 676.2,138 676.7,140.4 677.2,143.5 677.7,147 678.2,150.8 678.7,156.9 679.2,165.4 679.7,175.2 680.2,185.2 680.7,194.8 681.2,204.5 681.7,214.7 682.2,225 682.7,235.3 683.2,245.8 683.7,257 684.2,268 684.7,277.6 685.2,284.9 685.7,290.9 686.2,296.5 686.7,301.3 687.2,305.3 687.7,308.2 688.2,310 688.7,311.6 689.2,312.8 689.7,313.7 690.2,314.2 690.7,314.4 691.2,314.6 691.7,314.8 692.2,315 692.7,315.1 693.2,315.2 693.7,315.3 694.2,315.4 694.7,315.4 695.2,315.5 695.7,315.5 696.2,315.5 696.7,315.5 697.2,315.5 697.7,315.5 698.2,315.5 698.7,315.5 699.2,315.5 699.7,315.5 700.2,315.5 700.7,315.5 701.2,315.5 701.7,315.5 702.2,315.5 702.7,315.5 703.2,315.5 703.7,315.5 704.2,315.5 704.7,315.5 705.2,315.5 705.7,315.5 706.2,315.5 706.7,315.5 707.2,315.5 707.7,315.5 708.2,315.5 708.7,315.5 709.2,315.5 709.7,315.5 710.2,315.5 710.7,315.5 711.2,315.5 711.7,315.5 712.2,315.5 712.7,315.5 713.2,315.5 713.7,315.5 714.2,315.5 714.7,315.5 715.2,315.5 715.7,315.5 716.2,315.5 716.7,315.5 717.2,315.5 717.7,315.5 718.2,315.5 718.7,315.5 719.2,315.5 719.7,315.5 720.2,315.5 720.7,315.5 721.2,315.5 721.7,315.5 722.2,315.5 722.7,315.5 723.2,315.5 723.7,315.5 724.2,315.5 724.7,315.5 725.2,315.5 725.7,315.5 726.2,315.5 726.7,315.5 727.2,315.5 727.7,315.5 728.2,315.5 728.7,315.5 729.2,315.5 729.7,315.5 730.2,315.5 730.7,315.5 731.2,315.5 731.7,315.5 732.2,315.5 732.7,315.5 733.2,315.5 733.7,315.5 734.2,315.5 734.7,315.5 735.2,315.5 735.7,315.5 736.2,315.5 736.7,315.5 737.2,315.5 737.7,315.5 738.2,315.5 738.7,315.5 739.2,315.5 739.7,315.5 740.2,315.5 740.7,315.5 741.2,315.5 741.7,315.5 742.2,315.5 742.7,315.5 743.2,315.5 743.7,315.5 744.2,315.5 744.7,315.5 745.2,315.5 745.7,315.5 746.2,315.5 746.7,315.5 747.2,315.5 747.7,315.5 748.2,315.5 748.7,315.5 749.2,315.4 749.7,315.3 750.2,315.2 750.7,315.1 751.2,314.9 751.7,314.7 752.2,314.5 752.7,314.2 753.2,314 753.7,313.6 754.2,312.6 754.7,311 755.2,308.8 755.7,306.2 756.2,303.2 756.7,300 757.2,296.7 757.7,293.3 758.2,290 758.7,286.6 759.2,282.7 759.7,278.6 760.2,274.2 760.7,269.5 761.2,264.7 761.7,259.6 762.2,254.4 762.7,249 763.2,243.1 763.7,236.5 764.2,229.5 764.7,222.3 765.2,215.2 765.7,208.6 766.2,202.7 766.7,197.1 767.2,191.3 767.7,185.7 768.2,180.5 768.7,176 769.2,172.5 769.7,170.2 770.2,168.7 770.7,167.3 771.2,166.3 771.7,165.7 772.2,165.7 772.7,166.5 773.2,167.9 773.7,170 774.2,172.5 774.7,175.1 775.2,177.9 775.7,180.7 776.2,184.2 776.7,188.5 777.2,193.1 777.7,197.8 778.2,202.1 778.7,205.6 779.2,208.3 779.7,210.7 780.2,213 780.7,214.7 781.2,215.5 781.7,214.9 782.2,212.6 782.7,209.1 783.2,204.8 783.7,200.1 784.2,195.4 784.7,191.1 785.2,186.8 785.7,181.8 786.2,176.6 786.7,171.6 787.2,167 787.7,163.4 788.2,161 788.7,159.5 789.2,158.2 789.7,157.1 790.2,156.1 790.7,155.3 791.2,154.6 791.7,154 792.2,153.4 792.7,152.8 793.2,152.3 793.7,151.7 794.2,151.2 794.7,150.8 795.2,150.3 795.7,150 796.2,149.7 796.7,149.5 797.2,149.4 797.7,149.5 798.2,150.3 798.7,151.9 799.2,154 799.7,156.5 800.2,159.2 800.7,161.8 801.2,164.3 801.7,167.4 802.2,170.9 802.7,174.5 803.2,178 803.7,181.1 804.2,183.4 804.7,185 805.2,186.4 805.7,187.7 806.2,188.8 806.7,189.6 807.2,190 807.7,189.7 808.2,188 808.7,185.2 809.2,181.5 809.7,177.2 810.2,172.8 810.7,168.5 811.2,164.6 811.7,161.3 812.2,157.8 812.7,154.2 813.2,150.8 813.7,147.6 814.2,144.9 814.7,142.9 815.2,141.7 815.7,140.7 816.2,139.8 816.7,139.2 817.2,139 817.7,139.5 818.2,140.9 818.7,143 819.2,145.6 819.7,148.4 820.2,151.3 820.7,154 821.2,156.8 821.7,160.2 822.2,163.7 822.7,167.2 823.2,170.5 823.7,173.2 824.2,175.3 824.7,177 825.2,178.7 825.7,179.9 826.2,180.6 826.7,180.7 827.2,180.4 827.7,180 828.2,179.6 828.7,179 829.2,178.5 829.7,177.9 830.2,177.5 830.7,177.3 831.2,177.2 831.7,177.6 832.2,178.5 832.7,179.8 833.2,181.4 833.7,183.2 834.2,185.2 834.7,187.3 835.2,190.1 835.7,193.7 836.2,197.8 836.7,202.2 837.2,206.9 837.7,211.5 838.2,216 838.7,220.7 839.2,225.6 839.7,230.6 840.2,235.7 840.7,240.9 841.2,246 841.7,251 842.2,256.3 842.7,261.8 843.2,267.2 843.7,272.4 844.2,277.3 844.7,281.5 845.2,285.1 845.7,288.4 846.2,291.6 846.7,294.7 847.2,297.6 847.7,300.3 848.2,302.6 848.7,304.5 849.2,306 849.7,307.1 850.2,307.9 850.7,308.8 851.2,309.5 851.7,310.2 852.2,310.9 852.7,311.5 853.2,312 853.7,312.4 854.2,312.7 854.7,312.9 855.2,313 855.7,313 856.2,312.7 856.7,312.4 857.2,311.8 857.7,311.2 858.2,310.4 858.7,309.4 859.2,307.4 859.7,304.2 860.2,300 860.7,295.1 861.2,289.5 861.7,283.4 862.2,277.1 862.7,270.6 863.2,264.2 863.7,257.7 864.2,250.3 864.7,242.1 865.2,233.5 865.7,224.5 866.2,215.4 866.7,206.3 867.2,197.5 867.7,188.9 868.2,179.9 868.7,170.5 869.2,161.1 869.7,151.9 870.2,143.3 870.7,135.4 871.2,128.6 871.7,123 872.2,117.5 872.7,112.1 873.2,106.9 873.7,101.8 874.2,97.1 874.7,92.9 875.2,89.3 875.7,86.3 876.2,84.1 876.7,82.7 877.2,82.4 877.7,83.1 878.2,84.5 878.7,86.7 879.2,89.4 879.7,92.5 880.2,95.9 880.7,99.5 881.2,103.1 881.7,107.3 882.2,112.6 882.7,118.7 883.2,125.3 883.7,132.2 884.2,139 884.7,145.6 885.2,151.6 885.7,157.2 886.2,163 886.7,168.9 887.2,174.7 887.7,180.2 888.2,185.1 888.7,189.4 889.2,192.6 889.7,194.9 890.2,196.7 890.7,198.3 891.2,199.8 891.7,201 892.2,202.2 892.7,203.3 893.2,204.3 893.7,205.2 894.2,206.2 894.7,207.3 895.2,208.3 895.7,209.3 896.2,210.2 896.7,211 897.2,211.9 897.7,212.8 898.2,213.8 898.7,215 899.2,216.4 899.7,218.2 900.2,220.5 900.7,223.1 901.2,226 901.7,229.2 902.2,232.6 902.7,236.1 903.2,239.6 903.7,243.1 904.2,246.6 904.7,249.9 905.2,253.2 905.7,256.8 906.2,260.5 906.7,264.3 907.2,268 907.7,271.8 908.2,275.5 908.7,279 909.2,282.4 909.7,285.5 910.2,288.4 910.7,291.1 911.2,293.9 911.7,296.7 912.2,299.3 912.7,301.6 913.2,303.8 913.7,305.5 914.2,306.9 914.7,307.9 915.2,308.9 915.7,309.8 916.2,310.7 916.7,311.4 917.2,312 917.7,312.4 918.2,312.6 918.7,312.5 919.2,312.1 919.7,311.4 920.2,310.4 920.7,309.1 921.2,307.7 921.7,306.1 922.2,304.4 922.7,302.7 923.2,301.1 923.7,299.4 924.2,297.8 924.7,296 925.2,294 925.7,291.8 926.2,289.6 926.7,287.3 927.2,285 927.7,282.8 928.2,280.8 928.7,279 929.2,277.4 929.7,276 930.2,274.8 930.7,273.6 931.2,272.5 931.7,271.5 932.2,270.5 932.7,269.6 933.2,268.7 933.7,267.8 934.2,267 934.7,266.2 935.2,265.4 935.7,264.6 936.2,263.9 936.7,263.3 937.2,262.7 937.7,262.1 938.2,261.6 938.7,261 939.2,260.5 939.7,259.9 940.2,259.3 940.7,258.7 941.2,258 941.7,257.3 942.2,256.5 942.7,255.7 943.2,254.7 943.7,253.6 944.2,252.2 944.7,250.6 945.2,248.8 945.7,246.9 946.2,244.9 946.7,242.9 947.2,240.9 947.7,239 948.2,237.1 948.7,235.4 949.2,233.8 949.7,232.2 950.2,230.6 950.7,229.1 951.2,227.5 951.7,226 952.2,224.6 952.7,223.1 953.2,221.7 953.7,220.3 954.2,218.9 954.7,217.3 955.2,215.8 955.7,214.3 956.2,212.9 956.7,211.6 957.2,210.6 957.7,209.8 958.2,209.3 958.7,209 959.2,208.7 959.7,208.5 960.2,208.3 960.7,208.1 961.2,207.9 961.7,207.7 962.2,207.5 962.7,207.2 963.2,206.8 963.7,206.4 964.2,205.9 964.7,205.3 965.2,204.5 965.7,203.5 966.2,201.5 966.7,198.6 967.2,195.1 967.7,191.4 968.2,187.7 968.7,184.4 969.2,181.8 969.7,180 970.2,178.3 970.7,176.7 971.2,175.2 971.7,173.8 972.2,172.7 972.7,171.7 973.2,170.9 973.7,170.4 974.2,170 974.7,169.7 975.2,169.4 975.7,169.1 976.2,168.9 976.7,168.7 977.2,168.6 977.7,168.5 978.2,168.5 978.7,168.5 979.2,168.6 979.7,168.7 980.2,168.8 980.7,169 981.2,169.2 981.7,169.4 982.2,169.6 982.7,170 983.2,170.5 983.7,171.1 984.2,171.8 984.7,172.5 985.2,173.3 985.7,174.2 986.2,175.2 986.7,176.3 987.2,177.6 987.7,178.9 988.2,180.4 988.7,181.9 989.2,183.4 989.7,185 990.2,186.7 990.7,188.3 991.2,190.1 991.7,192.3 992.2,194.8 992.7,197.4 993.2,199.7 993.7,201.7 994.2,203.1 994.7,203.7 995.2,204 995.7,204.3 996.2,204.5 996.7,204.5 997.2,204.1 997.7,203.4 998.2,202.4 998.7,201.1 999.2,199.8 999.7,198.4 1000.2,196.5 1000.7,194 1001.2,191.2 1001.7,188 1002,186" stroke="#8c8c8c" stroke-width="5.0"/>
<line x1="865.17" y1="56" x2="865.17" y2="315.5" stroke="#6e6e6e" stroke-width="1.8" stroke-dasharray="7.4 3.2"/>
</g>
<g clip-path="url(#cp11)" fill="none" stroke-linejoin="round">
<path d="M592.7,575.5 593.2,575.5 593.7,575.5 594.2,575.5 594.7,575.5 595.2,575.5 595.7,575.5 596.2,575.5 596.7,575.5 597.2,575.5 597.7,575.5 598.2,575.5 598.7,575.5 599.2,575.5 599.7,575.5 600.2,575.5 600.7,575.5 601.2,575.5 601.7,575.5 602.2,575.5 602.7,575.5 603.2,575.5 603.7,575.5 604.2,575.5 604.7,575.5 605.2,575.5 605.7,575.5 606.2,575.5 606.7,575.5 607.2,575.5 607.7,575.5 608.2,575.5 608.7,575.5 609.2,575.5 609.7,575.5 610.2,575.5 610.7,575.5 611.2,575.5 611.7,575.5 612.2,575.5 612.7,575.5 613.2,575.5 613.7,575.5 614.2,575.5 614.7,575.5 615.2,575.5 615.7,575.5 616.2,575.5 616.7,575.5 617.2,575.5 617.7,575.5 618.2,575.5 618.7,575.5 619.2,575.5 619.7,575.5 620.2,575.5 620.7,575.5 621.2,575.5 621.7,575.5 622.2,575.5 622.7,575.5 623.2,575.5 623.7,575.5 624.2,575.5 624.7,575.5 625.2,575.5 625.7,575.5 626.2,575.5 626.7,575.5 627.2,575.5 627.7,575.5 628.2,575.5 628.7,575.5 629.2,575.5 629.7,575.5 630.2,575.5 630.7,575.5 631.2,575.5 631.7,575.5 632.2,575.5 632.7,575.5 633.2,575.5 633.7,575.5 634.2,575.5 634.7,575.5 635.2,575.5 635.7,575.5 636.2,575.5 636.7,575.5 637.2,575.5 637.7,575.5 638.2,575.5 638.7,575.4 639.2,575.4 639.7,575.2 640.2,575.1 640.7,574.9 641.2,574.6 641.7,574.4 642.2,574.2 642.7,573.9 643.2,573.7 643.7,573.4 644.2,573.2 644.7,573 645.2,572.9 645.7,572.7 646.2,572.6 646.7,572.5 647.2,572.4 647.7,572.3 648.2,572.2 648.7,572.1 649.2,572 649.7,571.9 650.2,571.8 650.7,571.8 651.2,571.7 651.7,571.6 652.2,571.5 652.7,571.4 653.2,571.3 653.7,571.2 654.2,571 654.7,570.9 655.2,570.7 655.7,570.6 656.2,570.4 656.7,570.2 657.2,569.9 657.7,569.6 658.2,569.2 658.7,568.8 659.2,568.3 659.7,567.8 660.2,567.3 660.7,566.7 661.2,566.1 661.7,565.5 662.2,564.9 662.7,564.2 663.2,563.5 663.7,562.7 664.2,561.9 664.7,560.9 665.2,559.8 665.7,558.6 666.2,557.4 666.7,556.2 667.2,554.8 667.7,553.5 668.2,552.2 668.7,550.8 669.2,549.3 669.7,547.5 670.2,545.7 670.7,543.8 671.2,542.1 671.7,540.5 672.2,539.3 672.7,538.5 673.2,537.8 673.7,537.2 674.2,536.7 674.7,536.5 675.2,536.6 675.7,537.1 676.2,538 676.7,539 677.2,540.2 677.7,541.4 678.2,542.7 678.7,544.5 679.2,546.6 679.7,548.8 680.2,551.1 680.7,553.4 681.2,555.5 681.7,557.7 682.2,559.9 682.7,562.1 683.2,564.1 683.7,565.8 684.2,567.1 684.7,568.2 685.2,569.2 685.7,570.1 686.2,571 686.7,571.7 687.2,572.3 687.7,572.8 688.2,573.2 688.7,573.6 689.2,574 689.7,574.3 690.2,574.6 690.7,574.9 691.2,575.1 691.7,575.3 692.2,575.4 692.7,575.5 693.2,575.5 693.7,575.5 694.2,575.5 694.7,575.5 695.2,575.5 695.7,575.5 696.2,575.5 696.7,575.5 697.2,575.5 697.7,575.5 698.2,575.5 698.7,575.5 699.2,575.5 699.7,575.5 700.2,575.5 700.7,575.5 701.2,575.5 701.7,575.5 702.2,575.5 702.7,575.5 703.2,575.5 703.7,575.5 704.2,575.5 704.7,575.5 705.2,575.5 705.7,575.5 706.2,575.5 706.7,575.5 707.2,575.5 707.7,575.5 708.2,575.5 708.7,575.5 709.2,575.5 709.7,575.5 710.2,575.5 710.7,575.5 711.2,575.5 711.7,575.5 712.2,575.5 712.7,575.5 713.2,575.5 713.7,575.5 714.2,575.5 714.7,575.5 715.2,575.5 715.7,575.5 716.2,575.5 716.7,575.5 717.2,575.5 717.7,575.5 718.2,575.5 718.7,575.5 719.2,575.5 719.7,575.5 720.2,575.5 720.7,575.5 721.2,575.5 721.7,575.5 722.2,575.5 722.7,575.5 723.2,575.5 723.7,575.5 724.2,575.5 724.7,575.5 725.2,575.5 725.7,575.5 726.2,575.5 726.7,575.5 727.2,575.5 727.7,575.5 728.2,575.5 728.7,575.5 729.2,575.5 729.7,575.5 730.2,575.5 730.7,575.5 731.2,575.5 731.7,575.5 732.2,575.5 732.7,575.5 733.2,575.5 733.7,575.5 734.2,575.5 734.7,575.5 735.2,575.5 735.7,575.5 736.2,575.5 736.7,575.5 737.2,575.5 737.7,575.5 738.2,575.5 738.7,575.5 739.2,575.5 739.7,575.5 740.2,575.5 740.7,575.5 741.2,575.5 741.7,575.5 742.2,575.5 742.7,575.5 743.2,575.5 743.7,575.5 744.2,575.5 744.7,575.5 745.2,575.5 745.7,575.5 746.2,575.5 746.7,575.5 747.2,575.5 747.7,575.5 748.2,575.5 748.7,575.5 749.2,575.4 749.7,575.4 750.2,575.3 750.7,575.2 751.2,575.1 751.7,574.9 752.2,574.8 752.7,574.6 753.2,574.4 753.7,574.2 754.2,573.5 754.7,572.4 755.2,570.9 755.7,569.2 756.2,567.1 756.7,564.9 757.2,562.5 757.7,560 758.2,557.6 758.7,555.1 759.2,552.8 759.7,550.1 760.2,547.2 760.7,544.1 761.2,541 761.7,537.7 762.2,534.4 762.7,531.2 763.2,528.2 763.7,525.2 764.2,522.1 764.7,518.8 765.2,515.6 765.7,512.5 766.2,509.6 766.7,507.2 767.2,505.4 767.7,504.1 768.2,502.8 768.7,501.7 769.2,500.7 769.7,499.8 770.2,499.2 770.7,498.8 771.2,498.6 771.7,498.9 772.2,499.7 772.7,501 773.2,502.6 773.7,504.3 774.2,506.2 774.7,508 775.2,509.7 775.7,511.7 776.2,513.9 776.7,516.2 777.2,518.4 777.7,520.3 778.2,521.8 778.7,523 779.2,524.2 779.7,525.3 780.2,526.3 780.7,526.9 781.2,527.2 781.7,526.9 782.2,526 782.7,524.5 783.2,522.6 783.7,520.4 784.2,518.1 784.7,515.8 785.2,513.7 785.7,511.3 786.2,508.7 786.7,505.8 787.2,502.9 787.7,500.2 788.2,497.8 788.7,495.9 789.2,494.5 789.7,493.4 790.2,492.4 790.7,491.4 791.2,490.6 791.7,489.8 792.2,489.1 792.7,488.4 793.2,487.7 793.7,487.1 794.2,486.5 794.7,485.9 795.2,485.3 795.7,484.7 796.2,484 796.7,483.3 797.2,482.8 797.7,482.3 798.2,481.9 798.7,481.7 799.2,481.8 799.7,482.1 800.2,482.6 800.7,483.3 801.2,484.2 801.7,485.2 802.2,486.2 802.7,487.3 803.2,488.4 803.7,490 804.2,491.8 804.7,493.8 805.2,495.9 805.7,498 806.2,499.8 806.7,501.3 807.2,502.7 807.7,504 808.2,505 808.7,505.6 809.2,505.4 809.7,504.7 810.2,503.7 810.7,502.3 811.2,500.9 811.7,499.4 812.2,498 812.7,496.8 813.2,495.8 813.7,494.7 814.2,493.6 814.7,492.5 815.2,491.6 815.7,491 816.2,490.7 816.7,490.9 817.2,491.5 817.7,492.5 818.2,493.9 818.7,495.4 819.2,497 819.7,498.7 820.2,500.2 820.7,501.6 821.2,503 821.7,504.7 822.2,506.4 822.7,508.1 823.2,509.6 823.7,510.9 824.2,511.7 824.7,512 825.2,511.6 825.7,510.5 826.2,509 826.7,507.1 827.2,503.8 827.7,499.3 828.2,494.3 828.7,489.7 829.2,485.1 829.7,480.1 830.2,475.1 830.7,470.6 831.2,466.9 831.7,464.5 832.2,462.7 832.7,461.2 833.2,460.2 833.7,459.9 834.2,460.5 834.7,461.7 835.2,463.5 835.7,465.6 836.2,467.9 836.7,470.3 837.2,473.3 837.7,477.1 838.2,481.4 838.7,486 839.2,490.8 839.7,495.5 840.2,500.7 840.7,506.5 841.2,512.5 841.7,518.7 842.2,524.7 842.7,530.4 843.2,535.4 843.7,539.6 844.2,543 844.7,546.3 845.2,549.3 845.7,552.1 846.2,554.8 846.7,557.2 847.2,559.3 847.7,561.2 848.2,562.9 848.7,564.4 849.2,565.8 849.7,567.2 850.2,568.5 850.7,569.7 851.2,570.9 851.7,571.9 852.2,572.7 852.7,573.4 853.2,573.8 853.7,574 854.2,573.9 854.7,573.8 855.2,573.4 855.7,573 856.2,572.4 856.7,571.7 857.2,570.9 857.7,570.1 858.2,568.7 858.7,566.1 859.2,562.3 859.7,557.5 860.2,551.9 860.7,545.6 861.2,538.9 861.7,531.9 862.2,524.7 862.7,517.5 863.2,510.6 863.7,503.6 864.2,495.9 864.7,487.7 865.2,479.1 865.7,470.2 866.2,461.3 866.7,452.4 867.2,443.7 867.7,435 868.2,425.5 868.7,415.4 869.2,405.3 869.7,395.6 870.2,386.7 870.7,379.3 871.2,373.7 871.7,370.2 872.2,367.3 872.7,364.6 873.2,362.1 873.7,359.8 874.2,357.9 874.7,356.2 875.2,354.9 875.7,354 876.2,353.5 876.7,353.4 877.2,353.9 877.7,354.9 878.2,356.4 878.7,358.2 879.2,360.4 879.7,362.9 880.2,365.6 880.7,368.4 881.2,371.4 881.7,375.3 882.2,380.7 882.7,387.3 883.2,394.6 883.7,402.5 884.2,410.4 884.7,418.1 885.2,425.2 885.7,431.9 886.2,439.1 886.7,446.6 887.2,454.1 887.7,461.1 888.2,467.6 888.7,473 889.2,477.1 889.7,479.8 890.2,482 890.7,483.9 891.2,485.5 891.7,487 892.2,488.3 892.7,489.5 893.2,490.6 893.7,491.7 894.2,492.7 894.7,493.8 895.2,495 895.7,496.2 896.2,497.6 896.7,499.1 897.2,500.6 897.7,502.2 898.2,503.8 898.7,505.4 899.2,507.1 899.7,508.9 900.2,510.8 900.7,512.9 901.2,515.2 901.7,517.8 902.2,520.6 902.7,523.5 903.2,526.5 903.7,529.5 904.2,532.5 904.7,535.5 905.2,538.3 905.7,540.9 906.2,543.2 906.7,545.6 907.2,548 907.7,550.3 908.2,552.6 908.7,554.8 909.2,556.9 909.7,558.9 910.2,560.7 910.7,562.3 911.2,563.7 911.7,564.8 912.2,565.9 912.7,567 913.2,568 913.7,569 914.2,569.9 914.7,570.7 915.2,571.4 915.7,572 916.2,572.3 916.7,572.6 917.2,572.6 917.7,572.4 918.2,572.1 918.7,571.6 919.2,571.1 919.7,570.3 920.2,569.5 920.7,568.6 921.2,567.6 921.7,566.6 922.2,565.5 922.7,564.4 923.2,563.3 923.7,562.2 924.2,561.1 924.7,560 925.2,559 925.7,558 926.2,556.8 926.7,555.6 927.2,554.3 927.7,553 928.2,551.6 928.7,550.2 929.2,548.9 929.7,547.5 930.2,546.3 930.7,545.1 931.2,544 931.7,543.1 932.2,542.3 932.7,541.6 933.2,541 933.7,540.4 934.2,539.9 934.7,539.4 935.2,539 935.7,538.5 936.2,538.1 936.7,537.7 937.2,537.3 937.7,536.8 938.2,536.4 938.7,536 939.2,535.5 939.7,534.9 940.2,534.4 940.7,533.7 941.2,533 941.7,532.3 942.2,531.5 942.7,530.6 943.2,529.7 943.7,528.8 944.2,527.8 944.7,526.9 945.2,526 945.7,525 946.2,524.1 946.7,523.2 947.2,522.4 947.7,521.6 948.2,520.9 948.7,520.2 949.2,519.6 949.7,518.9 950.2,518.2 950.7,517.6 951.2,516.9 951.7,516.2 952.2,515.6 952.7,515 953.2,514.4 953.7,513.9 954.2,513.4 954.7,513 955.2,512.6 955.7,512.3 956.2,512.1 956.7,512 957.2,512 957.7,512.1 958.2,512.2 958.7,512.3 959.2,512.5 959.7,512.7 960.2,512.9 960.7,513 961.2,513.2 961.7,513.3 962.2,513.4 962.7,513.4 963.2,513.3 963.7,513.1 964.2,512.7 964.7,512.3 965.2,511.8 965.7,511.3 966.2,510.7 966.7,510.1 967.2,509.4 967.7,508.8 968.2,508.2 968.7,507.6 969.2,507 969.7,506.5 970.2,506 970.7,505.6 971.2,505.3 971.7,505.2 972.2,505.1 972.7,505.1 973.2,505.3 973.7,505.5 974.2,505.8 974.7,506.2 975.2,506.6 975.7,507.1 976.2,507.6 976.7,508.2 977.2,508.8 977.7,509.4 978.2,510 978.7,510.7 979.2,511.4 979.7,512.1 980.2,512.7 980.7,513.4 981.2,514 981.7,514.6 982.2,515.2 982.7,515.8 983.2,516.5 983.7,517.2 984.2,517.9 984.7,518.6 985.2,519.4 985.7,520.1 986.2,520.8 986.7,521.6 987.2,522.3 987.7,523 988.2,523.6 988.7,524.3 989.2,524.9 989.7,525.4 990.2,525.9 990.7,526.4 991.2,526.9 991.7,527.4 992.2,527.9 992.7,528.4 993.2,528.8 993.7,529.2 994.2,529.5 994.7,529.7 995.2,529.9 995.7,529.9 996.2,529.8 996.7,529.6 997.2,529.3 997.7,528.9 998.2,528.4 998.7,527.8 999.2,527.1 999.7,526.3 1000.2,525.4 1000.7,524.5 1001.2,523.4 1001.4,523" stroke="#ec7f9c" stroke-width="5.0"/>
<path d="M592.7,575.5 593.2,575.5 593.7,575.5 594.2,575.5 594.7,575.5 595.2,575.5 595.7,575.5 596.2,575.5 596.7,575.5 597.2,575.5 597.7,575.5 598.2,575.5 598.7,575.5 599.2,575.5 599.7,575.5 600.2,575.5 600.7,575.5 601.2,575.5 601.7,575.5 602.2,575.5 602.7,575.5 603.2,575.5 603.7,575.5 604.2,575.5 604.7,575.5 605.2,575.5 605.7,575.5 606.2,575.5 606.7,575.5 607.2,575.5 607.7,575.5 608.2,575.5 608.7,575.5 609.2,575.5 609.7,575.5 610.2,575.5 610.7,575.5 611.2,575.5 611.7,575.5 612.2,575.5 612.7,575.5 613.2,575.5 613.7,575.5 614.2,575.5 614.7,575.5 615.2,575.5 615.7,575.5 616.2,575.5 616.7,575.5 617.2,575.5 617.7,575.5 618.2,575.5 618.7,575.5 619.2,575.5 619.7,575.5 620.2,575.5 620.7,575.5 621.2,575.5 621.7,575.5 622.2,575.5 622.7,575.5 623.2,575.5 623.7,575.5 624.2,575.5 624.7,575.5 625.2,575.5 625.7,575.5 626.2,575.5 626.7,575.5 627.2,575.5 627.7,575.5 628.2,575.5 628.7,575.5 629.2,575.5 629.7,575.5 630.2,575.5 630.7,575.5 631.2,575.5 631.7,575.5 632.2,575.5 632.7,575.5 633.2,575.5 633.7,575.5 634.2,575.5 634.7,575.5 635.2,575.5 635.7,575.5 636.2,575.5 636.7,575.5 637.2,575.5 637.7,575.5 638.2,575.5 638.7,575.5 639.2,575.4 639.7,575.2 640.2,575.1 640.7,574.9 641.2,574.6 641.7,574.3 642.2,574 642.7,573.7 643.2,573.3 643.7,573 644.2,572.5 644.7,571.6 645.2,570.3 645.7,568.7 646.2,566.8 646.7,564.7 647.2,562.6 647.7,560.4 648.2,558.1 648.7,556 649.2,554.1 649.7,552.3 650.2,550.8 650.7,549.5 651.2,548.3 651.7,547.2 652.2,546.2 652.7,545.1 653.2,544.1 653.7,543.1 654.2,542 654.7,540.8 655.2,539.6 655.7,538.3 656.2,536.8 656.7,535.3 657.2,533.8 657.7,532.1 658.2,530.4 658.7,528.6 659.2,526.8 659.7,524.9 660.2,522.8 660.7,520.7 661.2,518.4 661.7,516.1 662.2,513.6 662.7,511 663.2,508.2 663.7,505.2 664.2,502.1 664.7,498.9 665.2,495.8 665.7,492.8 666.2,489.5 666.7,486.2 667.2,482.9 667.7,479.9 668.2,477.2 668.7,475.1 669.2,473.2 669.7,471.4 670.2,469.7 670.7,468.5 671.2,467.9 671.7,468 672.2,468.8 672.7,470.2 673.2,472.1 673.7,474.2 674.2,476.5 674.7,479.8 675.2,483.9 675.7,488.5 676.2,493.1 676.7,497.7 677.2,502.7 677.7,507.9 678.2,513.1 678.7,518.2 679.2,523.4 679.7,528.6 680.2,533.7 680.7,538.5 681.2,542.9 681.7,547.3 682.2,551.5 682.7,555.5 683.2,559.1 683.7,562.1 684.2,564.3 684.7,566.4 685.2,568.3 685.7,569.9 686.2,571.3 686.7,572.3 687.2,572.9 687.7,573.4 688.2,573.8 688.7,574.2 689.2,574.5 689.7,574.8 690.2,575.1 690.7,575.3 691.2,575.4 691.7,575.5 692.2,575.5 692.7,575.5 693.2,575.5 693.7,575.5 694.2,575.5 694.7,575.5 695.2,575.5 695.7,575.5 696.2,575.5 696.7,575.5 697.2,575.5 697.7,575.5 698.2,575.5 698.7,575.5 699.2,575.5 699.7,575.5 700.2,575.5 700.7,575.5 701.2,575.5 701.7,575.5 702.2,575.5 702.7,575.5 703.2,575.5 703.7,575.5 704.2,575.5 704.7,575.5 705.2,575.5 705.7,575.5 706.2,575.5 706.7,575.5 707.2,575.5 707.7,575.5 708.2,575.5 708.7,575.5 709.2,575.5 709.7,575.5 710.2,575.5 710.7,575.5 711.2,575.5 711.7,575.5 712.2,575.5 712.7,575.5 713.2,575.5 713.7,575.5 714.2,575.5 714.7,575.5 715.2,575.5 715.7,575.5 716.2,575.5 716.7,575.5 717.2,575.5 717.7,575.5 718.2,575.5 718.7,575.5 719.2,575.5 719.7,575.5 720.2,575.5 720.7,575.5 721.2,575.5 721.7,575.5 722.2,575.5 722.7,575.5 723.2,575.5 723.7,575.5 724.2,575.5 724.7,575.5 725.2,575.5 725.7,575.5 726.2,575.5 726.7,575.5 727.2,575.5 727.7,575.5 728.2,575.5 728.7,575.5 729.2,575.5 729.7,575.5 730.2,575.5 730.7,575.5 731.2,575.5 731.7,575.5 732.2,575.5 732.7,575.5 733.2,575.5 733.7,575.5 734.2,575.5 734.7,575.5 735.2,575.5 735.7,575.5 736.2,575.5 736.7,575.5 737.2,575.5 737.7,575.5 738.2,575.5 738.7,575.5 739.2,575.5 739.7,575.5 740.2,575.5 740.7,575.5 741.2,575.5 741.7,575.5 742.2,575.5 742.7,575.5 743.2,575.5 743.7,575.5 744.2,575.5 744.7,575.5 745.2,575.5 745.7,575.5 746.2,575.5 746.7,575.5 747.2,575.5 747.7,575.5 748.2,575.5 748.7,575.5 749.2,575.4 749.7,575.4 750.2,575.3 750.7,575.2 751.2,575.1 751.7,574.9 752.2,574.8 752.7,574.6 753.2,574.4 753.7,574.2 754.2,573.5 754.7,572.5 755.2,571.1 755.7,569.3 756.2,567.3 756.7,565.1 757.2,562.8 757.7,560.3 758.2,557.7 758.7,555.2 759.2,552.6 759.7,549.4 760.2,545.9 760.7,542.1 761.2,538.3 761.7,534.7 762.2,531.3 762.7,527.8 763.2,524.2 763.7,520.6 764.2,517 764.7,513.4 765.2,510.1 765.7,506.9 766.2,504 766.7,501.5 767.2,499.3 767.7,497.6 768.2,495.8 768.7,494.2 769.2,492.7 769.7,491.6 770.2,491 770.7,491 771.2,491.7 771.7,493.2 772.2,495.2 772.7,497.5 773.2,499.9 773.7,502.3 774.2,504.4 774.7,506.4 775.2,508.4 775.7,510.6 776.2,512.7 776.7,514.8 777.2,516.8 777.7,518.5 778.2,520 778.7,521.4 779.2,522.8 779.7,524.1 780.2,525.2 780.7,526 781.2,526.4 781.7,525.9 782.2,524.1 782.7,521.2 783.2,517.5 783.7,513.5 784.2,509.3 784.7,505.4 785.2,501.9 785.7,499.3 786.2,497.6 786.7,496.1 787.2,494.6 787.7,493.3 788.2,492.4 788.7,491.8 789.2,491.7 789.7,491.8 790.2,492 790.7,492.2 791.2,492.5 791.7,492.8 792.2,493.1 792.7,493.4 793.2,493.8 793.7,494.2 794.2,494.6 794.7,495 795.2,495.5 795.7,496 796.2,496.5 796.7,497.1 797.2,497.7 797.7,498.3 798.2,499 798.7,499.8 799.2,500.7 799.7,501.7 800.2,502.8 800.7,504 801.2,505.2 801.7,506.4 802.2,507.7 802.7,509 803.2,510.4 803.7,512.1 804.2,514.1 804.7,516.1 805.2,518 805.7,519.7 806.2,520.8 806.7,521.4 807.2,521.2 807.7,520.4 808.2,519.2 808.7,517.5 809.2,515.7 809.7,513.7 810.2,511.7 810.7,509.9 811.2,508 811.7,505.8 812.2,503.4 812.7,500.9 813.2,498.5 813.7,496.3 814.2,494.4 814.7,492.9 815.2,491.8 815.7,490.8 816.2,490 816.7,489.7 817.2,490 817.7,490.7 818.2,491.8 818.7,493.2 819.2,494.7 819.7,496.4 820.2,498 820.7,499.6 821.2,501.2 821.7,503.1 822.2,505.1 822.7,507.1 823.2,509.2 823.7,511.1 824.2,512.9 824.7,514.5 825.2,515.8 825.7,516.9 826.2,517.9 826.7,518.9 827.2,520 827.7,521.4 828.2,523.2 828.7,525.5 829.2,527.8 829.7,529.8 830.2,531.5 830.7,533.2 831.2,534.8 831.7,536.4 832.2,537.9 832.7,539.4 833.2,540.9 833.7,542.4 834.2,543.9 834.7,545.6 835.2,547.3 835.7,549 836.2,550.8 836.7,552.6 837.2,554.4 837.7,556.1 838.2,557.7 838.7,559.3 839.2,560.7 839.7,562.1 840.2,563.5 840.7,564.8 841.2,566.2 841.7,567.4 842.2,568.6 842.7,569.6 843.2,570.4 843.7,571.1 844.2,571.6 844.7,572.1 845.2,572.5 845.7,572.9 846.2,573.2 846.7,573.5 847.2,573.8 847.7,573.9 848.2,574 848.7,574.1 849.2,574.2 849.7,574.3 850.2,574.3 850.7,574.4 851.2,574.4 851.7,574.5 852.2,574.5 852.7,574.5 853.2,574.5 853.7,574.4 854.2,574.3 854.7,574.2 855.2,574 855.7,573.8 856.2,573.5 856.7,573.2 857.2,572.8 857.7,572.4 858.2,572 858.7,571.6 859.2,571.1 859.7,570.2 860.2,568.9 860.7,567.1 861.2,565 861.7,562.5 862.2,559.9 862.7,557.1 863.2,554.2 863.7,551.3 864.2,548.4 864.7,545.7 865.2,543.1 865.7,540.7 866.2,538.7 866.7,536.7 867.2,534.8 867.7,532.8 868.2,530.9 868.7,529 869.2,527.2 869.7,525.5 870.2,523.9 870.7,522.4 871.2,521 871.7,519.7 872.2,518.4 872.7,517 873.2,515.7 873.7,514.4 874.2,513.2 874.7,512 875.2,511.1 875.7,510.3 876.2,509.7 876.7,509.3 877.2,509.2 877.7,509.5 878.2,510.2 878.7,511.2 879.2,512.5 879.7,513.9 880.2,515.5 880.7,517.2 881.2,518.8 881.7,520.4 882.2,521.9 882.7,523.3 883.2,524.6 883.7,526 884.2,527.5 884.7,529 885.2,530.4 885.7,531.9 886.2,533.2 886.7,534.4 887.2,535.4 887.7,536.3 888.2,536.9 888.7,537.4 889.2,537.8 889.7,538.2 890.2,538.6 890.7,538.9 891.2,539.2 891.7,539.4 892.2,539.7 892.7,539.9 893.2,540.2 893.7,540.4 894.2,540.7 894.7,541 895.2,541.3 895.7,541.7 896.2,542.1 896.7,542.6 897.2,543.2 897.7,543.8 898.2,544.5 898.7,545.2 899.2,546 899.7,546.9 900.2,547.8 900.7,548.7 901.2,549.6 901.7,550.6 902.2,551.5 902.7,552.5 903.2,553.5 903.7,554.4 904.2,555.4 904.7,556.3 905.2,557.3 905.7,558.3 906.2,559.5 906.7,560.6 907.2,561.8 907.7,563 908.2,564.1 908.7,565.3 909.2,566.3 909.7,567.3 910.2,568.2 910.7,569 911.2,569.6 911.7,570.1 912.2,570.5 912.7,571 913.2,571.4 913.7,571.8 914.2,572.2 914.7,572.6 915.2,572.9 915.7,573.2 916.2,573.5 916.7,573.7 917.2,573.8 917.7,573.9 918.2,574 918.7,574 919.2,573.9 919.7,573.7 920.2,573.4 920.7,573.1 921.2,572.7 921.7,572.3 922.2,571.8 922.7,571.3 923.2,570.7 923.7,570.1 924.2,569.4 924.7,568.8 925.2,568.1 925.7,567.5 926.2,566.8 926.7,566.1 927.2,565.5 927.7,564.9 928.2,564.3 928.7,563.7 929.2,563 929.7,562.3 930.2,561.6 930.7,560.9 931.2,560.2 931.7,559.4 932.2,558.6 932.7,557.8 933.2,557.1 933.7,556.3 934.2,555.5 934.7,554.7 935.2,554 935.7,553.3 936.2,552.5 936.7,551.9 937.2,551.2 937.7,550.6 938.2,550 938.7,549.5 939.2,548.9 939.7,548.4 940.2,547.9 940.7,547.4 941.2,546.9 941.7,546.4 942.2,546 942.7,545.5 943.2,545.1 943.7,544.6 944.2,544.1 944.7,543.7 945.2,543.2 945.7,542.7 946.2,542.2 946.7,541.7 947.2,541.2 947.7,540.7 948.2,540.1 948.7,539.5 949.2,538.9 949.7,538.2 950.2,537.6 950.7,536.9 951.2,536.2 951.7,535.4 952.2,534.7 952.7,533.9 953.2,533.2 953.7,532.4 954.2,531.6 954.7,530.8 955.2,530 955.7,529.2 956.2,528.4 956.7,527.7 957.2,526.9 957.7,526.1 958.2,525.3 958.7,524.6 959.2,523.9 959.7,523.1 960.2,522.4 960.7,521.7 961.2,521 961.7,520.3 962.2,519.6 962.7,518.9 963.2,518.2 963.7,517.5 964.2,516.8 964.7,516.1 965.2,515.4 965.7,514.8 966.2,514.2 966.7,513.5 967.2,512.9 967.7,512.3 968.2,511.8 968.7,511.2 969.2,510.5 969.7,509.9 970.2,509.2 970.7,508.6 971.2,508 971.7,507.5 972.2,507.1 972.7,506.7 973.2,506.6 973.7,506.5 974.2,506.6 974.7,506.7 975.2,506.8 975.7,507.1 976.2,507.4 976.7,507.7 977.2,508 977.7,508.4 978.2,508.8 978.7,509.3 979.2,509.7 979.7,510.2 980.2,510.6 980.7,511.1 981.2,511.5 981.7,511.9 982.2,512.3 982.7,512.8 983.2,513.3 983.7,513.8 984.2,514.3 984.7,514.9 985.2,515.4 985.7,516 986.2,516.5 986.7,517.1 987.2,517.6 987.7,518.1 988.2,518.6 988.7,519.1 989.2,519.5 989.7,519.9 990.2,520.3 990.7,520.6 991.2,521 991.7,521.3 992.2,521.6 992.7,522 993.2,522.3 993.7,522.5 994.2,522.7 994.7,522.9 995.2,523 995.7,523 996.2,522.9 996.7,522.6 997.2,522.2 997.7,521.7 998.2,521.1 998.7,520.3 999.2,519.4 999.7,518.5 1000.2,517.5 1000.7,516.3 1001.2,515.2 1001.4,514.7" stroke="#d4a04e" stroke-width="5.0" stroke-dasharray="26.5 6"/>
<line x1="865.17" y1="315.5" x2="865.17" y2="575.5" stroke="#6e6e6e" stroke-width="1.8" stroke-dasharray="7.4 3.2"/>
</g>
<g clip-path="url(#cp12)" fill="none" stroke-linejoin="round">
<path d="M592.7,835.5 593.2,835.5 593.7,835.5 594.2,835.5 594.7,835.5 595.2,835.5 595.7,835.5 596.2,835.5 596.7,835.5 597.2,835.5 597.7,835.5 598.2,835.5 598.7,835.5 599.2,835.5 599.7,835.5 600.2,835.5 600.7,835.5 601.2,835.5 601.7,835.5 602.2,835.5 602.7,835.5 603.2,835.5 603.7,835.5 604.2,835.5 604.7,835.5 605.2,835.5 605.7,835.5 606.2,835.5 606.7,835.5 607.2,835.5 607.7,835.5 608.2,835.5 608.7,835.5 609.2,835.5 609.7,835.5 610.2,835.5 610.7,835.5 611.2,835.5 611.7,835.5 612.2,835.5 612.7,835.5 613.2,835.5 613.7,835.5 614.2,835.5 614.7,835.5 615.2,835.5 615.7,835.5 616.2,835.5 616.7,835.5 617.2,835.5 617.7,835.5 618.2,835.5 618.7,835.5 619.2,835.5 619.7,835.5 620.2,835.5 620.7,835.5 621.2,835.5 621.7,835.5 622.2,835.5 622.7,835.5 623.2,835.5 623.7,835.5 624.2,835.5 624.7,835.5 625.2,835.5 625.7,835.5 626.2,835.5 626.7,835.5 627.2,835.5 627.7,835.5 628.2,835.5 628.7,835.5 629.2,835.5 629.7,835.5 630.2,835.5 630.7,835.5 631.2,835.5 631.7,835.5 632.2,835.5 632.7,835.5 633.2,835.5 633.7,835.5 634.2,835.5 634.7,835.5 635.2,835.5 635.7,835.5 636.2,835.5 636.7,835.5 637.2,835.5 637.7,835.5 638.2,835.5 638.7,835.5 639.2,835.5 639.7,835.5 640.2,835.5 640.7,835.4 641.2,835.3 641.7,835.2 642.2,835 642.7,834.9 643.2,834.7 643.7,834.5 644.2,834.3 644.7,834.1 645.2,833.9 645.7,833.8 646.2,833.6 646.7,833.4 647.2,833.2 647.7,833 648.2,832.9 648.7,832.7 649.2,832.5 649.7,832.4 650.2,832.2 650.7,832.1 651.2,832 651.7,832 652.2,832 652.7,832 653.2,832.1 653.7,832.2 654.2,832.3 654.7,832.4 655.2,832.5 655.7,832.7 656.2,832.9 656.7,833 657.2,833.2 657.7,833.3 658.2,833.5 658.7,833.7 659.2,833.8 659.7,833.9 660.2,834 660.7,834.2 661.2,834.3 661.7,834.4 662.2,834.5 662.7,834.7 663.2,834.8 663.7,834.9 664.2,835 664.7,835.1 665.2,835.2 665.7,835.3 666.2,835.4 666.7,835.4 667.2,835.5 667.7,835.5 668.2,835.5 668.7,835.5 669.2,835.5 669.7,835.5 670.2,835.5 670.7,835.5 671.2,835.5 671.7,835.5 672.2,835.5 672.7,835.5 673.2,835.5 673.7,835.5 674.2,835.5 674.7,835.5 675.2,835.5 675.7,835.5 676.2,835.5 676.7,835.5 677.2,835.5 677.7,835.5 678.2,835.5 678.7,835.5 679.2,835.5 679.7,835.5 680.2,835.5 680.7,835.5 681.2,835.5 681.7,835.5 682.2,835.5 682.7,835.5 683.2,835.5 683.7,835.5 684.2,835.5 684.7,835.5 685.2,835.5 685.7,835.5 686.2,835.5 686.7,835.5 687.2,835.5 687.7,835.5 688.2,835.5 688.7,835.5 689.2,835.5 689.7,835.5 690.2,835.5 690.7,835.5 691.2,835.5 691.7,835.5 692.2,835.5 692.7,835.5 693.2,835.5 693.7,835.5 694.2,835.5 694.7,835.5 695.2,835.5 695.7,835.5 696.2,835.5 696.7,835.5 697.2,835.5 697.7,835.5 698.2,835.5 698.7,835.5 699.2,835.5 699.7,835.5 700.2,835.5 700.7,835.5 701.2,835.5 701.7,835.5 702.2,835.5 702.7,835.5 703.2,835.5 703.7,835.5 704.2,835.5 704.7,835.5 705.2,835.5 705.7,835.5 706.2,835.5 706.7,835.5 707.2,835.5 707.7,835.5 708.2,835.5 708.7,835.5 709.2,835.5 709.7,835.5 710.2,835.5 710.7,835.5 711.2,835.5 711.7,835.5 712.2,835.5 712.7,835.5 713.2,835.5 713.7,835.5 714.2,835.5 714.7,835.5 715.2,835.5 715.7,835.5 716.2,835.5 716.7,835.5 717.2,835.5 717.7,835.5 718.2,835.5 718.7,835.5 719.2,835.5 719.7,835.5 720.2,835.5 720.7,835.5 721.2,835.5 721.7,835.5 722.2,835.5 722.7,835.5 723.2,835.5 723.7,835.5 724.2,835.5 724.7,835.5 725.2,835.5 725.7,835.5 726.2,835.5 726.7,835.5 727.2,835.5 727.7,835.5 728.2,835.5 728.7,835.5 729.2,835.5 729.7,835.5 730.2,835.5 730.7,835.5 731.2,835.5 731.7,835.5 732.2,835.5 732.7,835.5 733.2,835.5 733.7,835.5 734.2,835.5 734.7,835.5 735.2,835.5 735.7,835.5 736.2,835.5 736.7,835.5 737.2,835.5 737.7,835.5 738.2,835.5 738.7,835.5 739.2,835.5 739.7,835.5 740.2,835.5 740.7,835.5 741.2,835.5 741.7,835.5 742.2,835.5 742.7,835.5 743.2,835.5 743.7,835.5 744.2,835.5 744.7,835.5 745.2,835.5 745.7,835.5 746.2,835.5 746.7,835.5 747.2,835.5 747.7,835.5 748.2,835.5 748.7,835.5 749.2,835.4 749.7,835.4 750.2,835.3 750.7,835.2 751.2,835 751.7,834.9 752.2,834.7 752.7,834.5 753.2,834.3 753.7,834.1 754.2,833.8 754.7,833.5 755.2,833.3 755.7,832.9 756.2,832.1 756.7,830.6 757.2,828.6 757.7,826.2 758.2,823.5 758.7,820.6 759.2,817.7 759.7,814.9 760.2,812.3 760.7,810 761.2,808 761.7,805.9 762.2,803.7 762.7,801.5 763.2,799.6 763.7,797.9 764.2,796.7 764.7,796.1 765.2,796.1 765.7,796.5 766.2,797.3 766.7,798.3 767.2,799.5 767.7,800.8 768.2,802.2 768.7,803.6 769.2,805.1 769.7,807 770.2,809.2 770.7,811.5 771.2,813.9 771.7,816.1 772.2,818 772.7,819.6 773.2,820.7 773.7,821.9 774.2,823 774.7,824.1 775.2,825.2 775.7,826.1 776.2,827 776.7,827.8 777.2,828.6 777.7,829.2 778.2,829.7 778.7,830.1 779.2,830.3 779.7,830.5 780.2,830.6 780.7,830.7 781.2,830.8 781.7,830.9 782.2,831 782.7,831.1 783.2,831.2 783.7,831.3 784.2,831.4 784.7,831.5 785.2,831.6 785.7,831.6 786.2,831.7 786.7,831.8 787.2,831.8 787.7,831.9 788.2,832 788.7,832 789.2,832.1 789.7,832.1 790.2,832.2 790.7,832.2 791.2,832.2 791.7,832.3 792.2,832.3 792.7,832.3 793.2,832.4 793.7,832.4 794.2,832.4 794.7,832.4 795.2,832.5 795.7,832.5 796.2,832.5 796.7,832.5 797.2,832.5 797.7,832.5 798.2,832.5 798.7,832.5 799.2,832.4 799.7,832.4 800.2,832.3 800.7,832.2 801.2,832.1 801.7,832 802.2,831.9 802.7,831.7 803.2,831.6 803.7,831.4 804.2,831.2 804.7,831 805.2,830.8 805.7,830.6 806.2,830.4 806.7,830.1 807.2,829.9 807.7,829.6 808.2,829.4 808.7,829.1 809.2,828.9 809.7,828.6 810.2,828.3 810.7,828.1 811.2,827.8 811.7,827.5 812.2,827.1 812.7,826.6 813.2,826 813.7,825.4 814.2,824.8 814.7,824.1 815.2,823.4 815.7,822.7 816.2,822 816.7,821.4 817.2,820.8 817.7,820.2 818.2,819.7 818.7,819.3 819.2,818.9 819.7,818.7 820.2,818.5 820.7,818.5 821.2,818.6 821.7,818.7 822.2,818.9 822.7,819.2 823.2,819.4 823.7,819.8 824.2,820.1 824.7,820.5 825.2,820.9 825.7,821.4 826.2,821.8 826.7,822.2 827.2,822.6 827.7,823 828.2,823.6 828.7,824.2 829.2,824.8 829.7,825.5 830.2,826.2 830.7,826.9 831.2,827.7 831.7,828.4 832.2,829.1 832.7,829.7 833.2,830.3 833.7,830.8 834.2,831.2 834.7,831.6 835.2,831.8 835.7,832 836.2,832.2 836.7,832.4 837.2,832.6 837.7,832.8 838.2,833 838.7,833.1 839.2,833.3 839.7,833.4 840.2,833.6 840.7,833.7 841.2,833.9 841.7,834 842.2,834.1 842.7,834.2 843.2,834.2 843.7,834.3 844.2,834.3 844.7,834.4 845.2,834.4 845.7,834.4 846.2,834.4 846.7,834.3 847.2,834.3 847.7,834.2 848.2,834.1 848.7,834 849.2,833.9 849.7,833.7 850.2,833.6 850.7,833.4 851.2,833.3 851.7,833.1 852.2,832.9 852.7,832.7 853.2,832.5 853.7,832.3 854.2,832 854.7,831.7 855.2,831.3 855.7,830.9 856.2,830.5 856.7,830 857.2,829.5 857.7,828.9 858.2,828.3 858.7,827.6 859.2,826.8 859.7,825.8 860.2,823.7 860.7,820.6 861.2,816.9 861.7,812.5 862.2,807.9 862.7,803.2 863.2,798.5 863.7,794.3 864.2,790.5 864.7,787.5 865.2,785.5 865.7,784.1 866.2,782.6 866.7,781.3 867.2,780 867.7,778.8 868.2,777.6 868.7,776.6 869.2,775.6 869.7,774.8 870.2,774 870.7,773.4 871.2,772.9 871.7,772.6 872.2,772.4 872.7,772.4 873.2,772.6 873.7,773 874.2,773.6 874.7,774.4 875.2,775.3 875.7,776.3 876.2,777.4 876.7,778.5 877.2,779.7 877.7,780.9 878.2,782.1 878.7,783.3 879.2,784.8 879.7,786.4 880.2,788.2 880.7,790.1 881.2,792 881.7,794.1 882.2,796 882.7,798 883.2,799.8 883.7,801.6 884.2,803.1 884.7,804.5 885.2,806 885.7,807.4 886.2,808.8 886.7,810.2 887.2,811.6 887.7,812.9 888.2,814.2 888.7,815.4 889.2,816.5 889.7,817.6 890.2,818.5 890.7,819.4 891.2,820.2 891.7,820.9 892.2,821.5 892.7,822.1 893.2,822.7 893.7,823.2 894.2,823.7 894.7,824.2 895.2,824.7 895.7,825.2 896.2,825.6 896.7,826 897.2,826.4 897.7,826.8 898.2,827.2 898.7,827.5 899.2,827.9 899.7,828.2 900.2,828.5 900.7,828.8 901.2,829.1 901.7,829.3 902.2,829.6 902.7,829.9 903.2,830.1 903.7,830.4 904.2,830.7 904.7,830.9 905.2,831.2 905.7,831.5 906.2,831.7 906.7,831.9 907.2,832.2 907.7,832.4 908.2,832.6 908.7,832.8 909.2,833 909.7,833.1 910.2,833.3 910.7,833.4 911.2,833.5 911.7,833.6 912.2,833.7 912.7,833.8 913.2,833.8 913.7,833.8 914.2,833.7 914.7,833.4 915.2,833.1 915.7,832.6 916.2,832 916.7,831.4 917.2,830.6 917.7,829.8 918.2,828.9 918.7,828 919.2,827 919.7,825.9 920.2,824.8 920.7,823.7 921.2,822.5 921.7,820.8 922.2,818.8 922.7,816.5 923.2,814 923.7,811.2 924.2,808.4 924.7,805.4 925.2,802.4 925.7,799.4 926.2,796.5 926.7,793.7 927.2,790.8 927.7,787.6 928.2,784.3 928.7,781 929.2,777.7 929.7,774.6 930.2,771.8 930.7,769.3 931.2,767.2 931.7,765.4 932.2,763.7 932.7,762.1 933.2,760.6 933.7,759.3 934.2,757.9 934.7,756.6 935.2,755.3 935.7,754.1 936.2,753 936.7,752.1 937.2,751.2 937.7,750.4 938.2,749.4 938.7,748.2 939.2,746.8 939.7,745 940.2,742.2 940.7,737.4 941.2,731.1 941.7,723.5 942.2,715.2 942.7,706.6 943.2,696.7 943.7,684.7 944.2,671.4 944.7,657.5 945.2,643.8 945.7,631 946.2,618.6 946.7,606.3 947.2,594.1 947.7,582.1 948.2,570.2 948.7,557.7 949.2,545.6 949.7,535 950.2,527.1 950.7,519.7 951.2,512.6 951.7,505.7 952.2,499.4 952.7,493.6 953.2,488.7 953.7,484.7 954.2,481.9 954.7,480.3 955.2,480 955.7,480 956.2,480 956.7,480 957.2,480 957.7,480 958.2,480 958.7,480 959.2,480 959.7,480 960.2,480 960.7,480 961.2,480 961.7,480 962.2,480 962.7,480 963.2,480 963.7,480 964.2,480 964.7,480 965.2,480 965.7,480 966.2,480 966.7,480 967.2,480 967.7,480 968.2,480 968.7,480 969.2,480 969.7,480 970.2,480 970.7,480 971.2,480 971.7,480 972.2,480 972.7,480 973.2,480 973.7,480 974.2,480 974.7,480 975.2,480 975.7,480 976.2,480 976.7,480 977.2,480 977.7,480 978.2,480 978.7,480 979.2,480 979.7,480 980.2,480 980.7,480.6 981.2,481.6 981.7,483.2 982.2,485.2 982.7,487.7 983.2,490.7 983.7,494.1 984.2,497.8 984.7,501.9 985.2,506.3 985.7,511 986.2,516 986.7,521.2 987.2,526.6 987.7,532.7 988.2,542.3 988.7,554.5 989.2,567 989.7,577.8 990.2,586.4 990.7,594.2 991.2,601.6 991.7,609 992.2,616.7 992.7,625.5 993.2,636 993.7,646.3 994.2,654.5 994.7,659 995.2,662.4 995.7,665.1 996.2,666.8 996.7,667.2 997.2,665.4 997.7,662.1 998.2,658.6 998.7,655.7 999.2,652.9 999.7,650 1000.2,647.1 1000.7,644.2 1001.2,641.2 1001.4,640" stroke="#ec7f9c" stroke-width="5.0"/>
<path d="M592.7,835.5 593.2,835.5 593.7,835.5 594.2,835.5 594.7,835.5 595.2,835.5 595.7,835.5 596.2,835.5 596.7,835.5 597.2,835.5 597.7,835.5 598.2,835.5 598.7,835.5 599.2,835.5 599.7,835.5 600.2,835.5 600.7,835.5 601.2,835.5 601.7,835.5 602.2,835.5 602.7,835.5 603.2,835.5 603.7,835.5 604.2,835.5 604.7,835.5 605.2,835.5 605.7,835.5 606.2,835.5 606.7,835.5 607.2,835.5 607.7,835.5 608.2,835.5 608.7,835.5 609.2,835.5 609.7,835.5 610.2,835.5 610.7,835.5 611.2,835.5 611.7,835.5 612.2,835.5 612.7,835.5 613.2,835.5 613.7,835.5 614.2,835.5 614.7,835.5 615.2,835.5 615.7,835.5 616.2,835.5 616.7,835.5 617.2,835.5 617.7,835.5 618.2,835.5 618.7,835.5 619.2,835.5 619.7,835.5 620.2,835.5 620.7,835.5 621.2,835.5 621.7,835.5 622.2,835.5 622.7,835.5 623.2,835.5 623.7,835.5 624.2,835.5 624.7,835.5 625.2,835.5 625.7,835.5 626.2,835.5 626.7,835.5 627.2,835.5 627.7,835.5 628.2,835.5 628.7,835.5 629.2,835.5 629.7,835.5 630.2,835.5 630.7,835.5 631.2,835.5 631.7,835.5 632.2,835.5 632.7,835.5 633.2,835.5 633.7,835.5 634.2,835.5 634.7,835.5 635.2,835.5 635.7,835.5 636.2,835.5 636.7,835.5 637.2,835.5 637.7,835.5 638.2,835.5 638.7,835.5 639.2,835.5 639.7,835.5 640.2,835.4 640.7,835.2 641.2,835 641.7,834.8 642.2,834.6 642.7,834.3 643.2,833.9 643.7,833.6 644.2,833.2 644.7,832.8 645.2,832.1 645.7,831.1 646.2,829.7 646.7,828 647.2,826 647.7,824 648.2,821.8 648.7,819.7 649.2,817.6 649.7,815.6 650.2,813.9 650.7,812.2 651.2,810.5 651.7,808.9 652.2,807.2 652.7,805.6 653.2,803.9 653.7,802.2 654.2,800.5 654.7,798.8 655.2,797.1 655.7,795.3 656.2,793.6 656.7,791.8 657.2,790 657.7,788.2 658.2,786.3 658.7,784.3 659.2,782.2 659.7,780 660.2,777.7 660.7,775.2 661.2,772.6 661.7,770 662.2,767.4 662.7,764.9 663.2,762.4 663.7,760 664.2,757.5 664.7,755 665.2,752.4 665.7,749.7 666.2,746.9 666.7,743.7 667.2,740.1 667.7,736.4 668.2,733.1 668.7,730.5 669.2,728.2 669.7,726.1 670.2,724.8 670.7,724.9 671.2,725.8 671.7,727.4 672.2,729.4 672.7,731.7 673.2,734 673.7,736.6 674.2,739.8 674.7,743.3 675.2,747.1 675.7,751 676.2,755.2 676.7,759.7 677.2,764.4 677.7,769.1 678.2,773.8 678.7,778.4 679.2,783.1 679.7,787.8 680.2,792.6 680.7,797.7 681.2,803.2 681.7,808.5 682.2,813.3 682.7,817.3 683.2,821.1 683.7,824.7 684.2,827.6 684.7,829.5 685.2,830.5 685.7,831.4 686.2,832.3 686.7,833 687.2,833.7 687.7,834.3 688.2,834.7 688.7,835.1 689.2,835.3 689.7,835.5 690.2,835.5 690.7,835.5 691.2,835.5 691.7,835.5 692.2,835.5 692.7,835.5 693.2,835.5 693.7,835.5 694.2,835.5 694.7,835.5 695.2,835.5 695.7,835.5 696.2,835.5 696.7,835.5 697.2,835.5 697.7,835.5 698.2,835.5 698.7,835.5 699.2,835.5 699.7,835.5 700.2,835.5 700.7,835.5 701.2,835.5 701.7,835.5 702.2,835.5 702.7,835.5 703.2,835.5 703.7,835.5 704.2,835.5 704.7,835.5 705.2,835.5 705.7,835.5 706.2,835.5 706.7,835.5 707.2,835.5 707.7,835.5 708.2,835.5 708.7,835.5 709.2,835.5 709.7,835.5 710.2,835.5 710.7,835.5 711.2,835.5 711.7,835.5 712.2,835.5 712.7,835.5 713.2,835.5 713.7,835.5 714.2,835.5 714.7,835.5 715.2,835.5 715.7,835.5 716.2,835.5 716.7,835.5 717.2,835.5 717.7,835.5 718.2,835.5 718.7,835.5 719.2,835.5 719.7,835.5 720.2,835.5 720.7,835.5 721.2,835.5 721.7,835.5 722.2,835.5 722.7,835.5 723.2,835.5 723.7,835.5 724.2,835.5 724.7,835.5 725.2,835.5 725.7,835.5 726.2,835.5 726.7,835.5 727.2,835.5 727.7,835.5 728.2,835.5 728.7,835.5 729.2,835.5 729.7,835.5 730.2,835.5 730.7,835.5 731.2,835.5 731.7,835.5 732.2,835.5 732.7,835.5 733.2,835.5 733.7,835.5 734.2,835.5 734.7,835.5 735.2,835.5 735.7,835.5 736.2,835.5 736.7,835.5 737.2,835.5 737.7,835.5 738.2,835.5 738.7,835.5 739.2,835.5 739.7,835.5 740.2,835.5 740.7,835.5 741.2,835.5 741.7,835.5 742.2,835.5 742.7,835.5 743.2,835.5 743.7,835.5 744.2,835.5 744.7,835.5 745.2,835.5 745.7,835.5 746.2,835.5 746.7,835.5 747.2,835.5 747.7,835.5 748.2,835.5 748.7,835.4 749.2,835.3 749.7,835.2 750.2,835 750.7,834.7 751.2,834.4 751.7,834 752.2,833.6 752.7,833.2 753.2,832.6 753.7,831.3 754.2,829.5 754.7,827.1 755.2,824.2 755.7,820.9 756.2,817.3 756.7,813.5 757.2,809.1 757.7,803.2 758.2,795.9 758.7,787.7 759.2,779 759.7,770.4 760.2,761 760.7,750.8 761.2,740.2 761.7,729.5 762.2,719.2 762.7,709 763.2,698.5 763.7,688.2 764.2,678.4 764.7,669.5 765.2,661.4 765.7,653.6 766.2,646.1 766.7,639.5 767.2,634.2 767.7,630.4 768.2,627 768.7,623.9 769.2,621.1 769.7,618.7 770.2,617 770.7,616.1 771.2,616 771.7,617.4 772.2,620 772.7,623.5 773.2,627.4 773.7,631.4 774.2,635.1 774.7,639.5 775.2,644.6 775.7,649.8 776.2,654.4 776.7,657.8 777.2,660.1 777.7,662.3 778.2,664 778.7,664.9 779.2,664.7 779.7,663.1 780.2,660.5 780.7,657.4 781.2,654.4 781.7,651.7 782.2,650 782.7,648.7 783.2,647.5 783.7,646.6 784.2,646.3 784.7,646.9 785.2,648.7 785.7,651.4 786.2,654.7 786.7,658.3 787.2,662.1 787.7,666.1 788.2,671.2 788.7,677.1 789.2,683.4 789.7,689.4 790.2,694.8 790.7,700 791.2,705.1 791.7,710 792.2,714.8 792.7,719.2 793.2,723.4 793.7,727.5 794.2,731.5 794.7,735.3 795.2,738.9 795.7,742.4 796.2,745.8 796.7,748.9 797.2,752 797.7,755 798.2,758 798.7,760.8 799.2,763.4 799.7,765.8 800.2,768 800.7,769.9 801.2,771.7 801.7,773.5 802.2,775.3 802.7,776.9 803.2,778.5 803.7,779.8 804.2,780.8 804.7,781.6 805.2,782 805.7,781.9 806.2,781 806.7,779.5 807.2,777.5 807.7,775.2 808.2,772.7 808.7,770 809.2,767.5 809.7,765.1 810.2,762.9 810.7,760.3 811.2,757.5 811.7,754.5 812.2,751.5 812.7,748.7 813.2,746 813.7,743.8 814.2,742 814.7,740.8 815.2,740.4 815.7,740.6 816.2,741 816.7,741.7 817.2,742.7 817.7,743.9 818.2,745.2 818.7,746.7 819.2,748.3 819.7,750.9 820.2,754.9 820.7,759.7 821.2,764.5 821.7,768.8 822.2,772.3 822.7,775.6 823.2,778.9 823.7,782 824.2,785 824.7,787.8 825.2,790.4 825.7,792.8 826.2,795 826.7,797.1 827.2,799.1 827.7,801 828.2,802.8 828.7,804.5 829.2,806.1 829.7,807.7 830.2,809.3 830.7,810.7 831.2,812.2 831.7,813.6 832.2,815.1 832.7,816.5 833.2,818 833.7,819.4 834.2,820.7 834.7,822 835.2,823.2 835.7,824.4 836.2,825.4 836.7,826.3 837.2,827.1 837.7,827.8 838.2,828.4 838.7,828.9 839.2,829.5 839.7,830 840.2,830.5 840.7,830.9 841.2,831.3 841.7,831.7 842.2,832 842.7,832.3 843.2,832.6 843.7,832.8 844.2,833 844.7,833.1 845.2,833.2 845.7,833.4 846.2,833.5 846.7,833.6 847.2,833.7 847.7,833.8 848.2,833.9 848.7,834 849.2,834 849.7,834.1 850.2,834.2 850.7,834.2 851.2,834.3 851.7,834.3 852.2,834.4 852.7,834.4 853.2,834.4 853.7,834.4 854.2,834.4 854.7,834.4 855.2,834.4 855.7,834.3 856.2,834.3 856.7,834.2 857.2,834.2 857.7,834.1 858.2,834 858.7,834 859.2,833.7 859.7,833.2 860.2,832.6 860.7,831.7 861.2,830.7 861.7,829.1 862.2,824.1 862.7,815.8 863.2,805.7 863.7,794.9 864.2,784.6 864.7,775.2 865.2,765.5 865.7,755.5 866.2,745.1 866.7,734.3 867.2,722.9 867.7,710.2 868.2,696.9 868.7,684 869.2,672.6 869.7,662.5 870.2,653.1 870.7,644.9 871.2,638.3 871.7,632.2 872.2,626.2 872.7,621 873.2,617.1 873.7,615 874.2,614.8 874.7,614.9 875.2,615.1 875.7,615.3 876.2,615.7 876.7,616.5 877.2,617.8 877.7,619.3 878.2,621 878.7,623.5 879.2,626.7 879.7,630.3 880.2,634.1 880.7,637.7 881.2,640.9 881.7,643.4 882.2,645 882.7,646 883.2,646.8 883.7,647.6 884.2,648.3 884.7,648.8 885.2,649.1 885.7,649.2 886.2,648.8 886.7,647.7 887.2,646.2 887.7,644.2 888.2,642 888.7,639.8 889.2,637.7 889.7,635.9 890.2,634.4 890.7,633.4 891.2,632.5 891.7,631.6 892.2,630.7 892.7,629.9 893.2,629.3 893.7,628.8 894.2,628.5 894.7,628.6 895.2,629.5 895.7,631.4 896.2,634 896.7,637.3 897.2,641 897.7,645 898.2,651.2 898.7,660.3 899.2,670.6 899.7,680.5 900.2,688.8 900.7,696.4 901.2,703.8 901.7,711.1 902.2,718.5 902.7,726.2 903.2,733.9 903.7,741.5 904.2,748.6 904.7,755.3 905.2,761.5 905.7,767.5 906.2,773.3 906.7,778.8 907.2,784.2 907.7,789.4 908.2,794.2 908.7,798.6 909.2,802.6 909.7,806.6 910.2,810.3 910.7,813.7 911.2,816.8 911.7,819.3 912.2,821.4 912.7,823.3 913.2,825.1 913.7,826.7 914.2,828 914.7,829 915.2,829.4 915.7,829.1 916.2,828.1 916.7,826.5 917.2,824.3 917.7,821.6 918.2,818.6 918.7,815.3 919.2,809.8 919.7,802.2 920.2,793.5 920.7,784.7 921.2,776.3 921.7,767.4 922.2,758 922.7,747.9 923.2,736.7 923.7,724.5 924.2,711.8 924.7,698.1 925.2,685.1 925.7,673.9 926.2,660 926.7,635.6 927.2,611 927.7,590.1 928.2,569.8 928.7,549.8 929.2,534.6 929.7,522.3 930.2,511.4 930.7,501.6 931.2,492.8 931.7,484.7 932.2,476.9 932.7,468.9 933.2,460.9 933.7,452.9 934.2,445.3 934.7,438.2 935.2,432 935.7,426.8 936.2,422.9 936.7,420.6 937.2,419.8 937.7,419.4 938.2,419 938.7,418.6 939.2,418.2 939.7,417.8 940.2,417.5 940.7,417.1 941.2,416.7 941.7,416.3 942.2,416 942.7,415.6 943.2,415.3 943.7,414.9 944.2,414.6 944.7,414.3 945.2,413.9 945.7,413.6 946.2,413.3 946.7,413 947.2,412.7 947.7,412.3 948.2,412 948.7,411.8 949.2,411.5 949.7,411.2 950.2,410.9 950.7,410.6 951.2,410.3 951.7,410.1 952.2,409.8 952.7,409.6 953.2,409.3 953.7,409.1 954.2,408.8 954.7,408.6 955.2,408.3 955.7,408.1 956.2,407.9 956.7,407.6 957.2,407.4 957.7,407.2 958.2,407 958.7,406.8 959.2,406.6 959.7,406.4 960.2,406.2 960.7,406 961.2,405.8 961.7,405.6 962.2,405.5 962.7,405.3 963.2,405.1 963.7,404.9 964.2,404.8 964.7,404.6 965.2,404.5 965.7,404.3 966.2,404.1 966.7,404 967.2,403.9 967.7,403.7 968.2,403.6 968.7,403.4 969.2,403.3 969.7,403.2 970.2,403.1 970.7,402.9 971.2,402.8 971.7,402.7 972.2,402.6 972.7,402.5 973.2,402.4 973.7,402.3 974.2,402.2 974.7,402.1 975.2,402 975.7,401.9 976.2,401.8 976.7,401.7 977.2,401.6 977.7,401.6 978.2,401.5 978.7,401.4 979.2,401.3 979.7,401.3 980.2,401.2 980.7,401.1 981.2,401.1 981.7,401 982.2,400.9 982.7,400.9 983.2,400.8 983.7,400.8 984.2,400.7 984.7,400.7 985.2,400.6 985.7,400.6 986.2,400.5 986.7,400.5 987.2,400.5 987.7,400.4 988.2,400.4 988.7,400.4 989.2,400.3 989.7,400.3 990.2,400.3 990.7,400.2 991.2,400.2 991.7,400.2 992.2,400.2 992.7,400.2 993.2,400.1 993.7,400.1 994.2,400.1 994.7,400.1 995.2,400.1 995.7,400.1 996.2,400 996.7,400 997.2,400 997.7,400 998.2,400 998.7,400 999.2,400 999.7,400 1000.2,400 1000.7,400 1001.2,400 1001.4,400" stroke="#d4a04e" stroke-width="5.0" stroke-dasharray="26 6"/>
<path d="M592.7,835.5 593.2,835.5 593.7,835.5 594.2,835.5 594.7,835.5 595.2,835.5 595.7,835.5 596.2,835.5 596.7,835.5 597.2,835.5 597.7,835.5 598.2,835.5 598.7,835.5 599.2,835.5 599.7,835.5 600.2,835.5 600.7,835.5 601.2,835.5 601.7,835.5 602.2,835.5 602.7,835.5 603.2,835.5 603.7,835.5 604.2,835.5 604.7,835.5 605.2,835.5 605.7,835.5 606.2,835.5 606.7,835.5 607.2,835.5 607.7,835.5 608.2,835.5 608.7,835.5 609.2,835.5 609.7,835.5 610.2,835.5 610.7,835.5 611.2,835.5 611.7,835.5 612.2,835.5 612.7,835.5 613.2,835.5 613.7,835.5 614.2,835.5 614.7,835.5 615.2,835.5 615.7,835.5 616.2,835.5 616.7,835.5 617.2,835.5 617.7,835.5 618.2,835.5 618.7,835.5 619.2,835.5 619.7,835.5 620.2,835.5 620.7,835.5 621.2,835.5 621.7,835.5 622.2,835.5 622.7,835.5 623.2,835.5 623.7,835.5 624.2,835.5 624.7,835.5 625.2,835.5 625.7,835.5 626.2,835.5 626.7,835.5 627.2,835.5 627.7,835.5 628.2,835.5 628.7,835.5 629.2,835.5 629.7,835.5 630.2,835.5 630.7,835.5 631.2,835.5 631.7,835.5 632.2,835.5 632.7,835.5 633.2,835.5 633.7,835.5 634.2,835.5 634.7,835.5 635.2,835.5 635.7,835.5 636.2,835.5 636.7,835.5 637.2,835.5 637.7,835.5 638.2,835.5 638.7,835.5 639.2,835.5 639.7,835.5 640.2,835.5 640.7,835.5 641.2,835.5 641.7,835.5 642.2,835.5 642.7,835.5 643.2,835.5 643.7,835.5 644.2,835.5 644.7,835.5 645.2,835.5 645.7,835.5 646.2,835.5 646.7,835.5 647.2,835.5 647.7,835.5 648.2,835.5 648.7,835.5 649.2,835.5 649.7,835.5 650.2,835.5 650.7,835.4 651.2,835.3 651.7,835.2 652.2,835 652.7,834.7 653.2,834.4 653.7,834.1 654.2,833.8 654.7,833.4 655.2,833 655.7,832.6 656.2,832.1 656.7,831.5 657.2,830.7 657.7,829.8 658.2,828.9 658.7,827.9 659.2,826.9 659.7,825.8 660.2,824.8 660.7,823.8 661.2,822.7 661.7,821.6 662.2,820.4 662.7,819.1 663.2,817.7 663.7,816.2 664.2,814.5 664.7,812.7 665.2,810.3 665.7,807.3 666.2,803.9 666.7,800.2 667.2,796.6 667.7,793.2 668.2,790 668.7,786.7 669.2,783.5 669.7,780.5 670.2,778 670.7,776.1 671.2,774.1 671.7,772.4 672.2,770.9 672.7,769.9 673.2,769.5 673.7,770 674.2,771.2 674.7,773 675.2,775.2 675.7,777.5 676.2,779.9 676.7,782.2 677.2,784.9 677.7,787.8 678.2,791 678.7,794.2 679.2,797.5 679.7,800.8 680.2,804.4 680.7,808.2 681.2,812 681.7,815.6 682.2,818.8 682.7,821.4 683.2,823.9 683.7,826.2 684.2,828.1 684.7,829.5 685.2,830.4 685.7,831.3 686.2,832.1 686.7,832.9 687.2,833.6 687.7,834.2 688.2,834.7 688.7,835.1 689.2,835.3 689.7,835.5 690.2,835.5 690.7,835.5 691.2,835.5 691.7,835.5 692.2,835.5 692.7,835.5 693.2,835.5 693.7,835.5 694.2,835.5 694.7,835.5 695.2,835.5 695.7,835.5 696.2,835.5 696.7,835.5 697.2,835.5 697.7,835.5 698.2,835.5 698.7,835.5 699.2,835.5 699.7,835.5 700.2,835.5 700.7,835.5 701.2,835.5 701.7,835.5 702.2,835.5 702.7,835.5 703.2,835.5 703.7,835.5 704.2,835.5 704.7,835.5 705.2,835.5 705.7,835.5 706.2,835.5 706.7,835.5 707.2,835.5 707.7,835.5 708.2,835.5 708.7,835.5 709.2,835.5 709.7,835.5 710.2,835.5 710.7,835.5 711.2,835.5 711.7,835.5 712.2,835.5 712.7,835.5 713.2,835.5 713.7,835.5 714.2,835.5 714.7,835.5 715.2,835.5 715.7,835.5 716.2,835.5 716.7,835.5 717.2,835.5 717.7,835.5 718.2,835.5 718.7,835.5 719.2,835.5 719.7,835.5 720.2,835.5 720.7,835.5 721.2,835.5 721.7,835.5 722.2,835.5 722.7,835.5 723.2,835.5 723.7,835.5 724.2,835.5 724.7,835.5 725.2,835.5 725.7,835.5 726.2,835.5 726.7,835.5 727.2,835.5 727.7,835.5 728.2,835.5 728.7,835.5 729.2,835.5 729.7,835.5 730.2,835.5 730.7,835.5 731.2,835.5 731.7,835.5 732.2,835.5 732.7,835.5 733.2,835.5 733.7,835.5 734.2,835.5 734.7,835.5 735.2,835.5 735.7,835.5 736.2,835.5 736.7,835.5 737.2,835.5 737.7,835.5 738.2,835.5 738.7,835.5 739.2,835.5 739.7,835.5 740.2,835.5 740.7,835.5 741.2,835.5 741.7,835.5 742.2,835.5 742.7,835.5 743.2,835.5 743.7,835.5 744.2,835.5 744.7,835.5 745.2,835.5 745.7,835.5 746.2,835.5 746.7,835.5 747.2,835.5 747.7,835.5 748.2,835.5 748.7,835.5 749.2,835.5 749.7,835.5 750.2,835.5 750.7,835.5 751.2,835.4 751.7,835.2 752.2,835.1 752.7,834.8 753.2,834.6 753.7,834.3 754.2,834 754.7,833.7 755.2,833.3 755.7,832.9 756.2,832.2 756.7,831.2 757.2,829.9 757.7,828.4 758.2,826.7 758.7,824.9 759.2,823.1 759.7,821.2 760.2,819.5 760.7,817.8 761.2,816.3 761.7,814.5 762.2,812.6 762.7,810.6 763.2,808.6 763.7,806.7 764.2,805 764.7,803.5 765.2,802.3 765.7,801.6 766.2,801.3 766.7,801.4 767.2,801.5 767.7,801.8 768.2,802.1 768.7,802.5 769.2,802.9 769.7,803.2 770.2,803.5 770.7,803.7 771.2,803.9 771.7,803.9 772.2,803.9 772.7,803.9 773.2,803.9 773.7,803.9 774.2,803.9 774.7,803.9 775.2,803.9 775.7,803.9 776.2,803.9 776.7,803.9 777.2,803.8 777.7,803.3 778.2,802.5 778.7,801.5 779.2,800.2 779.7,798.8 780.2,797.2 780.7,795.5 781.2,793.8 781.7,792.1 782.2,790.4 782.7,788.5 783.2,786.3 783.7,783.9 784.2,781.4 784.7,778.8 785.2,776.1 785.7,773.6 786.2,771.1 786.7,768.1 787.2,765 787.7,762.1 788.2,759.9 788.7,758.9 789.2,758.6 789.7,758.3 790.2,758.1 790.7,757.9 791.2,757.8 791.7,757.7 792.2,757.6 792.7,757.6 793.2,757.9 793.7,758.9 794.2,760.3 794.7,762.1 795.2,764 795.7,766.1 796.2,768 796.7,769.8 797.2,771.7 797.7,773.6 798.2,775.6 798.7,777.7 799.2,779.7 799.7,781.8 800.2,783.8 800.7,785.8 801.2,788.1 801.7,790.5 802.2,793 802.7,795.2 803.2,796.7 803.7,797.5 804.2,797.1 804.7,795.7 805.2,793.4 805.7,790.6 806.2,787.4 806.7,784.1 807.2,780.9 807.7,778.1 808.2,775.9 808.7,774.6 809.2,773.6 809.7,772.6 810.2,771.7 810.7,770.9 811.2,770.3 811.7,769.8 812.2,769.5 812.7,769.5 813.2,769.8 813.7,770.2 814.2,770.9 814.7,771.7 815.2,772.5 815.7,773.4 816.2,774.3 816.7,775.1 817.2,775.9 817.7,776.8 818.2,777.7 818.7,778.7 819.2,779.7 819.7,780.7 820.2,781.7 820.7,782.8 821.2,784 821.7,785.2 822.2,786.4 822.7,787.8 823.2,789.2 823.7,790.8 824.2,792.3 824.7,793.9 825.2,795.6 825.7,797.1 826.2,798.7 826.7,800.2 827.2,801.6 827.7,802.9 828.2,804.3 828.7,805.6 829.2,806.9 829.7,808.2 830.2,809.5 830.7,810.7 831.2,811.9 831.7,813 832.2,814.1 832.7,815.1 833.2,816.1 833.7,817.1 834.2,818.1 834.7,819.1 835.2,820 835.7,820.9 836.2,821.8 836.7,822.7 837.2,823.5 837.7,824.3 838.2,825.1 838.7,825.8 839.2,826.5 839.7,827.1 840.2,827.7 840.7,828.2 841.2,828.8 841.7,829.4 842.2,830 842.7,830.5 843.2,831.1 843.7,831.6 844.2,832.1 844.7,832.6 845.2,833 845.7,833.4 846.2,833.7 846.7,834 847.2,834.2 847.7,834.3 848.2,834.4 848.7,834.4 849.2,834.4 849.7,834.4 850.2,834.4 850.7,834.3 851.2,834.3 851.7,834.3 852.2,834.2 852.7,834.2 853.2,834.1 853.7,834.1 854.2,834.1 854.7,834 855.2,834 855.7,833.9 856.2,833.9 856.7,833.9 857.2,833.8 857.7,833.8 858.2,833.7 858.7,833.7 859.2,833.6 859.7,833.6 860.2,833.5 860.7,833.3 861.2,833.1 861.7,832.8 862.2,832.5 862.7,832.2 863.2,831.8 863.7,831.3 864.2,830.6 864.7,829.6 865.2,828.4 865.7,827 866.2,825.5 866.7,823.9 867.2,822.3 867.7,820.6 868.2,819 868.7,817.4 869.2,815.7 869.7,813.9 870.2,812.1 870.7,810.2 871.2,808.3 871.7,806.4 872.2,804.5 872.7,802.6 873.2,800.5 873.7,798.1 874.2,795.8 874.7,793.9 875.2,792.7 875.7,792.5 876.2,792.8 876.7,793.3 877.2,794 877.7,794.8 878.2,795.7 878.7,796.5 879.2,797.3 879.7,798.2 880.2,799.1 880.7,800.2 881.2,801.3 881.7,802.3 882.2,803.3 882.7,804.3 883.2,805.1 883.7,805.7 884.2,806.2 884.7,806.6 885.2,807 885.7,807.4 886.2,807.7 886.7,808 887.2,808.2 887.7,808.3 888.2,808.3 888.7,808.2 889.2,808.1 889.7,807.9 890.2,807.6 890.7,807.3 891.2,807 891.7,806.6 892.2,806.2 892.7,805.8 893.2,805.3 893.7,804.9 894.2,804.3 894.7,803.6 895.2,802.7 895.7,801.8 896.2,800.8 896.7,799.8 897.2,799 897.7,798.2 898.2,797.7 898.7,797.4 899.2,797.3 899.7,797.4 900.2,797.5 900.7,797.6 901.2,797.8 901.7,798 902.2,798.3 902.7,798.7 903.2,799.5 903.7,800.6 904.2,802.1 904.7,803.7 905.2,805.5 905.7,807.2 906.2,808.8 906.7,810.2 907.2,811.5 907.7,812.7 908.2,813.8 908.7,815 909.2,816.1 909.7,817.2 910.2,818.3 910.7,819.3 911.2,820.4 911.7,821.4 912.2,822.4 912.7,823.4 913.2,824.6 913.7,825.8 914.2,827 914.7,828.1 915.2,829 915.7,829.8 916.2,830.3 916.7,830.5 917.2,830.4 917.7,830.2 918.2,829.9 918.7,829.4 919.2,828.9 919.7,828.3 920.2,827.5 920.7,826.7 921.2,825.8 921.7,824.9 922.2,823.9 922.7,822.9 923.2,821.9 923.7,820.8 924.2,819.8 924.7,818.7 925.2,817.7 925.7,816.6 926.2,815.5 926.7,814.2 927.2,812.9 927.7,811.5 928.2,810 928.7,808.4 929.2,806.8 929.7,805 930.2,803.2 930.7,801.3 931.2,799.3 931.7,797.2 932.2,795 932.7,792.7 933.2,790.2 933.7,787.6 934.2,784.8 934.7,781.7 935.2,778.4 935.7,774.8 936.2,770.9 936.7,766.8 937.2,762 937.7,756 938.2,748.8 938.7,740.6 939.2,731.8 939.7,722.4 940.2,712.8 940.7,703.2 941.2,693.7 941.7,684.4 942.2,674.6 942.7,664.4 943.2,654.1 943.7,643.7 944.2,633.5 944.7,623.5 945.2,613.7 945.7,603.9 946.2,593.9 946.7,583.6 947.2,572.7 947.7,560 948.2,546.5 948.7,535 949.2,527.3 949.7,520.8 950.2,514.5 950.7,508.5 951.2,502.9 951.7,497.8 952.2,493.1 952.7,489.1 953.2,485.7 953.7,483.1 954.2,481.2 954.7,480.2 955.2,480 955.7,480 956.2,480 956.7,480 957.2,480 957.7,480 958.2,480 958.7,480 959.2,480 959.7,480 960.2,480 960.7,480 961.2,480 961.7,480 962.2,480 962.7,480 963.2,480 963.7,480 964.2,480 964.7,480 965.2,480 965.7,480 966.2,480 966.7,480 967.2,480 967.7,480 968.2,480 968.7,480 969.2,480 969.7,480 970.2,480 970.7,480 971.2,480 971.7,480 972.2,480 972.7,480 973.2,480 973.7,480 974.2,480 974.7,480 975.2,480.2 975.7,481.8 976.2,485.2 976.7,489.9 977.2,495.9 977.7,502.8 978.2,510.4 978.7,518.4 979.2,526.8 979.7,535.1 980.2,543.5 980.7,554.2 981.2,566.3 981.7,578.1 982.2,587.7 982.7,595.6 983.2,602.8 983.7,609.6 984.2,616.3 984.7,623.5 985.2,630.8 985.7,637.5 986.2,643 986.7,647.1 987.2,650.7 987.7,653.9 988.2,656.7 988.7,659.1 989.2,661.3 989.7,663.5 990.2,665.5 990.7,666.9 991.2,667.3 991.7,666.8 992.2,665.8 992.7,664.4 993.2,662.6 993.7,660.5 994.2,658.2 994.7,655.9 995.2,653.7 995.7,651.6 996.2,649.7 996.7,647.7 997.2,645.7 997.7,643.7 998.2,641.6 998.7,639.5 999.2,637.3 999.7,635.1 1000.2,632.9 1000.7,630.6 1001.2,628.2 1001.4,627.3" stroke="#9fb152" stroke-width="5.0" stroke-dasharray="33.5 8 4.5 8"/>
<line x1="865.17" y1="575.5" x2="865.17" y2="835.5" stroke="#6e6e6e" stroke-width="1.8" stroke-dasharray="7.4 3.2"/>
</g>
<g clip-path="url(#cp20)" fill="none" stroke-linejoin="round">
<path d="M1124.3,315.5 1124.8,315.5 1125.3,315.5 1125.8,315.5 1126.3,315.5 1126.8,315.5 1127.3,315.5 1127.8,315.5 1128.3,315.5 1128.8,315.5 1129.3,315.5 1129.8,315.5 1130.3,315.5 1130.8,315.5 1131.3,315.5 1131.8,315.5 1132.3,315.5 1132.8,315.5 1133.3,315.5 1133.8,315.5 1134.3,315.5 1134.8,315.5 1135.3,315.5 1135.8,315.5 1136.3,315.5 1136.8,315.5 1137.3,315.5 1137.8,315.5 1138.3,315.5 1138.8,315.5 1139.3,315.5 1139.8,315.5 1140.3,315.5 1140.8,315.5 1141.3,315.5 1141.8,315.5 1142.3,315.5 1142.8,315.5 1143.3,315.5 1143.8,315.5 1144.3,315.5 1144.8,315.5 1145.3,315.5 1145.8,315.5 1146.3,315.5 1146.8,315.5 1147.3,315.5 1147.8,315.5 1148.3,315.5 1148.8,315.5 1149.3,315.5 1149.8,315.5 1150.3,315.5 1150.8,315.5 1151.3,315.5 1151.8,315.5 1152.3,315.5 1152.8,315.5 1153.3,315.5 1153.8,315.5 1154.3,315.5 1154.8,315.5 1155.3,315.5 1155.8,315.5 1156.3,315.5 1156.8,315.5 1157.3,315.5 1157.8,315.5 1158.3,315.5 1158.8,315.5 1159.3,315.5 1159.8,315.5 1160.3,315.5 1160.8,315.5 1161.3,315.5 1161.8,315.5 1162.3,315.5 1162.8,315.5 1163.3,315.5 1163.8,315.5 1164.3,315.5 1164.8,315.5 1165.3,315.5 1165.8,315.5 1166.3,315.5 1166.8,315.5 1167.3,315.5 1167.8,315.5 1168.3,315.5 1168.8,315.5 1169.3,315.5 1169.8,315.5 1170.3,315.4 1170.8,315.3 1171.3,315.2 1171.8,315.1 1172.3,314.9 1172.8,314.7 1173.3,314.5 1173.8,314.3 1174.3,314.1 1174.8,313.8 1175.3,313.5 1175.8,312.8 1176.3,311.9 1176.8,310.7 1177.3,309.3 1177.8,307.7 1178.3,306 1178.8,304.2 1179.3,302.3 1179.8,300.4 1180.3,298.6 1180.8,296.8 1181.3,295 1181.8,293.5 1182.3,292.1 1182.8,290.8 1183.3,289.5 1183.8,288.3 1184.3,287.1 1184.8,285.9 1185.3,284.7 1185.8,283.5 1186.3,282.3 1186.8,281 1187.3,279.6 1187.8,278.1 1188.3,276.5 1188.8,274.8 1189.3,272.9 1189.8,270.8 1190.3,268.5 1190.8,266.1 1191.3,263.5 1191.8,260.6 1192.3,257.6 1192.8,254.4 1193.3,251 1193.8,247.4 1194.3,243.1 1194.8,238.1 1195.3,232.8 1195.8,227.2 1196.3,221.6 1196.8,216.3 1197.3,211.2 1197.8,206.5 1198.3,201.9 1198.8,197.2 1199.3,192.4 1199.8,187.3 1200.3,181.8 1200.8,175.3 1201.3,166.9 1201.8,158 1202.3,150.2 1202.8,145 1203.3,141.7 1203.8,138.7 1204.3,136.2 1204.8,134.3 1205.3,133.2 1205.8,133.2 1206.3,134.9 1206.8,138.2 1207.3,142.6 1207.8,147.7 1208.3,153.1 1208.8,158.5 1209.3,165 1209.8,172.5 1210.3,180.7 1210.8,189.3 1211.3,198.3 1211.8,208.2 1212.3,218.7 1212.8,229.2 1213.3,239.3 1213.8,249.6 1214.3,260.1 1214.8,270.1 1215.3,279 1215.8,286.4 1216.3,293.5 1216.8,300 1217.3,305.2 1217.8,308.6 1218.3,310.3 1218.8,311.6 1219.3,312.7 1219.8,313.5 1220.3,314 1220.8,314.3 1221.3,314.5 1221.8,314.7 1222.3,314.9 1222.8,315 1223.3,315.2 1223.8,315.3 1224.3,315.4 1224.8,315.4 1225.3,315.5 1225.8,315.5 1226.3,315.5 1226.8,315.5 1227.3,315.5 1227.8,315.5 1228.3,315.5 1228.8,315.5 1229.3,315.5 1229.8,315.5 1230.3,315.5 1230.8,315.5 1231.3,315.5 1231.8,315.5 1232.3,315.5 1232.8,315.5 1233.3,315.5 1233.8,315.5 1234.3,315.5 1234.8,315.5 1235.3,315.5 1235.8,315.5 1236.3,315.5 1236.8,315.5 1237.3,315.5 1237.8,315.5 1238.3,315.5 1238.8,315.5 1239.3,315.5 1239.8,315.5 1240.3,315.5 1240.8,315.5 1241.3,315.5 1241.8,315.5 1242.3,315.5 1242.8,315.5 1243.3,315.5 1243.8,315.5 1244.3,315.5 1244.8,315.5 1245.3,315.5 1245.8,315.5 1246.3,315.5 1246.8,315.5 1247.3,315.5 1247.8,315.5 1248.3,315.5 1248.8,315.5 1249.3,315.5 1249.8,315.5 1250.3,315.5 1250.8,315.5 1251.3,315.5 1251.8,315.5 1252.3,315.5 1252.8,315.5 1253.3,315.5 1253.8,315.5 1254.3,315.5 1254.8,315.5 1255.3,315.5 1255.8,315.5 1256.3,315.5 1256.8,315.5 1257.3,315.5 1257.8,315.5 1258.3,315.5 1258.8,315.5 1259.3,315.5 1259.8,315.5 1260.3,315.5 1260.8,315.5 1261.3,315.5 1261.8,315.5 1262.3,315.5 1262.8,315.5 1263.3,315.5 1263.8,315.5 1264.3,315.5 1264.8,315.5 1265.3,315.5 1265.8,315.5 1266.3,315.5 1266.8,315.5 1267.3,315.5 1267.8,315.5 1268.3,315.5 1268.8,315.5 1269.3,315.5 1269.8,315.5 1270.3,315.5 1270.8,315.5 1271.3,315.5 1271.8,315.5 1272.3,315.5 1272.8,315.5 1273.3,315.5 1273.8,315.5 1274.3,315.5 1274.8,315.5 1275.3,315.5 1275.8,315.5 1276.3,315.5 1276.8,315.5 1277.3,315.5 1277.8,315.5 1278.3,315.5 1278.8,315.5 1279.3,315.5 1279.8,315.5 1280.3,315.4 1280.8,315.3 1281.3,315.2 1281.8,315.1 1282.3,314.9 1282.8,314.7 1283.3,314.5 1283.8,314.2 1284.3,314 1284.8,313.6 1285.3,312.8 1285.8,311.3 1286.3,309.3 1286.8,306.9 1287.3,304.1 1287.8,301.1 1288.3,297.7 1288.8,294.3 1289.3,290.7 1289.8,286.4 1290.3,281.1 1290.8,274.9 1291.3,268.1 1291.8,261.2 1292.3,254.3 1292.8,247.7 1293.3,241.1 1293.8,234.4 1294.3,227.5 1294.8,220.7 1295.3,214 1295.8,207.6 1296.3,201.5 1296.8,195.3 1297.3,189 1297.8,182.8 1298.3,177 1298.8,171.9 1299.3,167.9 1299.8,165.1 1300.3,162.9 1300.8,161 1301.3,159.5 1301.8,158.7 1302.3,158.8 1302.8,159.9 1303.3,161.8 1303.8,164.4 1304.3,167.3 1304.8,170.5 1305.3,173.7 1305.8,177 1306.3,181.3 1306.8,186.3 1307.3,191.6 1307.8,196.7 1308.3,201 1308.8,204.2 1309.3,206 1309.8,207.6 1310.3,209 1310.8,210.1 1311.3,210.8 1311.8,210.9 1312.3,209.2 1312.8,205.5 1313.3,200.5 1313.8,195.1 1314.3,189.9 1314.8,185.6 1315.3,181.4 1315.8,176.9 1316.3,172.4 1316.8,168.2 1317.3,164.7 1317.8,162.2 1318.3,160.8 1318.8,160.1 1319.3,159.5 1319.8,159 1320.3,158.6 1320.8,158.2 1321.3,157.8 1321.8,157.4 1322.3,157 1322.8,156.5 1323.3,156 1323.8,155.6 1324.3,155.1 1324.8,154.6 1325.3,154.2 1325.8,153.8 1326.3,153.5 1326.8,153.2 1327.3,153 1327.8,152.9 1328.3,152.9 1328.8,153.7 1329.3,155.2 1329.8,157.4 1330.3,160 1330.8,162.6 1331.3,165.1 1331.8,167.7 1332.3,170.8 1332.8,174.1 1333.3,177.2 1333.8,179.9 1334.3,181.6 1334.8,182.5 1335.3,183.3 1335.8,183.9 1336.3,184.3 1336.8,184.5 1337.3,183.6 1337.8,181.2 1338.3,177.7 1338.8,173.4 1339.3,168.7 1339.8,163.9 1340.3,159.4 1340.8,155.6 1341.3,151.5 1341.8,147.1 1342.3,142.8 1342.8,139.1 1343.3,136.5 1343.8,135.4 1344.3,135 1344.8,134.7 1345.3,134.4 1345.8,134.3 1346.3,134.5 1346.8,135.5 1347.3,137.4 1347.8,139.7 1348.3,142.5 1348.8,145.4 1349.3,148.3 1349.8,151.2 1350.3,154.7 1350.8,158.6 1351.3,162.8 1351.8,166.9 1352.3,170.6 1352.8,173.8 1353.3,176.4 1353.8,179 1354.3,181.5 1354.8,183.8 1355.3,185.7 1355.8,187 1356.3,187.6 1356.8,187.6 1357.3,187.4 1357.8,187.1 1358.3,186.8 1358.8,186.4 1359.3,186.1 1359.8,185.7 1360.3,185.5 1360.8,185.3 1361.3,185.4 1361.8,186.1 1362.3,187.6 1362.8,189.6 1363.3,192 1363.8,194.5 1364.3,197 1364.8,199.5 1365.3,202.3 1365.8,205.3 1366.3,208.6 1366.8,212.2 1367.3,215.9 1367.8,219.7 1368.3,223.6 1368.8,227.9 1369.3,232.4 1369.8,237.2 1370.3,242.1 1370.8,246.9 1371.3,251.7 1371.8,256.4 1372.3,261.3 1372.8,266.3 1373.3,271.2 1373.8,276 1374.3,280.5 1374.8,284.5 1375.3,288.1 1375.8,291.7 1376.3,295.3 1376.8,298.7 1377.3,301.8 1377.8,304.6 1378.3,306.8 1378.8,308.5 1379.3,309.6 1379.8,310.4 1380.3,311.2 1380.8,311.9 1381.3,312.5 1381.8,312.9 1382.3,313.3 1382.8,313.5 1383.3,313.5 1383.8,313.3 1384.3,313 1384.8,312.6 1385.3,312 1385.8,311.4 1386.3,310.7 1386.8,309.6 1387.3,307.6 1387.8,304.8 1388.3,301.2 1388.8,297.1 1389.3,292.4 1389.8,287.4 1390.3,282 1390.8,276.4 1391.3,270.8 1391.8,265.1 1392.3,259.6 1392.8,253.7 1393.3,247.2 1393.8,240.2 1394.3,232.9 1394.8,225.2 1395.3,217.2 1395.8,209.1 1396.3,200.8 1396.8,192.6 1397.3,184.4 1397.8,176.3 1398.3,168 1398.8,158.8 1399.3,149.2 1399.8,139.4 1400.3,129.9 1400.8,121.1 1401.3,113.2 1401.8,106.8 1402.3,102.2 1402.8,98.3 1403.3,94.5 1403.8,90.8 1404.3,87.5 1404.8,84.5 1405.3,81.8 1405.8,79.6 1406.3,77.9 1406.8,76.8 1407.3,76.3 1407.8,76.5 1408.3,77.1 1408.8,78.1 1409.3,79.6 1409.8,81.4 1410.3,83.6 1410.8,86.1 1411.3,88.8 1411.8,91.8 1412.3,95.1 1412.8,101.2 1413.3,110.1 1413.8,120.6 1414.3,131.3 1414.8,141.1 1415.3,148.9 1415.8,156.4 1416.3,163.9 1416.8,171.1 1417.3,178 1417.8,184.3 1418.3,189.7 1418.8,194.1 1419.3,197.2 1419.8,199.3 1420.3,201 1420.8,202.5 1421.3,203.8 1421.8,204.9 1422.3,206 1422.8,206.9 1423.3,207.9 1423.8,208.9 1424.3,210 1424.8,211.2 1425.3,212.6 1425.8,214 1426.3,215.4 1426.8,216.8 1427.3,218.3 1427.8,219.9 1428.3,221.6 1428.8,223.4 1429.3,225.4 1429.8,227.7 1430.3,230.4 1430.8,233.5 1431.3,236.9 1431.8,240.5 1432.3,244.2 1432.8,247.9 1433.3,251.5 1433.8,255 1434.3,258.4 1434.8,261.9 1435.3,265.4 1435.8,268.9 1436.3,272.4 1436.8,275.8 1437.3,279 1437.8,282 1438.3,284.8 1438.8,287.6 1439.3,290.5 1439.8,293.3 1440.3,295.9 1440.8,298.3 1441.3,300.5 1441.8,302.3 1442.3,303.6 1442.8,304.6 1443.3,305.5 1443.8,306.3 1444.3,307 1444.8,307.6 1445.3,308 1445.8,308.1 1446.3,307.9 1446.8,307.3 1447.3,306.4 1447.8,305.2 1448.3,303.8 1448.8,302.3 1449.3,300.7 1449.8,299 1450.3,297.4 1450.8,295.8 1451.3,294.3 1451.8,292.7 1452.3,290.9 1452.8,289 1453.3,287.1 1453.8,285.1 1454.3,283.2 1454.8,281.3 1455.3,279.4 1455.8,277.7 1456.3,276.2 1456.8,274.8 1457.3,273.5 1457.8,272.2 1458.3,270.9 1458.8,269.6 1459.3,268.4 1459.8,267.3 1460.3,266.2 1460.8,265.3 1461.3,264.6 1461.8,264 1462.3,263.6 1462.8,263.4 1463.3,263.3 1463.8,263.2 1464.3,263.1 1464.8,263 1465.3,262.9 1465.8,262.9 1466.3,262.8 1466.8,262.7 1467.3,262.5 1467.8,262.4 1468.3,262.1 1468.8,261.5 1469.3,260.3 1469.8,258.7 1470.3,256.8 1470.8,254.6 1471.3,252.2 1471.8,249.8 1472.3,247.4 1472.8,244.9 1473.3,242 1473.8,238.7 1474.3,235.2 1474.8,231.6 1475.3,227.9 1475.8,224.3 1476.3,220.8 1476.8,217.7 1477.3,214.6 1477.8,211.4 1478.3,208.1 1478.8,204.9 1479.3,201.9 1479.8,199.2 1480.3,197 1480.8,195.4 1481.3,194.5 1481.8,193.7 1482.3,193 1482.8,192.5 1483.3,192.1 1483.8,191.9 1484.3,192 1484.8,192.4 1485.3,193 1485.8,193.7 1486.3,194.6 1486.8,195.5 1487.3,196.4 1487.8,197.2 1488.3,197.8 1488.8,198.5 1489.3,199.3 1489.8,200 1490.3,200.6 1490.8,200.9 1491.3,200.9 1491.8,200.3 1492.3,199 1492.8,197.2 1493.3,195.1 1493.8,192.9 1494.3,190.6 1494.8,188.4 1495.3,186.5 1495.8,184.9 1496.3,183.1 1496.8,181.3 1497.3,179.5 1497.8,177.7 1498.3,176 1498.8,174.3 1499.3,172.8 1499.8,171.5 1500.3,170.3 1500.8,169.4 1501.3,168.8 1501.8,168.2 1502.3,167.6 1502.8,167.1 1503.3,166.6 1503.8,166.2 1504.3,165.8 1504.8,165.4 1505.3,165.1 1505.8,164.9 1506.3,164.8 1506.8,164.7 1507.3,164.8 1507.8,165.1 1508.3,165.7 1508.8,166.5 1509.3,167.4 1509.8,168.4 1510.3,169.6 1510.8,170.8 1511.3,172.1 1511.8,173.8 1512.3,176.2 1512.8,178.9 1513.3,182 1513.8,185.1 1514.3,188.3 1514.8,191.2 1515.3,193.9 1515.8,196.2 1516.3,198.6 1516.8,201.1 1517.3,203.6 1517.8,205.9 1518.3,208 1518.8,209.6 1519.3,210.6 1519.8,211 1520.3,210.8 1520.8,210.1 1521.3,209.2 1521.8,207.9 1522.3,206.4 1522.8,204.8 1523.3,203.2 1523.8,201.5 1524.3,199.8 1524.8,197.9 1525.3,195.7 1525.8,193.3 1526.3,190.7 1526.8,188.1 1527.3,185.6 1527.8,183.1 1528.3,180.8 1528.8,178.7 1529.3,176.7 1529.8,174.7 1530.3,172.7 1530.8,170.8 1531.3,169 1531.8,167.1 1532.3,165.4 1532.8,163.7 1533,163" stroke="#8c8c8c" stroke-width="5.0"/>
<line x1="1396.77" y1="56" x2="1396.77" y2="315.5" stroke="#6e6e6e" stroke-width="1.8" stroke-dasharray="7.4 3.2"/>
</g>
<g clip-path="url(#cp21)" fill="none" stroke-linejoin="round">
<path d="M1124.3,575.5 1124.8,575.5 1125.3,575.5 1125.8,575.5 1126.3,575.5 1126.8,575.5 1127.3,575.5 1127.8,575.5 1128.3,575.5 1128.8,575.5 1129.3,575.5 1129.8,575.5 1130.3,575.5 1130.8,575.5 1131.3,575.5 1131.8,575.5 1132.3,575.5 1132.8,575.5 1133.3,575.5 1133.8,575.5 1134.3,575.5 1134.8,575.5 1135.3,575.5 1135.8,575.5 1136.3,575.5 1136.8,575.5 1137.3,575.5 1137.8,575.5 1138.3,575.5 1138.8,575.5 1139.3,575.5 1139.8,575.5 1140.3,575.5 1140.8,575.5 1141.3,575.5 1141.8,575.5 1142.3,575.5 1142.8,575.5 1143.3,575.5 1143.8,575.5 1144.3,575.5 1144.8,575.5 1145.3,575.5 1145.8,575.5 1146.3,575.5 1146.8,575.5 1147.3,575.5 1147.8,575.5 1148.3,575.5 1148.8,575.5 1149.3,575.5 1149.8,575.5 1150.3,575.5 1150.8,575.5 1151.3,575.5 1151.8,575.5 1152.3,575.5 1152.8,575.5 1153.3,575.5 1153.8,575.5 1154.3,575.5 1154.8,575.5 1155.3,575.5 1155.8,575.5 1156.3,575.5 1156.8,575.5 1157.3,575.5 1157.8,575.5 1158.3,575.5 1158.8,575.5 1159.3,575.5 1159.8,575.5 1160.3,575.5 1160.8,575.5 1161.3,575.5 1161.8,575.5 1162.3,575.5 1162.8,575.5 1163.3,575.5 1163.8,575.5 1164.3,575.5 1164.8,575.5 1165.3,575.5 1165.8,575.5 1166.3,575.5 1166.8,575.5 1167.3,575.5 1167.8,575.5 1168.3,575.5 1168.8,575.5 1169.3,575.5 1169.8,575.5 1170.3,575.5 1170.8,575.5 1171.3,575.5 1171.8,575.4 1172.3,575.3 1172.8,575.1 1173.3,574.8 1173.8,574.6 1174.3,574.3 1174.8,574 1175.3,573.7 1175.8,573.4 1176.3,573.1 1176.8,572.9 1177.3,572.7 1177.8,572.5 1178.3,572.3 1178.8,572.2 1179.3,572 1179.8,571.8 1180.3,571.7 1180.8,571.5 1181.3,571.4 1181.8,571.3 1182.3,571.1 1182.8,571 1183.3,570.8 1183.8,570.7 1184.3,570.5 1184.8,570.3 1185.3,570.1 1185.8,569.9 1186.3,569.7 1186.8,569.4 1187.3,569.2 1187.8,568.9 1188.3,568.6 1188.8,568.2 1189.3,567.8 1189.8,567.3 1190.3,566.8 1190.8,566.2 1191.3,565.6 1191.8,564.9 1192.3,564.2 1192.8,563.5 1193.3,562.7 1193.8,561.9 1194.3,561.1 1194.8,560.2 1195.3,559.2 1195.8,558.1 1196.3,556.8 1196.8,555.5 1197.3,554 1197.8,552.6 1198.3,551.1 1198.8,549.7 1199.3,548.4 1199.8,547 1200.3,545.6 1200.8,544.2 1201.3,542.8 1201.8,541.6 1202.3,540.6 1202.8,539.9 1203.3,539.2 1203.8,538.6 1204.3,538.2 1204.8,538 1205.3,538.3 1205.8,539.1 1206.3,540.2 1206.8,541.6 1207.3,543.1 1207.8,544.7 1208.3,546.4 1208.8,548.6 1209.3,551.1 1209.8,553.7 1210.3,556.2 1210.8,558.5 1211.3,560.5 1211.8,562.6 1212.3,564.6 1212.8,566.5 1213.3,568.1 1213.8,569.3 1214.3,570.2 1214.8,570.9 1215.3,571.5 1215.8,572 1216.3,572.5 1216.8,572.9 1217.3,573.2 1217.8,573.6 1218.3,573.9 1218.8,574.3 1219.3,574.6 1219.8,574.9 1220.3,575.1 1220.8,575.3 1221.3,575.4 1221.8,575.5 1222.3,575.5 1222.8,575.5 1223.3,575.5 1223.8,575.5 1224.3,575.5 1224.8,575.5 1225.3,575.5 1225.8,575.5 1226.3,575.5 1226.8,575.5 1227.3,575.5 1227.8,575.5 1228.3,575.5 1228.8,575.5 1229.3,575.5 1229.8,575.5 1230.3,575.5 1230.8,575.5 1231.3,575.5 1231.8,575.5 1232.3,575.5 1232.8,575.5 1233.3,575.5 1233.8,575.5 1234.3,575.5 1234.8,575.5 1235.3,575.5 1235.8,575.5 1236.3,575.5 1236.8,575.5 1237.3,575.5 1237.8,575.5 1238.3,575.5 1238.8,575.5 1239.3,575.5 1239.8,575.5 1240.3,575.5 1240.8,575.5 1241.3,575.5 1241.8,575.5 1242.3,575.5 1242.8,575.5 1243.3,575.5 1243.8,575.5 1244.3,575.5 1244.8,575.5 1245.3,575.5 1245.8,575.5 1246.3,575.5 1246.8,575.5 1247.3,575.5 1247.8,575.5 1248.3,575.5 1248.8,575.5 1249.3,575.5 1249.8,575.5 1250.3,575.5 1250.8,575.5 1251.3,575.5 1251.8,575.5 1252.3,575.5 1252.8,575.5 1253.3,575.5 1253.8,575.5 1254.3,575.5 1254.8,575.5 1255.3,575.5 1255.8,575.5 1256.3,575.5 1256.8,575.5 1257.3,575.5 1257.8,575.5 1258.3,575.5 1258.8,575.5 1259.3,575.5 1259.8,575.5 1260.3,575.5 1260.8,575.5 1261.3,575.5 1261.8,575.5 1262.3,575.5 1262.8,575.5 1263.3,575.5 1263.8,575.5 1264.3,575.5 1264.8,575.5 1265.3,575.5 1265.8,575.5 1266.3,575.5 1266.8,575.5 1267.3,575.5 1267.8,575.5 1268.3,575.5 1268.8,575.5 1269.3,575.5 1269.8,575.5 1270.3,575.5 1270.8,575.5 1271.3,575.5 1271.8,575.5 1272.3,575.5 1272.8,575.5 1273.3,575.5 1273.8,575.5 1274.3,575.5 1274.8,575.5 1275.3,575.5 1275.8,575.5 1276.3,575.5 1276.8,575.5 1277.3,575.5 1277.8,575.5 1278.3,575.5 1278.8,575.5 1279.3,575.5 1279.8,575.5 1280.3,575.5 1280.8,575.5 1281.3,575.4 1281.8,575.3 1282.3,575.2 1282.8,575 1283.3,574.8 1283.8,574.6 1284.3,574.4 1284.8,574.1 1285.3,573.8 1285.8,573.5 1286.3,572.9 1286.8,571.9 1287.3,570.5 1287.8,568.8 1288.3,566.9 1288.8,564.7 1289.3,562.4 1289.8,560.1 1290.3,557.8 1290.8,555.3 1291.3,552.6 1291.8,549.6 1292.3,546.3 1292.8,542.9 1293.3,539.3 1293.8,535.7 1294.3,532.1 1294.8,528.5 1295.3,525 1295.8,521.1 1296.3,517.1 1296.8,512.9 1297.3,508.9 1297.8,505.1 1298.3,501.8 1298.8,499.1 1299.3,496.8 1299.8,494.6 1300.3,492.4 1300.8,490.5 1301.3,488.8 1301.8,487.5 1302.3,486.6 1302.8,486.3 1303.3,486.6 1303.8,487.5 1304.3,489 1304.8,490.7 1305.3,492.8 1305.8,495 1306.3,497.3 1306.8,499.6 1307.3,502.7 1307.8,506.3 1308.3,509.9 1308.8,513.1 1309.3,515.5 1309.8,518 1310.3,520.3 1310.8,521.9 1311.3,522.5 1311.8,522.2 1312.3,521.3 1312.8,520.1 1313.3,518.5 1313.8,516.8 1314.3,515 1314.8,513.4 1315.3,511.9 1315.8,510.4 1316.3,508.8 1316.8,507.2 1317.3,505.5 1317.8,503.9 1318.3,502.3 1318.8,500.9 1319.3,499.6 1319.8,498.6 1320.3,497.7 1320.8,496.9 1321.3,496.2 1321.8,495.5 1322.3,494.8 1322.8,494.2 1323.3,493.7 1323.8,493.1 1324.3,492.6 1324.8,492.1 1325.3,491.5 1325.8,491 1326.3,490.5 1326.8,490 1327.3,489.7 1327.8,489.5 1328.3,489.4 1328.8,489.6 1329.3,490.2 1329.8,490.9 1330.3,491.9 1330.8,492.9 1331.3,494 1331.8,495 1332.3,496 1332.8,497.3 1333.3,498.8 1333.8,500.4 1334.3,502 1334.8,503.4 1335.3,504.4 1335.8,504.9 1336.3,504.9 1336.8,504.7 1337.3,504.2 1337.8,503.6 1338.3,502.9 1338.8,502.3 1339.3,501.6 1339.8,500.6 1340.3,499.5 1340.8,498.4 1341.3,497.5 1341.8,497 1342.3,497 1342.8,497.3 1343.3,497.7 1343.8,498.3 1344.3,499 1344.8,499.7 1345.3,500.6 1345.8,501.8 1346.3,503.5 1346.8,505.3 1347.3,507.4 1347.8,509.4 1348.3,511.3 1348.8,513.1 1349.3,515.3 1349.8,517.6 1350.3,519.9 1350.8,522 1351.3,523.6 1351.8,524.7 1352.3,525 1352.8,524.2 1353.3,522.6 1353.8,520.2 1354.3,517.4 1354.8,514.3 1355.3,511.2 1355.8,508 1356.3,503.9 1356.8,499.2 1357.3,494.4 1357.8,490 1358.3,486.3 1358.8,483.1 1359.3,479.8 1359.8,476.6 1360.3,473.5 1360.8,470.6 1361.3,468.1 1361.8,466.1 1362.3,464.7 1362.8,464 1363.3,464.1 1363.8,465 1364.3,466.7 1364.8,468.9 1365.3,471.7 1365.8,474.7 1366.3,477.9 1366.8,481.2 1367.3,484.5 1367.8,487.5 1368.3,490.9 1368.8,494.6 1369.3,498.5 1369.8,502.6 1370.3,506.7 1370.8,510.9 1371.3,515 1371.8,518.9 1372.3,522.5 1372.8,526.1 1373.3,529.7 1373.8,533.4 1374.3,536.9 1374.8,540.4 1375.3,543.7 1375.8,546.8 1376.3,549.6 1376.8,552.2 1377.3,554.6 1377.8,556.9 1378.3,559.1 1378.8,561.2 1379.3,563.2 1379.8,565 1380.3,566.6 1380.8,568.1 1381.3,569.2 1381.8,570.1 1382.3,571 1382.8,571.9 1383.3,572.6 1383.8,573.1 1384.3,573.4 1384.8,573.4 1385.3,572.7 1385.8,571.4 1386.3,569.8 1386.8,567.8 1387.3,564.9 1387.8,561 1388.3,556.3 1388.8,551 1389.3,545.2 1389.8,538.9 1390.3,532.3 1390.8,525.5 1391.3,518.6 1391.8,511.8 1392.3,505.1 1392.8,497.9 1393.3,490.1 1393.8,481.8 1394.3,473.2 1394.8,464.4 1395.3,455.5 1395.8,446.7 1396.3,438.1 1396.8,429.6 1397.3,420.6 1397.8,411.2 1398.3,401.8 1398.8,392.6 1399.3,383.9 1399.8,375.8 1400.3,368.8 1400.8,363 1401.3,357.8 1401.8,352.7 1402.3,347.7 1402.8,343.1 1403.3,339 1403.8,335.6 1404.3,333.1 1404.8,331.7 1405.3,331.6 1405.8,332.1 1406.3,333.3 1406.8,334.9 1407.3,337 1407.8,339.4 1408.3,342.2 1408.8,345.1 1409.3,348.1 1409.8,351.7 1410.3,356.7 1410.8,362.8 1411.3,369.8 1411.8,377.3 1412.3,385.1 1412.8,392.9 1413.3,400.4 1413.8,407.3 1414.3,414.3 1414.8,421.6 1415.3,429 1415.8,436.4 1416.3,443.5 1416.8,450.2 1417.3,456.2 1417.8,461.5 1418.3,466 1418.8,470.1 1419.3,473.8 1419.8,477.3 1420.3,480.5 1420.8,483.6 1421.3,486.5 1421.8,489.3 1422.3,492.1 1422.8,494.7 1423.3,497.2 1423.8,499.5 1424.3,501.7 1424.8,503.9 1425.3,506.1 1425.8,508.3 1426.3,510.6 1426.8,513.1 1427.3,515.7 1427.8,518.5 1428.3,521.3 1428.8,524.1 1429.3,526.9 1429.8,529.6 1430.3,532.2 1430.8,534.6 1431.3,536.9 1431.8,539.3 1432.3,541.5 1432.8,543.8 1433.3,546 1433.8,548.1 1434.3,550.2 1434.8,552.1 1435.3,553.9 1435.8,555.6 1436.3,557.2 1436.8,558.5 1437.3,559.9 1437.8,561.3 1438.3,562.7 1438.8,564.1 1439.3,565.4 1439.8,566.7 1440.3,567.9 1440.8,569 1441.3,569.9 1441.8,570.8 1442.3,571.5 1442.8,572 1443.3,572.3 1443.8,572.4 1444.3,572.2 1444.8,571.8 1445.3,571.1 1445.8,570.1 1446.3,569 1446.8,567.7 1447.3,566.3 1447.8,564.7 1448.3,563.2 1448.8,561.6 1449.3,560 1449.8,558.5 1450.3,557 1450.8,555.7 1451.3,554.5 1451.8,553.2 1452.3,551.8 1452.8,550.4 1453.3,548.9 1453.8,547.5 1454.3,546 1454.8,544.6 1455.3,543.3 1455.8,542.1 1456.3,540.9 1456.8,539.9 1457.3,539 1457.8,538.3 1458.3,537.8 1458.8,537.4 1459.3,537 1459.8,536.6 1460.3,536.3 1460.8,536.1 1461.3,535.8 1461.8,535.6 1462.3,535.3 1462.8,535.1 1463.3,534.8 1463.8,534.6 1464.3,534.3 1464.8,534 1465.3,533.6 1465.8,533.2 1466.3,532.8 1466.8,532.4 1467.3,532 1467.8,531.5 1468.3,531 1468.8,530.6 1469.3,530.1 1469.8,529.5 1470.3,529 1470.8,528.5 1471.3,527.9 1471.8,527.3 1472.3,526.7 1472.8,526.1 1473.3,525.4 1473.8,524.5 1474.3,523.6 1474.8,522.7 1475.3,521.8 1475.8,520.8 1476.3,520 1476.8,519.2 1477.3,518.6 1477.8,518.1 1478.3,517.9 1478.8,517.6 1479.3,517.4 1479.8,517.2 1480.3,517.1 1480.8,516.9 1481.3,516.8 1481.8,516.6 1482.3,516.5 1482.8,516.5 1483.3,516.4 1483.8,516.4 1484.3,516.5 1484.8,516.8 1485.3,517.2 1485.8,517.9 1486.3,518.6 1486.8,519.5 1487.3,520.3 1487.8,521.2 1488.3,522.1 1488.8,522.9 1489.3,523.7 1489.8,524.3 1490.3,524.7 1490.8,525 1491.3,525 1491.8,524.9 1492.3,524.8 1492.8,524.6 1493.3,524.4 1493.8,524.1 1494.3,523.7 1494.8,523.4 1495.3,523 1495.8,522.6 1496.3,522.2 1496.8,521.8 1497.3,521.4 1497.8,521.1 1498.3,520.7 1498.8,520.3 1499.3,519.9 1499.8,519.4 1500.3,518.9 1500.8,518.4 1501.3,517.8 1501.8,517.3 1502.3,516.8 1502.8,516.3 1503.3,515.9 1503.8,515.5 1504.3,515.3 1504.8,515.1 1505.3,515 1505.8,515 1506.3,515.2 1506.8,515.5 1507.3,515.9 1507.8,516.4 1508.3,516.9 1508.8,517.5 1509.3,518.1 1509.8,518.8 1510.3,519.5 1510.8,520.2 1511.3,520.8 1511.8,521.6 1512.3,522.6 1512.8,523.6 1513.3,524.8 1513.8,526 1514.3,527.3 1514.8,528.6 1515.3,529.8 1515.8,531 1516.3,532.1 1516.8,533.1 1517.3,534 1517.8,534.6 1518.3,535 1518.8,535.3 1519.3,535.6 1519.8,535.8 1520.3,536 1520.8,536.2 1521.3,536.3 1521.8,536.4 1522.3,536.5 1522.8,536.5 1523.3,536.3 1523.8,536 1524.3,535.4 1524.8,534.7 1525.3,533.8 1525.8,532.8 1526.3,531.7 1526.8,530.5 1527.3,529.3 1527.8,528 1528.3,526.8 1528.8,525.4 1529.3,523.8 1529.8,522 1530.3,519.9 1530.8,517.7 1531.3,515.3 1531.8,512.8 1532.3,510.2 1532.8,507.5 1533,506.4" stroke="#ec7f9c" stroke-width="5.0"/>
<path d="M1124.3,575.5 1124.8,575.5 1125.3,575.5 1125.8,575.5 1126.3,575.5 1126.8,575.5 1127.3,575.5 1127.8,575.5 1128.3,575.5 1128.8,575.5 1129.3,575.5 1129.8,575.5 1130.3,575.5 1130.8,575.5 1131.3,575.5 1131.8,575.5 1132.3,575.5 1132.8,575.5 1133.3,575.5 1133.8,575.5 1134.3,575.5 1134.8,575.5 1135.3,575.5 1135.8,575.5 1136.3,575.5 1136.8,575.5 1137.3,575.5 1137.8,575.5 1138.3,575.5 1138.8,575.5 1139.3,575.5 1139.8,575.5 1140.3,575.5 1140.8,575.5 1141.3,575.5 1141.8,575.5 1142.3,575.5 1142.8,575.5 1143.3,575.5 1143.8,575.5 1144.3,575.5 1144.8,575.5 1145.3,575.5 1145.8,575.5 1146.3,575.5 1146.8,575.5 1147.3,575.5 1147.8,575.5 1148.3,575.5 1148.8,575.5 1149.3,575.5 1149.8,575.5 1150.3,575.5 1150.8,575.5 1151.3,575.5 1151.8,575.5 1152.3,575.5 1152.8,575.5 1153.3,575.5 1153.8,575.5 1154.3,575.5 1154.8,575.5 1155.3,575.5 1155.8,575.5 1156.3,575.5 1156.8,575.5 1157.3,575.5 1157.8,575.5 1158.3,575.5 1158.8,575.5 1159.3,575.5 1159.8,575.5 1160.3,575.5 1160.8,575.5 1161.3,575.5 1161.8,575.5 1162.3,575.5 1162.8,575.5 1163.3,575.5 1163.8,575.5 1164.3,575.5 1164.8,575.5 1165.3,575.5 1165.8,575.5 1166.3,575.5 1166.8,575.5 1167.3,575.5 1167.8,575.5 1168.3,575.5 1168.8,575.5 1169.3,575.5 1169.8,575.5 1170.3,575.5 1170.8,575.5 1171.3,575.5 1171.8,575.4 1172.3,575.3 1172.8,575.1 1173.3,574.8 1173.8,574.6 1174.3,574.2 1174.8,573.9 1175.3,573.5 1175.8,573.1 1176.3,572.7 1176.8,572.2 1177.3,571.4 1177.8,570.6 1178.3,569.5 1178.8,568.4 1179.3,567.2 1179.8,565.9 1180.3,564.6 1180.8,563.2 1181.3,561.9 1181.8,560.6 1182.3,559.4 1182.8,558.2 1183.3,557.1 1183.8,556.1 1184.3,555.1 1184.8,554.2 1185.3,553.3 1185.8,552.4 1186.3,551.5 1186.8,550.6 1187.3,549.5 1187.8,548.5 1188.3,547.3 1188.8,546 1189.3,544.6 1189.8,543.1 1190.3,541.5 1190.8,539.7 1191.3,537.7 1191.8,535.5 1192.3,533.1 1192.8,530.2 1193.3,526.3 1193.8,522 1194.3,517.5 1194.8,513.3 1195.3,509.2 1195.8,505.1 1196.3,501.1 1196.8,497.1 1197.3,493.3 1197.8,489.6 1198.3,486 1198.8,482.5 1199.3,479.2 1199.8,476.1 1200.3,472.9 1200.8,469.9 1201.3,467.5 1201.8,466 1202.3,464.8 1202.8,463.8 1203.3,462.9 1203.8,462.2 1204.3,461.8 1204.8,461.6 1205.3,462.1 1205.8,463.5 1206.3,465.5 1206.8,467.8 1207.3,470.4 1207.8,473.8 1208.3,478.1 1208.8,483.1 1209.3,488.3 1209.8,494.2 1210.3,501.2 1210.8,508.2 1211.3,514.7 1211.8,521 1212.3,527.1 1212.8,533 1213.3,538.8 1213.8,544.5 1214.3,549.7 1214.8,554.2 1215.3,558.4 1215.8,562.5 1216.3,566.1 1216.8,568.8 1217.3,570.1 1217.8,571.2 1218.3,572.1 1218.8,572.9 1219.3,573.6 1219.8,574.2 1220.3,574.7 1220.8,575.1 1221.3,575.4 1221.8,575.5 1222.3,575.5 1222.8,575.5 1223.3,575.5 1223.8,575.5 1224.3,575.5 1224.8,575.5 1225.3,575.5 1225.8,575.5 1226.3,575.5 1226.8,575.5 1227.3,575.5 1227.8,575.5 1228.3,575.5 1228.8,575.5 1229.3,575.5 1229.8,575.5 1230.3,575.5 1230.8,575.5 1231.3,575.5 1231.8,575.5 1232.3,575.5 1232.8,575.5 1233.3,575.5 1233.8,575.5 1234.3,575.5 1234.8,575.5 1235.3,575.5 1235.8,575.5 1236.3,575.5 1236.8,575.5 1237.3,575.5 1237.8,575.5 1238.3,575.5 1238.8,575.5 1239.3,575.5 1239.8,575.5 1240.3,575.5 1240.8,575.5 1241.3,575.5 1241.8,575.5 1242.3,575.5 1242.8,575.5 1243.3,575.5 1243.8,575.5 1244.3,575.5 1244.8,575.5 1245.3,575.5 1245.8,575.5 1246.3,575.5 1246.8,575.5 1247.3,575.5 1247.8,575.5 1248.3,575.5 1248.8,575.5 1249.3,575.5 1249.8,575.5 1250.3,575.5 1250.8,575.5 1251.3,575.5 1251.8,575.5 1252.3,575.5 1252.8,575.5 1253.3,575.5 1253.8,575.5 1254.3,575.5 1254.8,575.5 1255.3,575.5 1255.8,575.5 1256.3,575.5 1256.8,575.5 1257.3,575.5 1257.8,575.5 1258.3,575.5 1258.8,575.5 1259.3,575.5 1259.8,575.5 1260.3,575.5 1260.8,575.5 1261.3,575.5 1261.8,575.5 1262.3,575.5 1262.8,575.5 1263.3,575.5 1263.8,575.5 1264.3,575.5 1264.8,575.5 1265.3,575.5 1265.8,575.5 1266.3,575.5 1266.8,575.5 1267.3,575.5 1267.8,575.5 1268.3,575.5 1268.8,575.5 1269.3,575.5 1269.8,575.5 1270.3,575.5 1270.8,575.5 1271.3,575.5 1271.8,575.5 1272.3,575.5 1272.8,575.5 1273.3,575.5 1273.8,575.5 1274.3,575.5 1274.8,575.5 1275.3,575.5 1275.8,575.5 1276.3,575.5 1276.8,575.5 1277.3,575.5 1277.8,575.5 1278.3,575.5 1278.8,575.5 1279.3,575.5 1279.8,575.5 1280.3,575.5 1280.8,575.5 1281.3,575.4 1281.8,575.3 1282.3,575.2 1282.8,575 1283.3,574.8 1283.8,574.6 1284.3,574.4 1284.8,574.1 1285.3,573.8 1285.8,573.5 1286.3,572.9 1286.8,571.9 1287.3,570.5 1287.8,568.8 1288.3,566.9 1288.8,564.7 1289.3,562.4 1289.8,560.1 1290.3,557.8 1290.8,555.3 1291.3,552.6 1291.8,549.5 1292.3,546.2 1292.8,542.8 1293.3,539.2 1293.8,535.6 1294.3,532 1294.8,528.5 1295.3,525 1295.8,521.1 1296.3,517 1296.8,512.7 1297.3,508.7 1297.8,505.1 1298.3,502.2 1298.8,500.3 1299.3,499.1 1299.8,498.1 1300.3,497.1 1300.8,496.4 1301.3,495.9 1301.8,495.6 1302.3,495.7 1302.8,496.2 1303.3,497.2 1303.8,498.5 1304.3,500.1 1304.8,501.8 1305.3,503.6 1305.8,505.4 1306.3,507.1 1306.8,508.6 1307.3,510.5 1307.8,512.6 1308.3,514.9 1308.8,517.2 1309.3,519.3 1309.8,521.2 1310.3,522.7 1310.8,523.7 1311.3,524.1 1311.8,523.7 1312.3,522.7 1312.8,521 1313.3,519 1313.8,516.7 1314.3,514.3 1314.8,511.8 1315.3,509.5 1315.8,507.4 1316.3,505.8 1316.8,504.6 1317.3,503.6 1317.8,502.7 1318.3,501.8 1318.8,500.9 1319.3,500.1 1319.8,499.5 1320.3,499 1320.8,498.7 1321.3,498.6 1321.8,498.6 1322.3,498.7 1322.8,498.9 1323.3,499 1323.8,499.3 1324.3,499.5 1324.8,499.7 1325.3,499.9 1325.8,500.2 1326.3,500.4 1326.8,500.6 1327.3,500.8 1327.8,501 1328.3,501.2 1328.8,501.6 1329.3,502 1329.8,502.6 1330.3,503.5 1330.8,504.5 1331.3,505.6 1331.8,506.6 1332.3,507.6 1332.8,508.6 1333.3,509.7 1333.8,510.9 1334.3,512.1 1334.8,513.2 1335.3,514.2 1335.8,515 1336.3,515.5 1336.8,515.6 1337.3,515.1 1337.8,513.9 1338.3,512.3 1338.8,510.2 1339.3,508 1339.8,505.6 1340.3,503.2 1340.8,500.9 1341.3,499 1341.8,497.1 1342.3,495.2 1342.8,493 1343.3,490.9 1343.8,488.7 1344.3,486.7 1344.8,484.9 1345.3,483.3 1345.8,482.1 1346.3,481.3 1346.8,481 1347.3,481.2 1347.8,481.8 1348.3,482.8 1348.8,484 1349.3,485.4 1349.8,486.9 1350.3,488.5 1350.8,490.1 1351.3,492.1 1351.8,494.6 1352.3,497.5 1352.8,500.6 1353.3,503.7 1353.8,506.8 1354.3,509.7 1354.8,512.3 1355.3,514.5 1355.8,516.4 1356.3,518.2 1356.8,519.9 1357.3,521.5 1357.8,523 1358.3,524.5 1358.8,526 1359.3,527.6 1359.8,529.2 1360.3,530.8 1360.8,532.5 1361.3,534.2 1361.8,535.9 1362.3,537.6 1362.8,539.3 1363.3,541 1363.8,542.6 1364.3,544.3 1364.8,545.9 1365.3,547.4 1365.8,549 1366.3,550.6 1366.8,552.2 1367.3,553.7 1367.8,555.2 1368.3,556.6 1368.8,558 1369.3,559.3 1369.8,560.7 1370.3,562 1370.8,563.4 1371.3,564.7 1371.8,565.9 1372.3,567 1372.8,568 1373.3,568.9 1373.8,569.6 1374.3,570.2 1374.8,570.8 1375.3,571.3 1375.8,571.9 1376.3,572.3 1376.8,572.8 1377.3,573.2 1377.8,573.6 1378.3,573.9 1378.8,574.1 1379.3,574.2 1379.8,574.3 1380.3,574.3 1380.8,574.3 1381.3,574.2 1381.8,574.1 1382.3,574 1382.8,573.9 1383.3,573.8 1383.8,573.6 1384.3,573.5 1384.8,573.3 1385.3,573.1 1385.8,572.8 1386.3,572.6 1386.8,572.1 1387.3,571.4 1387.8,570.4 1388.3,569.2 1388.8,567.9 1389.3,566.4 1389.8,564.8 1390.3,563.1 1390.8,561.3 1391.3,559.6 1391.8,557.8 1392.3,556 1392.8,554.1 1393.3,551.8 1393.8,549.2 1394.3,546.4 1394.8,543.5 1395.3,540.5 1395.8,537.4 1396.3,534.4 1396.8,531.5 1397.3,528.7 1397.8,526.2 1398.3,524 1398.8,522.1 1399.3,520.7 1399.8,519.5 1400.3,518.3 1400.8,517.2 1401.3,516 1401.8,515 1402.3,513.9 1402.8,513 1403.3,512.1 1403.8,511.4 1404.3,510.7 1404.8,510.2 1405.3,509.7 1405.8,509.5 1406.3,509.3 1406.8,509.4 1407.3,509.7 1407.8,510.3 1408.3,511.1 1408.8,512.2 1409.3,513.3 1409.8,514.6 1410.3,515.9 1410.8,517.2 1411.3,518.5 1411.8,519.8 1412.3,520.9 1412.8,522.1 1413.3,523.3 1413.8,524.7 1414.3,526 1414.8,527.4 1415.3,528.8 1415.8,530.2 1416.3,531.6 1416.8,532.9 1417.3,534.1 1417.8,535.3 1418.3,536.3 1418.8,537.2 1419.3,537.9 1419.8,538.5 1420.3,539 1420.8,539.4 1421.3,539.8 1421.8,540.2 1422.3,540.5 1422.8,540.8 1423.3,541.2 1423.8,541.5 1424.3,541.8 1424.8,542.1 1425.3,542.5 1425.8,542.9 1426.3,543.4 1426.8,543.9 1427.3,544.5 1427.8,545.1 1428.3,545.8 1428.8,546.6 1429.3,547.3 1429.8,548.1 1430.3,549 1430.8,549.8 1431.3,550.7 1431.8,551.6 1432.3,552.5 1432.8,553.4 1433.3,554.3 1433.8,555.2 1434.3,556.1 1434.8,557.2 1435.3,558.2 1435.8,559.4 1436.3,560.5 1436.8,561.7 1437.3,562.9 1437.8,564 1438.3,565.1 1438.8,566.2 1439.3,567.1 1439.8,568 1440.3,568.8 1440.8,569.4 1441.3,569.9 1441.8,570.5 1442.3,571 1442.8,571.5 1443.3,572 1443.8,572.4 1444.3,572.8 1444.8,573.2 1445.3,573.4 1445.8,573.6 1446.3,573.8 1446.8,573.8 1447.3,573.6 1447.8,573.1 1448.3,572.4 1448.8,571.5 1449.3,570.5 1449.8,569.3 1450.3,568.1 1450.8,566.8 1451.3,565.6 1451.8,564.4 1452.3,563.3 1452.8,562.3 1453.3,561.5 1453.8,560.9 1454.3,560.4 1454.8,559.9 1455.3,559.4 1455.8,559 1456.3,558.5 1456.8,558 1457.3,557.6 1457.8,557.2 1458.3,556.8 1458.8,556.5 1459.3,556.2 1459.8,555.9 1460.3,555.7 1460.8,555.5 1461.3,555.3 1461.8,555.2 1462.3,555.2 1462.8,555.2 1463.3,555.2 1463.8,555.2 1464.3,555.2 1464.8,555.2 1465.3,555.2 1465.8,555.2 1466.3,555.2 1466.8,555.2 1467.3,555.2 1467.8,555.2 1468.3,555.2 1468.8,555.2 1469.3,555.2 1469.8,555.2 1470.3,554.9 1470.8,554.4 1471.3,553.7 1471.8,552.8 1472.3,551.8 1472.8,550.6 1473.3,549.4 1473.8,548.1 1474.3,546.7 1474.8,545.4 1475.3,544.1 1475.8,542.9 1476.3,541.8 1476.8,540.8 1477.3,539.9 1477.8,538.9 1478.3,537.9 1478.8,536.9 1479.3,535.9 1479.8,534.9 1480.3,533.9 1480.8,532.9 1481.3,531.9 1481.8,531 1482.3,530.1 1482.8,529.3 1483.3,528.6 1483.8,528 1484.3,527.4 1484.8,526.9 1485.3,526.6 1485.8,526.3 1486.3,526 1486.8,525.8 1487.3,525.7 1487.8,525.5 1488.3,525.3 1488.8,525.2 1489.3,525.1 1489.8,525 1490.3,524.8 1490.8,524.7 1491.3,524.6 1491.8,524.5 1492.3,524.3 1492.8,524.1 1493.3,523.9 1493.8,523.7 1494.3,523.4 1494.8,523.1 1495.3,522.8 1495.8,522.4 1496.3,521.9 1496.8,521.4 1497.3,520.9 1497.8,520.4 1498.3,519.8 1498.8,519.3 1499.3,518.7 1499.8,518.1 1500.3,517.5 1500.8,516.9 1501.3,516.4 1501.8,515.8 1502.3,515.3 1502.8,514.8 1503.3,514.2 1503.8,513.6 1504.3,512.9 1504.8,512.3 1505.3,511.6 1505.8,511 1506.3,510.5 1506.8,510 1507.3,509.6 1507.8,509.4 1508.3,509.3 1508.8,509.4 1509.3,509.8 1509.8,510.3 1510.3,511 1510.8,511.8 1511.3,512.7 1511.8,513.7 1512.3,514.7 1512.8,515.8 1513.3,516.9 1513.8,517.9 1514.3,518.8 1514.8,519.7 1515.3,520.4 1515.8,521.1 1516.3,521.7 1516.8,522.4 1517.3,523.1 1517.8,523.8 1518.3,524.4 1518.8,525 1519.3,525.5 1519.8,525.9 1520.3,526.3 1520.8,526.5 1521.3,526.5 1521.8,526.3 1522.3,526 1522.8,525.5 1523.3,524.8 1523.8,524 1524.3,523.2 1524.8,522.2 1525.3,521.2 1525.8,520.2 1526.3,519.2 1526.8,518.3 1527.3,517.3 1527.8,516.4 1528.3,515.3 1528.8,514.3 1529.3,513.1 1529.8,512 1530.3,510.7 1530.8,509.5 1531.3,508.2 1531.8,506.8 1532.3,505.5 1532.8,504.1 1533,503.5" stroke="#d4a04e" stroke-width="5.0" stroke-dasharray="26.5 6"/>
<line x1="1396.77" y1="315.5" x2="1396.77" y2="575.5" stroke="#6e6e6e" stroke-width="1.8" stroke-dasharray="7.4 3.2"/>
</g>
<g clip-path="url(#cp22)" fill="none" stroke-linejoin="round">
<path d="M1124.3,835.5 1124.8,835.5 1125.3,835.5 1125.8,835.5 1126.3,835.5 1126.8,835.5 1127.3,835.5 1127.8,835.5 1128.3,835.5 1128.8,835.5 1129.3,835.5 1129.8,835.5 1130.3,835.5 1130.8,835.5 1131.3,835.5 1131.8,835.5 1132.3,835.5 1132.8,835.5 1133.3,835.5 1133.8,835.5 1134.3,835.5 1134.8,835.5 1135.3,835.5 1135.8,835.5 1136.3,835.5 1136.8,835.5 1137.3,835.5 1137.8,835.5 1138.3,835.5 1138.8,835.5 1139.3,835.5 1139.8,835.5 1140.3,835.5 1140.8,835.5 1141.3,835.5 1141.8,835.5 1142.3,835.5 1142.8,835.5 1143.3,835.5 1143.8,835.5 1144.3,835.5 1144.8,835.5 1145.3,835.5 1145.8,835.5 1146.3,835.5 1146.8,835.5 1147.3,835.5 1147.8,835.5 1148.3,835.5 1148.8,835.5 1149.3,835.5 1149.8,835.5 1150.3,835.5 1150.8,835.5 1151.3,835.5 1151.8,835.5 1152.3,835.5 1152.8,835.5 1153.3,835.5 1153.8,835.5 1154.3,835.5 1154.8,835.5 1155.3,835.5 1155.8,835.5 1156.3,835.5 1156.8,835.5 1157.3,835.5 1157.8,835.5 1158.3,835.5 1158.8,835.5 1159.3,835.5 1159.8,835.5 1160.3,835.5 1160.8,835.5 1161.3,835.5 1161.8,835.5 1162.3,835.5 1162.8,835.5 1163.3,835.5 1163.8,835.5 1164.3,835.5 1164.8,835.5 1165.3,835.5 1165.8,835.5 1166.3,835.5 1166.8,835.5 1167.3,835.5 1167.8,835.5 1168.3,835.5 1168.8,835.5 1169.3,835.5 1169.8,835.5 1170.3,835.5 1170.8,835.5 1171.3,835.5 1171.8,835.5 1172.3,835.5 1172.8,835.5 1173.3,835.5 1173.8,835.5 1174.3,835.5 1174.8,835.5 1175.3,835.5 1175.8,835.5 1176.3,835.5 1176.8,835.5 1177.3,835.5 1177.8,835.5 1178.3,835.5 1178.8,835.5 1179.3,835.5 1179.8,835.5 1180.3,835.5 1180.8,835.5 1181.3,835.5 1181.8,835.5 1182.3,835.5 1182.8,835.5 1183.3,835.5 1183.8,835.5 1184.3,835.5 1184.8,835.5 1185.3,835.5 1185.8,835.5 1186.3,835.5 1186.8,835.5 1187.3,835.5 1187.8,835.5 1188.3,835.5 1188.8,835.5 1189.3,835.5 1189.8,835.5 1190.3,835.5 1190.8,835.4 1191.3,835.3 1191.8,835.2 1192.3,835 1192.8,834.8 1193.3,834.5 1193.8,834.2 1194.3,834 1194.8,833.7 1195.3,833.4 1195.8,833.1 1196.3,832.8 1196.8,832.4 1197.3,832 1197.8,831.5 1198.3,831 1198.8,830.5 1199.3,830 1199.8,829.5 1200.3,829.1 1200.8,828.8 1201.3,828.6 1201.8,828.6 1202.3,828.7 1202.8,829 1203.3,829.4 1203.8,829.8 1204.3,830.4 1204.8,830.9 1205.3,831.5 1205.8,832 1206.3,832.5 1206.8,832.9 1207.3,833.2 1207.8,833.5 1208.3,833.7 1208.8,834 1209.3,834.3 1209.8,834.6 1210.3,834.8 1210.8,835 1211.3,835.2 1211.8,835.3 1212.3,835.4 1212.8,835.5 1213.3,835.5 1213.8,835.5 1214.3,835.5 1214.8,835.5 1215.3,835.5 1215.8,835.5 1216.3,835.5 1216.8,835.5 1217.3,835.5 1217.8,835.5 1218.3,835.5 1218.8,835.5 1219.3,835.5 1219.8,835.5 1220.3,835.5 1220.8,835.5 1221.3,835.5 1221.8,835.5 1222.3,835.5 1222.8,835.5 1223.3,835.5 1223.8,835.5 1224.3,835.5 1224.8,835.5 1225.3,835.5 1225.8,835.5 1226.3,835.5 1226.8,835.5 1227.3,835.5 1227.8,835.5 1228.3,835.5 1228.8,835.5 1229.3,835.5 1229.8,835.5 1230.3,835.5 1230.8,835.5 1231.3,835.5 1231.8,835.5 1232.3,835.5 1232.8,835.5 1233.3,835.5 1233.8,835.5 1234.3,835.5 1234.8,835.5 1235.3,835.5 1235.8,835.5 1236.3,835.5 1236.8,835.5 1237.3,835.5 1237.8,835.5 1238.3,835.5 1238.8,835.5 1239.3,835.5 1239.8,835.5 1240.3,835.5 1240.8,835.5 1241.3,835.5 1241.8,835.5 1242.3,835.5 1242.8,835.5 1243.3,835.5 1243.8,835.5 1244.3,835.5 1244.8,835.5 1245.3,835.5 1245.8,835.5 1246.3,835.5 1246.8,835.5 1247.3,835.5 1247.8,835.5 1248.3,835.5 1248.8,835.5 1249.3,835.5 1249.8,835.5 1250.3,835.5 1250.8,835.5 1251.3,835.5 1251.8,835.5 1252.3,835.5 1252.8,835.5 1253.3,835.5 1253.8,835.5 1254.3,835.5 1254.8,835.5 1255.3,835.5 1255.8,835.5 1256.3,835.5 1256.8,835.5 1257.3,835.5 1257.8,835.5 1258.3,835.5 1258.8,835.5 1259.3,835.5 1259.8,835.5 1260.3,835.5 1260.8,835.5 1261.3,835.5 1261.8,835.5 1262.3,835.5 1262.8,835.5 1263.3,835.5 1263.8,835.5 1264.3,835.5 1264.8,835.5 1265.3,835.5 1265.8,835.5 1266.3,835.5 1266.8,835.5 1267.3,835.5 1267.8,835.5 1268.3,835.5 1268.8,835.5 1269.3,835.5 1269.8,835.5 1270.3,835.5 1270.8,835.5 1271.3,835.5 1271.8,835.5 1272.3,835.5 1272.8,835.5 1273.3,835.5 1273.8,835.5 1274.3,835.5 1274.8,835.5 1275.3,835.5 1275.8,835.5 1276.3,835.5 1276.8,835.5 1277.3,835.5 1277.8,835.5 1278.3,835.5 1278.8,835.5 1279.3,835.5 1279.8,835.5 1280.3,835.5 1280.8,835.4 1281.3,835.3 1281.8,835.2 1282.3,835 1282.8,834.8 1283.3,834.5 1283.8,834.2 1284.3,833.8 1284.8,833.4 1285.3,833 1285.8,832.5 1286.3,832 1286.8,831.5 1287.3,830.9 1287.8,829.8 1288.3,828.2 1288.8,826.3 1289.3,824 1289.8,821.6 1290.3,819.1 1290.8,816.6 1291.3,814.4 1291.8,812.4 1292.3,810.7 1292.8,808.9 1293.3,807.1 1293.8,805.2 1294.3,803.4 1294.8,801.6 1295.3,799.9 1295.8,798.4 1296.3,797.1 1296.8,796.1 1297.3,795.3 1297.8,794.9 1298.3,794.8 1298.8,795.1 1299.3,795.7 1299.8,796.6 1300.3,797.7 1300.8,798.9 1301.3,800.2 1301.8,801.5 1302.3,802.9 1302.8,804.2 1303.3,805.6 1303.8,807.3 1304.3,809.2 1304.8,811.2 1305.3,813.3 1305.8,815.3 1306.3,817.2 1306.8,818.9 1307.3,820.4 1307.8,821.5 1308.3,822.4 1308.8,823.3 1309.3,824.1 1309.8,824.9 1310.3,825.7 1310.8,826.4 1311.3,827.1 1311.8,827.7 1312.3,828.4 1312.8,828.9 1313.3,829.4 1313.8,829.9 1314.3,830.3 1314.8,830.6 1315.3,830.9 1315.8,831.1 1316.3,831.2 1316.8,831.3 1317.3,831.4 1317.8,831.5 1318.3,831.6 1318.8,831.6 1319.3,831.7 1319.8,831.8 1320.3,831.9 1320.8,831.9 1321.3,832 1321.8,832 1322.3,832.1 1322.8,832.1 1323.3,832.2 1323.8,832.2 1324.3,832.3 1324.8,832.3 1325.3,832.3 1325.8,832.3 1326.3,832.4 1326.8,832.4 1327.3,832.4 1327.8,832.4 1328.3,832.4 1328.8,832.4 1329.3,832.3 1329.8,832.2 1330.3,832 1330.8,831.8 1331.3,831.6 1331.8,831.3 1332.3,831.1 1332.8,830.8 1333.3,830.4 1333.8,830.1 1334.3,829.8 1334.8,829.4 1335.3,829.1 1335.8,828.8 1336.3,828.5 1336.8,828.2 1337.3,827.9 1337.8,827.6 1338.3,827.4 1338.8,827.2 1339.3,827 1339.8,826.8 1340.3,826.6 1340.8,826.5 1341.3,826.3 1341.8,826.1 1342.3,825.9 1342.8,825.8 1343.3,825.6 1343.8,825.4 1344.3,825.2 1344.8,825.1 1345.3,824.9 1345.8,824.7 1346.3,824.5 1346.8,824.3 1347.3,824.1 1347.8,823.9 1348.3,823.7 1348.8,823.4 1349.3,823.1 1349.8,822.8 1350.3,822.4 1350.8,822.1 1351.3,821.8 1351.8,821.4 1352.3,821.1 1352.8,820.9 1353.3,820.6 1353.8,820.4 1354.3,820.3 1354.8,820.2 1355.3,820.2 1355.8,820.3 1356.3,820.4 1356.8,820.5 1357.3,820.7 1357.8,820.9 1358.3,821.2 1358.8,821.5 1359.3,821.8 1359.8,822.1 1360.3,822.4 1360.8,822.8 1361.3,823.1 1361.8,823.5 1362.3,823.8 1362.8,824.2 1363.3,824.6 1363.8,825.1 1364.3,825.6 1364.8,826.2 1365.3,826.8 1365.8,827.4 1366.3,828 1366.8,828.6 1367.3,829.1 1367.8,829.7 1368.3,830.2 1368.8,830.6 1369.3,831 1369.8,831.3 1370.3,831.5 1370.8,831.8 1371.3,832 1371.8,832.3 1372.3,832.5 1372.8,832.7 1373.3,833 1373.8,833.2 1374.3,833.4 1374.8,833.6 1375.3,833.7 1375.8,833.9 1376.3,834.1 1376.8,834.2 1377.3,834.3 1377.8,834.4 1378.3,834.4 1378.8,834.5 1379.3,834.5 1379.8,834.5 1380.3,834.4 1380.8,834.3 1381.3,834.2 1381.8,834 1382.3,833.8 1382.8,833.6 1383.3,833.3 1383.8,833 1384.3,832.6 1384.8,832 1385.3,831.4 1385.8,830.8 1386.3,830 1386.8,829.1 1387.3,827.8 1387.8,826.4 1388.3,824.7 1388.8,822.8 1389.3,820.8 1389.8,818.7 1390.3,816.5 1390.8,814.3 1391.3,812.1 1391.8,810 1392.3,807.8 1392.8,805.5 1393.3,803.1 1393.8,800.6 1394.3,798.1 1394.8,795.5 1395.3,792.9 1395.8,790.3 1396.3,787.7 1396.8,785.2 1397.3,782.7 1397.8,780.2 1398.3,777.5 1398.8,774.7 1399.3,772 1399.8,769.5 1400.3,767.2 1400.8,765.2 1401.3,763.6 1401.8,762.5 1402.3,761.3 1402.8,760.3 1403.3,759.5 1403.8,759.1 1404.3,759 1404.8,759.4 1405.3,760.1 1405.8,761.1 1406.3,762.4 1406.8,763.9 1407.3,765.5 1407.8,767.3 1408.3,769.3 1408.8,772.4 1409.3,776.3 1409.8,780.5 1410.3,784.8 1410.8,788.7 1411.3,791.9 1411.8,795.2 1412.3,798.5 1412.8,801.7 1413.3,804.9 1413.8,808 1414.3,810.8 1414.8,813.5 1415.3,815.8 1415.8,817.9 1416.3,819.5 1416.8,820.7 1417.3,821.9 1417.8,823.1 1418.3,824.2 1418.8,825.2 1419.3,826.2 1419.8,827.1 1420.3,828 1420.8,828.8 1421.3,829.5 1421.8,830.2 1422.3,830.8 1422.8,831.3 1423.3,831.7 1423.8,832.1 1424.3,832.3 1424.8,832.5 1425.3,832.6 1425.8,832.7 1426.3,832.8 1426.8,832.9 1427.3,832.9 1427.8,833 1428.3,833.1 1428.8,833.1 1429.3,833.2 1429.8,833.2 1430.3,833.3 1430.8,833.3 1431.3,833.4 1431.8,833.4 1432.3,833.4 1432.8,833.5 1433.3,833.5 1433.8,833.5 1434.3,833.6 1434.8,833.6 1435.3,833.7 1435.8,833.7 1436.3,833.7 1436.8,833.8 1437.3,833.8 1437.8,833.8 1438.3,833.9 1438.8,833.9 1439.3,833.9 1439.8,833.9 1440.3,834 1440.8,834 1441.3,834 1441.8,834 1442.3,834 1442.8,833.9 1443.3,833.1 1443.8,831.4 1444.3,829 1444.8,826 1445.3,822.5 1445.8,818.7 1446.3,814.7 1446.8,810.7 1447.3,806.6 1447.8,802.8 1448.3,799.2 1448.8,796.1 1449.3,793.5 1449.8,791.2 1450.3,788.9 1450.8,786.7 1451.3,784.5 1451.8,782.4 1452.3,780.3 1452.8,778.4 1453.3,776.5 1453.8,774.6 1454.3,772.9 1454.8,771.2 1455.3,769.5 1455.8,768 1456.3,766.5 1456.8,765.1 1457.3,763.8 1457.8,762.5 1458.3,761.3 1458.8,760.1 1459.3,758.9 1459.8,757.8 1460.3,756.7 1460.8,755.6 1461.3,754.5 1461.8,753.5 1462.3,752.6 1462.8,751.8 1463.3,751 1463.8,750.1 1464.3,749.2 1464.8,748.1 1465.3,746.9 1465.8,745.4 1466.3,743.4 1466.8,740.9 1467.3,737.8 1467.8,734.2 1468.3,730.2 1468.8,725.6 1469.3,720.3 1469.8,713.1 1470.3,704.2 1470.8,694.4 1471.3,684 1471.8,672 1472.3,658.2 1472.8,644.8 1473.3,633.2 1473.8,622.3 1474.3,612.1 1474.8,603.2 1475.3,595.8 1475.8,589.9 1476.3,584.2 1476.8,577.6 1477.3,569.1 1477.8,559.4 1478.3,550 1478.8,542.3 1479.3,536.9 1479.8,531.9 1480.3,527 1480.8,522.3 1481.3,517.9 1481.8,513.8 1482.3,510.2 1482.8,507 1483.3,504.3 1483.8,502.2 1484.3,500.8 1484.8,500.1 1485.3,500 1485.8,500 1486.3,500 1486.8,500 1487.3,500 1487.8,500 1488.3,500 1488.8,500 1489.3,500 1489.8,500 1490.3,500 1490.8,500 1491.3,500 1491.8,500 1492.3,500 1492.8,500 1493.3,500 1493.8,500 1494.3,500 1494.8,500 1495.3,500 1495.8,500 1496.3,500 1496.8,500 1497.3,500 1497.8,500 1498.3,500 1498.8,500 1499.3,500 1499.8,500 1500.3,500 1500.8,500 1501.3,500 1501.8,500 1502.3,500 1502.8,500 1503.3,500 1503.8,500 1504.3,500 1504.8,500 1505.3,500.1 1505.8,501 1506.3,502.6 1506.8,504.9 1507.3,507.7 1507.8,511.1 1508.3,514.9 1508.8,519.1 1509.3,523.5 1509.8,528.2 1510.3,533.1 1510.8,538 1511.3,543.3 1511.8,550.2 1512.3,558.2 1512.8,566.9 1513.3,575.7 1513.8,584.1 1514.3,592.6 1514.8,601.5 1515.3,611.4 1515.8,623.3 1516.3,638.2 1516.8,654.2 1517.3,669.3 1517.8,681.7 1518.3,693.4 1518.8,704.7 1519.3,715.1 1519.8,724.1 1520.3,731.1 1520.8,735.9 1521.3,740 1521.8,743.5 1522.3,745.8 1522.8,746.4 1523.3,745.6 1523.8,744 1524.3,741.8 1524.8,739.2 1525.3,736.4 1525.8,733.7 1526.3,730.4 1526.8,726.4 1527.3,721.9 1527.8,717.3 1528.3,712.7 1528.8,708.3 1529.3,704.5 1529.8,701.5 1530.3,699 1530.8,696.7 1531.3,694.6 1531.8,692.7 1532.3,691 1532.8,689.7 1533,689.3" stroke="#ec7f9c" stroke-width="5.0"/>
<path d="M1124.3,835.5 1124.8,835.5 1125.3,835.5 1125.8,835.5 1126.3,835.5 1126.8,835.5 1127.3,835.5 1127.8,835.5 1128.3,835.5 1128.8,835.5 1129.3,835.5 1129.8,835.5 1130.3,835.5 1130.8,835.5 1131.3,835.5 1131.8,835.5 1132.3,835.5 1132.8,835.5 1133.3,835.5 1133.8,835.5 1134.3,835.5 1134.8,835.5 1135.3,835.5 1135.8,835.5 1136.3,835.5 1136.8,835.5 1137.3,835.5 1137.8,835.5 1138.3,835.5 1138.8,835.5 1139.3,835.5 1139.8,835.5 1140.3,835.5 1140.8,835.5 1141.3,835.5 1141.8,835.5 1142.3,835.5 1142.8,835.5 1143.3,835.5 1143.8,835.5 1144.3,835.5 1144.8,835.5 1145.3,835.5 1145.8,835.5 1146.3,835.5 1146.8,835.5 1147.3,835.5 1147.8,835.5 1148.3,835.5 1148.8,835.5 1149.3,835.5 1149.8,835.5 1150.3,835.5 1150.8,835.5 1151.3,835.5 1151.8,835.5 1152.3,835.5 1152.8,835.5 1153.3,835.5 1153.8,835.5 1154.3,835.5 1154.8,835.5 1155.3,835.5 1155.8,835.5 1156.3,835.5 1156.8,835.5 1157.3,835.5 1157.8,835.5 1158.3,835.5 1158.8,835.5 1159.3,835.5 1159.8,835.5 1160.3,835.5 1160.8,835.5 1161.3,835.5 1161.8,835.5 1162.3,835.5 1162.8,835.5 1163.3,835.5 1163.8,835.5 1164.3,835.5 1164.8,835.5 1165.3,835.5 1165.8,835.5 1166.3,835.5 1166.8,835.5 1167.3,835.5 1167.8,835.5 1168.3,835.5 1168.8,835.5 1169.3,835.5 1169.8,835.4 1170.3,835.3 1170.8,835.2 1171.3,835 1171.8,834.7 1172.3,834.4 1172.8,834.1 1173.3,833.8 1173.8,833.5 1174.3,833.1 1174.8,832.7 1175.3,832.2 1175.8,831.4 1176.3,830.5 1176.8,829.4 1177.3,828.2 1177.8,826.9 1178.3,825.5 1178.8,824.1 1179.3,822.7 1179.8,821.4 1180.3,820.1 1180.8,818.9 1181.3,817.9 1181.8,817 1182.3,816.1 1182.8,815.4 1183.3,814.7 1183.8,814.1 1184.3,813.4 1184.8,812.8 1185.3,812.2 1185.8,811.5 1186.3,810.8 1186.8,810 1187.3,809.1 1187.8,808.1 1188.3,807 1188.8,805.7 1189.3,804.2 1189.8,802.6 1190.3,800.8 1190.8,799 1191.3,797 1191.8,794.8 1192.3,792.4 1192.8,789.6 1193.3,786.5 1193.8,783.3 1194.3,779.9 1194.8,776.5 1195.3,772.7 1195.8,768.6 1196.3,764.3 1196.8,760.2 1197.3,756.4 1197.8,752.4 1198.3,748.5 1198.8,745 1199.3,742.1 1199.8,740 1200.3,737.9 1200.8,735.9 1201.3,734.3 1201.8,733.1 1202.3,732.5 1202.8,732.5 1203.3,733.1 1203.8,734.2 1204.3,735.7 1204.8,737.4 1205.3,739.3 1205.8,741.5 1206.3,744.8 1206.8,748.9 1207.3,753.4 1207.8,757.8 1208.3,762.2 1208.8,766.7 1209.3,771.4 1209.8,776.3 1210.3,781.3 1210.8,786.7 1211.3,792.3 1211.8,797.9 1212.3,803.1 1212.8,807.8 1213.3,812.4 1213.8,816.7 1214.3,820.5 1214.8,823.5 1215.3,826 1215.8,828.2 1216.3,830.1 1216.8,831.5 1217.3,832.3 1217.8,832.9 1218.3,833.4 1218.8,833.9 1219.3,834.4 1219.8,834.7 1220.3,835 1220.8,835.3 1221.3,835.4 1221.8,835.5 1222.3,835.5 1222.8,835.5 1223.3,835.5 1223.8,835.5 1224.3,835.5 1224.8,835.5 1225.3,835.5 1225.8,835.5 1226.3,835.5 1226.8,835.5 1227.3,835.5 1227.8,835.5 1228.3,835.5 1228.8,835.5 1229.3,835.5 1229.8,835.5 1230.3,835.5 1230.8,835.5 1231.3,835.5 1231.8,835.5 1232.3,835.5 1232.8,835.5 1233.3,835.5 1233.8,835.5 1234.3,835.5 1234.8,835.5 1235.3,835.5 1235.8,835.5 1236.3,835.5 1236.8,835.5 1237.3,835.5 1237.8,835.5 1238.3,835.5 1238.8,835.5 1239.3,835.5 1239.8,835.5 1240.3,835.5 1240.8,835.5 1241.3,835.5 1241.8,835.5 1242.3,835.5 1242.8,835.5 1243.3,835.5 1243.8,835.5 1244.3,835.5 1244.8,835.5 1245.3,835.5 1245.8,835.5 1246.3,835.5 1246.8,835.5 1247.3,835.5 1247.8,835.5 1248.3,835.5 1248.8,835.5 1249.3,835.5 1249.8,835.5 1250.3,835.5 1250.8,835.5 1251.3,835.5 1251.8,835.5 1252.3,835.5 1252.8,835.5 1253.3,835.5 1253.8,835.5 1254.3,835.5 1254.8,835.5 1255.3,835.5 1255.8,835.5 1256.3,835.5 1256.8,835.5 1257.3,835.5 1257.8,835.5 1258.3,835.5 1258.8,835.5 1259.3,835.5 1259.8,835.5 1260.3,835.5 1260.8,835.5 1261.3,835.5 1261.8,835.5 1262.3,835.5 1262.8,835.5 1263.3,835.5 1263.8,835.5 1264.3,835.5 1264.8,835.5 1265.3,835.5 1265.8,835.5 1266.3,835.5 1266.8,835.5 1267.3,835.5 1267.8,835.5 1268.3,835.5 1268.8,835.5 1269.3,835.5 1269.8,835.5 1270.3,835.5 1270.8,835.5 1271.3,835.5 1271.8,835.5 1272.3,835.5 1272.8,835.5 1273.3,835.5 1273.8,835.5 1274.3,835.5 1274.8,835.5 1275.3,835.5 1275.8,835.5 1276.3,835.5 1276.8,835.5 1277.3,835.5 1277.8,835.4 1278.3,835.4 1278.8,835.3 1279.3,835.1 1279.8,834.9 1280.3,834.7 1280.8,834.5 1281.3,834.2 1281.8,833.9 1282.3,833.6 1282.8,833.1 1283.3,832.4 1283.8,831.4 1284.3,830.2 1284.8,828.7 1285.3,827 1285.8,825 1286.3,822.9 1286.8,820.5 1287.3,817.8 1287.8,813.4 1288.3,807.6 1288.8,800.9 1289.3,794 1289.8,787.2 1290.3,780 1290.8,772.3 1291.3,764.4 1291.8,756.6 1292.3,748.9 1292.8,741.1 1293.3,733.2 1293.8,725.6 1294.3,718.5 1294.8,711.8 1295.3,705.4 1295.8,699.3 1296.3,693.5 1296.8,688 1297.3,682.4 1297.8,676.7 1298.3,671.4 1298.8,666.9 1299.3,663.7 1299.8,661.4 1300.3,659.2 1300.8,657.2 1301.3,655.5 1301.8,654.1 1302.3,653.2 1302.8,652.8 1303.3,653.1 1303.8,654.4 1304.3,656.4 1304.8,658.9 1305.3,661.7 1305.8,664.5 1306.3,667.1 1306.8,669.4 1307.3,672.1 1307.8,674.9 1308.3,677.7 1308.8,680 1309.3,681.6 1309.8,682 1310.3,681.1 1310.8,679.3 1311.3,676.7 1311.8,673.8 1312.3,670.7 1312.8,667.8 1313.3,665.4 1313.8,663.7 1314.3,662.5 1314.8,661.3 1315.3,660.3 1315.8,659.5 1316.3,658.9 1316.8,658.8 1317.3,659.5 1317.8,661.2 1318.3,663.5 1318.8,666.3 1319.3,669.4 1319.8,672.7 1320.3,676.6 1320.8,681.9 1321.3,688 1321.8,694.2 1322.3,700.1 1322.8,705.5 1323.3,710.9 1323.8,716.3 1324.3,721.6 1324.8,726.8 1325.3,732.1 1325.8,737.6 1326.3,742.9 1326.8,747.7 1327.3,751.9 1327.8,755.7 1328.3,759.4 1328.8,762.8 1329.3,765.8 1329.8,768.4 1330.3,770.5 1330.8,772.3 1331.3,774.1 1331.8,775.7 1332.3,777.1 1332.8,778.2 1333.3,778.8 1333.8,779 1334.3,778.1 1334.8,776.2 1335.3,773.6 1335.8,770.4 1336.3,766.9 1336.8,763.4 1337.3,760.1 1337.8,757.1 1338.3,754 1338.8,750.7 1339.3,747.2 1339.8,743.8 1340.3,740.7 1340.8,737.8 1341.3,735.5 1341.8,733.8 1342.3,732.4 1342.8,731 1343.3,729.7 1343.8,728.6 1344.3,727.7 1344.8,727.1 1345.3,726.8 1345.8,727.1 1346.3,728.2 1346.8,729.9 1347.3,732.2 1347.8,734.8 1348.3,737.5 1348.8,740.3 1349.3,743.1 1349.8,746.4 1350.3,750.1 1350.8,754.1 1351.3,758.2 1351.8,762.4 1352.3,766.4 1352.8,770.7 1353.3,775.2 1353.8,779.8 1354.3,784.1 1354.8,787.9 1355.3,791.1 1355.8,794.1 1356.3,796.9 1356.8,799.5 1357.3,801.9 1357.8,804 1358.3,805.8 1358.8,807.1 1359.3,808.3 1359.8,809.3 1360.3,810.2 1360.8,811.1 1361.3,811.8 1361.8,812.5 1362.3,813.2 1362.8,813.9 1363.3,814.5 1363.8,815.2 1364.3,815.9 1364.8,816.6 1365.3,817.4 1365.8,818.1 1366.3,818.9 1366.8,819.6 1367.3,820.3 1367.8,821.1 1368.3,821.8 1368.8,822.6 1369.3,823.3 1369.8,824.1 1370.3,824.9 1370.8,825.7 1371.3,826.6 1371.8,827.5 1372.3,828.4 1372.8,829.2 1373.3,829.9 1373.8,830.5 1374.3,831 1374.8,831.4 1375.3,831.8 1375.8,832.1 1376.3,832.4 1376.8,832.8 1377.3,833.1 1377.8,833.3 1378.3,833.6 1378.8,833.8 1379.3,834 1379.8,834.2 1380.3,834.3 1380.8,834.4 1381.3,834.5 1381.8,834.5 1382.3,834.5 1382.8,834.5 1383.3,834.4 1383.8,834.4 1384.3,834.3 1384.8,834.2 1385.3,834.2 1385.8,834 1386.3,833.9 1386.8,833.5 1387.3,832.9 1387.8,832.2 1388.3,831.4 1388.8,830.4 1389.3,828.9 1389.8,827 1390.3,824.6 1390.8,820.8 1391.3,814.4 1391.8,806.4 1392.3,797.3 1392.8,788 1393.3,779.2 1393.8,769.7 1394.3,759.7 1394.8,749.4 1395.3,739.2 1395.8,729.5 1396.3,720.2 1396.8,711 1397.3,702.1 1397.8,693.5 1398.3,685.4 1398.8,677.9 1399.3,670.7 1399.8,663.9 1400.3,657.4 1400.8,651.4 1401.3,646 1401.8,641 1402.3,636.2 1402.8,631.6 1403.3,627.6 1403.8,624.4 1404.3,622.2 1404.8,620.1 1405.3,618.5 1405.8,617.6 1406.3,617.7 1406.8,618.7 1407.3,620.4 1407.8,622.6 1408.3,625 1408.8,627.5 1409.3,629.8 1409.8,631.6 1410.3,633.6 1410.8,635.6 1411.3,637.7 1411.8,639.6 1412.3,641.1 1412.8,642 1413.3,642.3 1413.8,642.1 1414.3,641.7 1414.8,641.2 1415.3,640.6 1415.8,639.9 1416.3,639.3 1416.8,638.8 1417.3,638.4 1417.8,638.2 1418.3,638.2 1418.8,638.4 1419.3,638.6 1419.8,638.8 1420.3,639.2 1420.8,639.6 1421.3,640.7 1421.8,642.5 1422.3,644.8 1422.8,647.3 1423.3,649.6 1423.8,651.5 1424.3,653.3 1424.8,655.1 1425.3,657.2 1425.8,659.9 1426.3,664 1426.8,672.3 1427.3,683.7 1427.8,695.7 1428.3,706 1428.8,714.1 1429.3,721.6 1429.8,728.8 1430.3,736 1430.8,743.6 1431.3,751.5 1431.8,759.4 1432.3,766.8 1432.8,773.2 1433.3,779.1 1433.8,784.8 1434.3,790.1 1434.8,795 1435.3,799.5 1435.8,803.5 1436.3,807.1 1436.8,810.5 1437.3,813.7 1437.8,816.6 1438.3,819.1 1438.8,821.3 1439.3,823 1439.8,824.4 1440.3,825.8 1440.8,827 1441.3,828.1 1441.8,828.9 1442.3,829.3 1442.8,829.1 1443.3,825.8 1443.8,820 1444.3,812.7 1444.8,805.2 1445.3,796.5 1445.8,785.8 1446.3,774.3 1446.8,762.5 1447.3,749.8 1447.8,736.2 1448.3,721.8 1448.8,706 1449.3,687.6 1449.8,669.8 1450.3,655.3 1450.8,640 1451.3,619.5 1451.8,597.6 1452.3,580.5 1452.8,566.3 1453.3,548.6 1453.8,526 1454.3,503.1 1454.8,484.9 1455.3,474.1 1455.8,464.6 1456.3,455.7 1456.8,447.5 1457.3,440.2 1457.8,433.8 1458.3,428.5 1458.8,424.3 1459.3,421.5 1459.8,420.1 1460.3,420 1460.8,420 1461.3,420 1461.8,420 1462.3,420 1462.8,420 1463.3,420 1463.8,420 1464.3,420 1464.8,420 1465.3,420 1465.8,420 1466.3,420 1466.8,420 1467.3,420 1467.8,420 1468.3,420 1468.8,420 1469.3,420 1469.8,420 1470.3,420 1470.8,420 1471.3,420 1471.8,420 1472.3,420 1472.8,420 1473.3,420 1473.8,420 1474.3,420 1474.8,420 1475.3,420 1475.8,420 1476.3,420 1476.8,420 1477.3,420 1477.8,420 1478.3,420 1478.8,420 1479.3,420 1479.8,420 1480.3,420 1480.8,420 1481.3,420 1481.8,420 1482.3,420 1482.8,420 1483.3,420 1483.8,420 1484.3,420 1484.8,420 1485.3,420 1485.8,420 1486.3,420 1486.8,420 1487.3,420 1487.8,420 1488.3,420 1488.8,420 1489.3,420 1489.8,420 1490.3,420 1490.8,420 1491.3,420 1491.8,420 1492.3,420 1492.8,420 1493.3,420 1493.8,420 1494.3,420 1494.8,420 1495.3,420 1495.8,420 1496.3,420 1496.8,420 1497.3,420 1497.8,420 1498.3,420 1498.8,420 1499.3,420 1499.8,420 1500.3,420 1500.8,420 1501.3,420 1501.8,420 1502.3,420 1502.8,420 1503.3,420 1503.8,420 1504.3,420 1504.8,420 1505.3,420 1505.8,420 1506.3,420 1506.8,420 1507.3,420 1507.8,420 1508.3,420 1508.8,420 1509.3,420 1509.8,420 1510.3,420 1510.8,420 1511.3,420 1511.8,420 1512.3,420 1512.8,420 1513.3,420 1513.8,420 1514.3,420 1514.8,420 1515.3,420 1515.8,420 1516.3,420 1516.8,420 1517.3,420 1517.8,420 1518.3,420 1518.8,420 1519.3,420 1519.8,420 1520.3,420 1520.8,420 1521.3,420 1521.8,420 1522.3,420 1522.8,420 1523.3,420 1523.8,420 1524.3,420 1524.8,420 1525.3,420 1525.8,420 1526.3,420 1526.8,420 1527.3,420 1527.8,420 1528.3,420 1528.8,420 1529.3,420 1529.8,420 1530.3,420 1530.8,420 1531.3,420 1531.8,420 1532.3,420 1532.8,420 1533,420" stroke="#d4a04e" stroke-width="5.0" stroke-dasharray="26 6"/>
<path d="M1124.3,835.5 1124.8,835.5 1125.3,835.5 1125.8,835.5 1126.3,835.5 1126.8,835.5 1127.3,835.5 1127.8,835.5 1128.3,835.5 1128.8,835.5 1129.3,835.5 1129.8,835.5 1130.3,835.5 1130.8,835.5 1131.3,835.5 1131.8,835.5 1132.3,835.5 1132.8,835.5 1133.3,835.5 1133.8,835.5 1134.3,835.5 1134.8,835.5 1135.3,835.5 1135.8,835.5 1136.3,835.5 1136.8,835.5 1137.3,835.5 1137.8,835.5 1138.3,835.5 1138.8,835.5 1139.3,835.5 1139.8,835.5 1140.3,835.5 1140.8,835.5 1141.3,835.5 1141.8,835.5 1142.3,835.5 1142.8,835.5 1143.3,835.5 1143.8,835.5 1144.3,835.5 1144.8,835.5 1145.3,835.5 1145.8,835.5 1146.3,835.5 1146.8,835.5 1147.3,835.5 1147.8,835.5 1148.3,835.5 1148.8,835.5 1149.3,835.5 1149.8,835.5 1150.3,835.5 1150.8,835.5 1151.3,835.5 1151.8,835.5 1152.3,835.5 1152.8,835.5 1153.3,835.5 1153.8,835.5 1154.3,835.5 1154.8,835.5 1155.3,835.5 1155.8,835.5 1156.3,835.5 1156.8,835.5 1157.3,835.5 1157.8,835.5 1158.3,835.5 1158.8,835.5 1159.3,835.5 1159.8,835.5 1160.3,835.5 1160.8,835.5 1161.3,835.5 1161.8,835.5 1162.3,835.5 1162.8,835.5 1163.3,835.5 1163.8,835.5 1164.3,835.5 1164.8,835.5 1165.3,835.5 1165.8,835.5 1166.3,835.5 1166.8,835.5 1167.3,835.5 1167.8,835.5 1168.3,835.5 1168.8,835.5 1169.3,835.5 1169.8,835.5 1170.3,835.5 1170.8,835.5 1171.3,835.5 1171.8,835.5 1172.3,835.5 1172.8,835.5 1173.3,835.5 1173.8,835.5 1174.3,835.5 1174.8,835.5 1175.3,835.5 1175.8,835.5 1176.3,835.5 1176.8,835.5 1177.3,835.5 1177.8,835.5 1178.3,835.5 1178.8,835.5 1179.3,835.5 1179.8,835.5 1180.3,835.5 1180.8,835.4 1181.3,835.3 1181.8,835.2 1182.3,835 1182.8,834.8 1183.3,834.5 1183.8,834.2 1184.3,834 1184.8,833.7 1185.3,833.4 1185.8,833 1186.3,832.7 1186.8,832.4 1187.3,832.1 1187.8,831.7 1188.3,831.3 1188.8,830.9 1189.3,830.4 1189.8,829.9 1190.3,829.3 1190.8,828.8 1191.3,828.1 1191.8,827.5 1192.3,826.7 1192.8,826 1193.3,825 1193.8,824 1194.3,822.8 1194.8,821.5 1195.3,820 1195.8,818.4 1196.3,816.8 1196.8,815 1197.3,812.9 1197.8,810.4 1198.3,807.4 1198.8,804.1 1199.3,800.8 1199.8,797.5 1200.3,794.5 1200.8,791.2 1201.3,787.9 1201.8,784.6 1202.3,781.5 1202.8,778.9 1203.3,776.8 1203.8,775 1204.3,773.2 1204.8,771.8 1205.3,771.1 1205.8,771.1 1206.3,771.9 1206.8,773.2 1207.3,775 1207.8,777 1208.3,779.1 1208.8,781.2 1209.3,783.8 1209.8,787 1210.3,790.4 1210.8,794 1211.3,797.6 1211.8,801 1212.3,804.3 1212.8,807.7 1213.3,811.1 1213.8,814.4 1214.3,817.5 1214.8,820.4 1215.3,823.2 1215.8,826.1 1216.3,828.6 1216.8,830.5 1217.3,831.5 1217.8,832.3 1218.3,833 1218.8,833.6 1219.3,834.1 1219.8,834.6 1220.3,834.9 1220.8,835.2 1221.3,835.4 1221.8,835.5 1222.3,835.5 1222.8,835.5 1223.3,835.5 1223.8,835.5 1224.3,835.5 1224.8,835.5 1225.3,835.5 1225.8,835.5 1226.3,835.5 1226.8,835.5 1227.3,835.5 1227.8,835.5 1228.3,835.5 1228.8,835.5 1229.3,835.5 1229.8,835.5 1230.3,835.5 1230.8,835.5 1231.3,835.5 1231.8,835.5 1232.3,835.5 1232.8,835.5 1233.3,835.5 1233.8,835.5 1234.3,835.5 1234.8,835.5 1235.3,835.5 1235.8,835.5 1236.3,835.5 1236.8,835.5 1237.3,835.5 1237.8,835.5 1238.3,835.5 1238.8,835.5 1239.3,835.5 1239.8,835.5 1240.3,835.5 1240.8,835.5 1241.3,835.5 1241.8,835.5 1242.3,835.5 1242.8,835.5 1243.3,835.5 1243.8,835.5 1244.3,835.5 1244.8,835.5 1245.3,835.5 1245.8,835.5 1246.3,835.5 1246.8,835.5 1247.3,835.5 1247.8,835.5 1248.3,835.5 1248.8,835.5 1249.3,835.5 1249.8,835.5 1250.3,835.5 1250.8,835.5 1251.3,835.5 1251.8,835.5 1252.3,835.5 1252.8,835.5 1253.3,835.5 1253.8,835.5 1254.3,835.5 1254.8,835.5 1255.3,835.5 1255.8,835.5 1256.3,835.5 1256.8,835.5 1257.3,835.5 1257.8,835.5 1258.3,835.5 1258.8,835.5 1259.3,835.5 1259.8,835.5 1260.3,835.5 1260.8,835.5 1261.3,835.5 1261.8,835.5 1262.3,835.5 1262.8,835.5 1263.3,835.5 1263.8,835.5 1264.3,835.5 1264.8,835.5 1265.3,835.5 1265.8,835.5 1266.3,835.5 1266.8,835.5 1267.3,835.5 1267.8,835.5 1268.3,835.5 1268.8,835.5 1269.3,835.5 1269.8,835.5 1270.3,835.5 1270.8,835.5 1271.3,835.5 1271.8,835.5 1272.3,835.5 1272.8,835.5 1273.3,835.5 1273.8,835.5 1274.3,835.5 1274.8,835.5 1275.3,835.5 1275.8,835.5 1276.3,835.5 1276.8,835.5 1277.3,835.5 1277.8,835.5 1278.3,835.5 1278.8,835.5 1279.3,835.4 1279.8,835.3 1280.3,835.2 1280.8,835.1 1281.3,835 1281.8,834.8 1282.3,834.6 1282.8,834.5 1283.3,834.2 1283.8,834 1284.3,833.8 1284.8,833.5 1285.3,833.2 1285.8,832.7 1286.3,832 1286.8,831.2 1287.3,830.3 1287.8,829.3 1288.3,828.2 1288.8,827 1289.3,825.8 1289.8,824.6 1290.3,823.3 1290.8,822 1291.3,820.7 1291.8,819.5 1292.3,818.2 1292.8,816.7 1293.3,815.1 1293.8,813.3 1294.3,811.5 1294.8,809.8 1295.3,808.1 1295.8,806.7 1296.3,805.4 1296.8,804.5 1297.3,803.8 1297.8,803 1298.3,802.3 1298.8,801.7 1299.3,801.1 1299.8,800.6 1300.3,800.1 1300.8,799.8 1301.3,799.6 1301.8,799.6 1302.3,799.8 1302.8,800.2 1303.3,800.9 1303.8,801.6 1304.3,802.5 1304.8,803.4 1305.3,804.3 1305.8,805.1 1306.3,805.9 1306.8,806.5 1307.3,806.9 1307.8,807 1308.3,806.8 1308.8,806.2 1309.3,805.2 1309.8,804.1 1310.3,802.7 1310.8,801.3 1311.3,799.9 1311.8,798.4 1312.3,796.5 1312.8,794.4 1313.3,792.1 1313.8,789.9 1314.3,787.5 1314.8,784.8 1315.3,782.1 1315.8,779.6 1316.3,777.8 1316.8,776.3 1317.3,774.9 1317.8,773.6 1318.3,772.4 1318.8,771.4 1319.3,770.8 1319.8,770.5 1320.3,770.5 1320.8,770.5 1321.3,770.5 1321.8,770.5 1322.3,770.5 1322.8,770.8 1323.3,771.7 1323.8,773 1324.3,774.6 1324.8,776.3 1325.3,778.1 1325.8,779.6 1326.3,781 1326.8,782.3 1327.3,783.7 1327.8,785 1328.3,786.4 1328.8,787.7 1329.3,789.1 1329.8,790.5 1330.3,792.1 1330.8,793.8 1331.3,795.7 1331.8,797.5 1332.3,799.2 1332.8,800.8 1333.3,802.1 1333.8,803 1334.3,803.5 1334.8,803.3 1335.3,802.2 1335.8,800.5 1336.3,798.2 1336.8,795.7 1337.3,793.2 1337.8,791 1338.3,789.2 1338.8,787.4 1339.3,785.4 1339.8,783.4 1340.3,781.5 1340.8,779.7 1341.3,778.1 1341.8,776.8 1342.3,775.8 1342.8,775.3 1343.3,775.4 1343.8,775.7 1344.3,776.2 1344.8,776.9 1345.3,777.8 1345.8,778.7 1346.3,779.6 1346.8,780.6 1347.3,781.7 1347.8,783.1 1348.3,784.7 1348.8,786.3 1349.3,788 1349.8,789.7 1350.3,791.4 1350.8,792.9 1351.3,794.3 1351.8,795.5 1352.3,796.7 1352.8,797.9 1353.3,799 1353.8,800.1 1354.3,801.1 1354.8,802.1 1355.3,803 1355.8,803.8 1356.3,804.5 1356.8,805.1 1357.3,805.7 1357.8,806.1 1358.3,806.6 1358.8,807 1359.3,807.4 1359.8,807.9 1360.3,808.3 1360.8,808.8 1361.3,809.4 1361.8,810.1 1362.3,810.8 1362.8,811.6 1363.3,812.4 1363.8,813.3 1364.3,814.1 1364.8,815 1365.3,815.9 1365.8,816.8 1366.3,817.6 1366.8,818.4 1367.3,819.1 1367.8,819.9 1368.3,820.6 1368.8,821.4 1369.3,822.1 1369.8,822.8 1370.3,823.5 1370.8,824.2 1371.3,824.9 1371.8,825.6 1372.3,826.2 1372.8,826.9 1373.3,827.4 1373.8,828 1374.3,828.5 1374.8,829 1375.3,829.5 1375.8,830 1376.3,830.5 1376.8,831 1377.3,831.5 1377.8,832 1378.3,832.4 1378.8,832.8 1379.3,833.2 1379.8,833.5 1380.3,833.7 1380.8,833.9 1381.3,834.1 1381.8,834.1 1382.3,834.1 1382.8,834.1 1383.3,834 1383.8,834 1384.3,833.9 1384.8,833.8 1385.3,833.7 1385.8,833.5 1386.3,833.4 1386.8,833.3 1387.3,833.1 1387.8,832.9 1388.3,832.7 1388.8,832.5 1389.3,832.3 1389.8,832.1 1390.3,831.8 1390.8,831.3 1391.3,830.8 1391.8,830.1 1392.3,829.4 1392.8,828.6 1393.3,827.7 1393.8,826.8 1394.3,825.8 1394.8,824.7 1395.3,823.6 1395.8,822.5 1396.3,821.3 1396.8,820 1397.3,818.8 1397.8,817.4 1398.3,815.7 1398.8,813.5 1399.3,811.1 1399.8,808.6 1400.3,806.3 1400.8,804.2 1401.3,802.5 1401.8,801.3 1402.3,800.2 1402.8,799.1 1403.3,798.1 1403.8,797.1 1404.3,796.3 1404.8,795.7 1405.3,795.2 1405.8,795 1406.3,795 1406.8,795.3 1407.3,795.7 1407.8,796.2 1408.3,796.8 1408.8,797.3 1409.3,797.9 1409.8,798.4 1410.3,798.7 1410.8,799 1411.3,799.3 1411.8,799.6 1412.3,799.9 1412.8,800.2 1413.3,800.5 1413.8,800.7 1414.3,801 1414.8,801.2 1415.3,801.4 1415.8,801.6 1416.3,801.8 1416.8,801.9 1417.3,802.1 1417.8,802.3 1418.3,802.4 1418.8,802.6 1419.3,802.8 1419.8,803 1420.3,803.2 1420.8,803.5 1421.3,803.9 1421.8,804.4 1422.3,804.9 1422.8,805.4 1423.3,805.9 1423.8,806.5 1424.3,807 1424.8,807.5 1425.3,807.9 1425.8,808.3 1426.3,808.6 1426.8,808.8 1427.3,808.9 1427.8,808.9 1428.3,808.9 1428.8,808.9 1429.3,808.9 1429.8,808.9 1430.3,808.9 1430.8,808.9 1431.3,808.9 1431.8,808.9 1432.3,808.9 1432.8,808.9 1433.3,808.9 1433.8,808.9 1434.3,808.9 1434.8,808.9 1435.3,809.3 1435.8,810.2 1436.3,811.4 1436.8,813 1437.3,814.8 1437.8,816.8 1438.3,818.8 1438.8,820.8 1439.3,822.7 1439.8,824.4 1440.3,825.8 1440.8,826.9 1441.3,828 1441.8,829.1 1442.3,830.1 1442.8,830.9 1443.3,831.5 1443.8,831.6 1444.3,831.4 1444.8,831 1445.3,830.4 1445.8,829.7 1446.3,828.9 1446.8,828 1447.3,827.1 1447.8,826.3 1448.3,825.6 1448.8,824.8 1449.3,824.1 1449.8,823.4 1450.3,822.6 1450.8,821.8 1451.3,821 1451.8,820.1 1452.3,819.1 1452.8,818 1453.3,816.8 1453.8,815.4 1454.3,813.5 1454.8,811.2 1455.3,808.5 1455.8,805.7 1456.3,802.7 1456.8,799.9 1457.3,797.2 1457.8,794.8 1458.3,792.8 1458.8,791 1459.3,789.1 1459.8,787.4 1460.3,785.7 1460.8,784.1 1461.3,782.6 1461.8,781.1 1462.3,779.7 1462.8,778.3 1463.3,777.1 1463.8,775.9 1464.3,774.9 1464.8,774 1465.3,773.2 1465.8,772.4 1466.3,771.6 1466.8,770.7 1467.3,769.6 1467.8,768.4 1468.3,766.9 1468.8,765.2 1469.3,763 1469.8,759.9 1470.3,755.5 1470.8,744 1471.3,728 1471.8,709.3 1472.3,688.1 1472.8,667.4 1473.3,647.1 1473.8,630.2 1474.3,614.7 1474.8,600.6 1475.3,588 1475.8,576.9 1476.3,566.6 1476.8,557 1477.3,548.7 1477.8,542.1 1478.3,537.2 1478.8,532.7 1479.3,528.3 1479.8,524.2 1480.3,520.2 1480.8,516.5 1481.3,513.1 1481.8,510 1482.3,507.3 1482.8,504.9 1483.3,503 1483.8,501.5 1484.3,500.5 1484.8,500 1485.3,500 1485.8,500 1486.3,500 1486.8,500 1487.3,500 1487.8,500 1488.3,500 1488.8,500 1489.3,500 1489.8,500 1490.3,500 1490.8,500 1491.3,500 1491.8,500 1492.3,500 1492.8,500 1493.3,500 1493.8,500 1494.3,500 1494.8,500 1495.3,500 1495.8,500 1496.3,500 1496.8,500 1497.3,500 1497.8,500 1498.3,500 1498.8,500 1499.3,500 1499.8,500 1500.3,500 1500.8,500 1501.3,500 1501.8,500 1502.3,500 1502.8,500 1503.3,500 1503.8,500 1504.3,500 1504.8,500 1505.3,500.5 1505.8,503.1 1506.3,507.7 1506.8,513.8 1507.3,520.8 1507.8,528.2 1508.3,535.6 1508.8,542.5 1509.3,548.7 1509.8,555.2 1510.3,561.9 1510.8,568.5 1511.3,574.7 1511.8,580.3 1512.3,585.6 1512.8,590.6 1513.3,595.3 1513.8,599.8 1514.3,604.7 1514.8,609.1 1515.3,611.7 1515.8,612 1516.3,611.7 1516.8,611.3 1517.3,610.8 1517.8,610.2 1518.3,609.5 1518.8,608.2 1519.3,606.6 1519.8,604.8 1520.3,603.3 1520.8,602.2 1521.3,601.8 1521.8,601.4 1522.3,601 1522.8,600.8 1523.3,600.6 1523.8,600.5 1524.3,600.5 1524.8,600.8 1525.3,601.3 1525.8,601.9 1526.3,602.7 1526.8,603.6 1527.3,604.6 1527.8,605.7 1528.3,607.3 1528.8,609.4 1529.3,611.7 1529.8,614.1 1530.3,616.4 1530.8,619 1531.3,621.7 1531.8,624.5 1532.3,627.5 1532.8,630.7 1533,632" stroke="#9fb152" stroke-width="5.0" stroke-dasharray="33.5 8 4.5 8"/>
<line x1="1396.77" y1="575.5" x2="1396.77" y2="835.5" stroke="#6e6e6e" stroke-width="1.8" stroke-dasharray="7.4 3.2"/>
</g>
<rect x="61.5" y="56" width="408.7" height="259.5" fill="none" stroke="#000" stroke-width="2"/>
<rect x="61.5" y="315.5" width="408.7" height="260" fill="none" stroke="#000" stroke-width="2"/>
<rect x="592.7" y="56" width="408.7" height="259.5" fill="none" stroke="#000" stroke-width="2"/>
<rect x="592.7" y="315.5" width="408.7" height="260" fill="none" stroke="#000" stroke-width="2"/>
<rect x="592.7" y="575.5" width="408.7" height="260" fill="none" stroke="#000" stroke-width="2"/>
<rect x="1124.3" y="56" width="408.7" height="259.5" fill="none" stroke="#000" stroke-width="2"/>
<rect x="1124.3" y="315.5" width="408.7" height="260" fill="none" stroke="#000" stroke-width="2"/>
<rect x="1124.3" y="575.5" width="408.7" height="260" fill="none" stroke="#000" stroke-width="2"/>
<g fill="#000" stroke="#000" stroke-width="0.45" style="font-family:'Liberation Sans',Arial,sans-serif"><text x="51.5" y="324.25" font-size="25" text-anchor="end">0</text><text x="51.5" y="266.58" font-size="25" text-anchor="end">1</text><text x="51.5" y="208.92" font-size="25" text-anchor="end">2</text><text x="51.5" y="151.25" font-size="25" text-anchor="end">3</text><text x="51.5" y="93.58" font-size="25" text-anchor="end">4</text><text x="51.5" y="584.25" font-size="25" text-anchor="end">0</text><text x="51.5" y="497.58" font-size="25" text-anchor="end">1</text><text x="51.5" y="410.92" font-size="25" text-anchor="end">2</text><text x="61.5" y="605" font-size="25" text-anchor="middle">−20</text><text x="197.73" y="605" font-size="25" text-anchor="middle">−10</text><text x="333.97" y="605" font-size="25" text-anchor="middle">0</text><text x="470.2" y="605" font-size="25" text-anchor="middle">10</text><text x="201.5" y="638.7" font-size="25" text-anchor="start" font-style="italic" font-family="DejaVu Sans, sans-serif">E</text><text x="222.3" y="638.7" font-size="25" text-anchor="start" font-family="DejaVu Sans, sans-serif">−</text><text x="248.2" y="638.7" font-size="25" text-anchor="start" font-style="italic" font-family="DejaVu Sans, sans-serif">E</text><text x="264.5" y="642.9" font-size="17.5" text-anchor="start" font-family="DejaVu Sans, sans-serif">F</text><text x="281.5" y="638.7" font-size="26.2" text-anchor="start">(eV)</text><text x="582.7" y="324.25" font-size="25" text-anchor="end">0</text><text x="582.7" y="266.58" font-size="25" text-anchor="end">1</text><text x="582.7" y="208.92" font-size="25" text-anchor="end">2</text><text x="582.7" y="151.25" font-size="25" text-anchor="end">3</text><text x="582.7" y="93.58" font-size="25" text-anchor="end">4</text><text x="582.7" y="584.25" font-size="25" text-anchor="end">0</text><text x="582.7" y="497.58" font-size="25" text-anchor="end">1</text><text x="582.7" y="410.92" font-size="25" text-anchor="end">2</text><text x="582.7" y="844.25" font-size="25" text-anchor="end">0.00</text><text x="582.7" y="772.03" font-size="25" text-anchor="end">0.05</text><text x="582.7" y="699.81" font-size="25" text-anchor="end">0.10</text><text x="582.7" y="627.58" font-size="25" text-anchor="end">0.15</text><text x="592.7" y="865" font-size="25" text-anchor="middle">−20</text><text x="728.93" y="865" font-size="25" text-anchor="middle">−10</text><text x="865.17" y="865" font-size="25" text-anchor="middle">0</text><text x="1001.4" y="865" font-size="25" text-anchor="middle">10</text><text x="732.7" y="898.7" font-size="25" text-anchor="start" font-style="italic" font-family="DejaVu Sans, sans-serif">E</text><text x="753.5" y="898.7" font-size="25" text-anchor="start" font-family="DejaVu Sans, sans-serif">−</text><text x="779.4" y="898.7" font-size="25" text-anchor="start" font-style="italic" font-family="DejaVu Sans, sans-serif">E</text><text x="795.7" y="902.9" font-size="17.5" text-anchor="start" font-family="DejaVu Sans, sans-serif">F</text><text x="812.7" y="898.7" font-size="26.2" text-anchor="start">(eV)</text><text x="1114.3" y="324.25" font-size="25" text-anchor="end">0</text><text x="1114.3" y="266.58" font-size="25" text-anchor="end">1</text><text x="1114.3" y="208.92" font-size="25" text-anchor="end">2</text><text x="1114.3" y="151.25" font-size="25" text-anchor="end">3</text><text x="1114.3" y="93.58" font-size="25" text-anchor="end">4</text><text x="1114.3" y="584.25" font-size="25" text-anchor="end">0</text><text x="1114.3" y="497.58" font-size="25" text-anchor="end">1</text><text x="1114.3" y="410.92" font-size="25" text-anchor="end">2</text><text x="1114.3" y="844.25" font-size="25" text-anchor="end">0.00</text><text x="1114.3" y="772.03" font-size="25" text-anchor="end">0.05</text><text x="1114.3" y="699.81" font-size="25" text-anchor="end">0.10</text><text x="1114.3" y="627.58" font-size="25" text-anchor="end">0.15</text><text x="1124.3" y="865" font-size="25" text-anchor="middle">−20</text><text x="1260.53" y="865" font-size="25" text-anchor="middle">−10</text><text x="1396.77" y="865" font-size="25" text-anchor="middle">0</text><text x="1533" y="865" font-size="25" text-anchor="middle">10</text><text x="1264.3" y="898.7" font-size="25" text-anchor="start" font-style="italic" font-family="DejaVu Sans, sans-serif">E</text><text x="1285.1" y="898.7" font-size="25" text-anchor="start" font-family="DejaVu Sans, sans-serif">−</text><text x="1311" y="898.7" font-size="25" text-anchor="start" font-style="italic" font-family="DejaVu Sans, sans-serif">E</text><text x="1327.3" y="902.9" font-size="17.5" text-anchor="start" font-family="DejaVu Sans, sans-serif">F</text><text x="1344.3" y="898.7" font-size="26.2" text-anchor="start">(eV)</text></g>
<text transform="translate(21.8,186) rotate(-90)" x="0" y="0" font-size="25.5" text-anchor="middle" fill="#000" stroke="#000" stroke-width="0.45" style="font-family:'Liberation Sans',Arial,sans-serif">DOS (states/eV)</text>
<text transform="translate(21.8,445) rotate(-90)" x="0" y="0" font-size="25.5" text-anchor="middle" fill="#000" stroke="#000" stroke-width="0.45" style="font-family:'Liberation Sans',Arial,sans-serif">PDOS (states/eV)</text>
<text transform="translate(518.8,720.5) rotate(-90)" x="0" y="0" font-size="25.5" text-anchor="middle" fill="#000" stroke="#000" stroke-width="0.45" style="font-family:'Liberation Sans',Arial,sans-serif">PDOS (states/eV)</text>
<g fill="#000" stroke="#000" stroke-width="0.45" style="font-family:'Liberation Sans',Arial,sans-serif"><text x="66" y="30.5" font-size="40">(a) MoS</text><text x="210.3" y="38.7" font-size="26.8">2</text><text x="598.5" y="30.5" font-size="40">(b) Li</text><text x="690.9" y="38.7" font-size="26.8">0.056</text><text x="758.1" y="30.5" font-size="40">MoS</text><text x="843" y="38.7" font-size="26.8">2</text><text x="1124" y="30.5" font-size="40">(c) Li</text><text x="1214.5" y="38.7" font-size="26.8">0.250</text><text x="1282" y="30.5" font-size="40">MoS</text><text x="1366.6" y="38.7" font-size="26.8">2</text></g>
<line x1="84.5" y1="348.4" x2="135" y2="348.4" stroke="#ec7f9c" stroke-width="5.0" stroke-linecap="square"/><line x1="83.9" y1="385.2" x2="134.8" y2="385.2" stroke="#d4a04e" stroke-width="5.0" stroke-dasharray="26.5 6"/><line x1="616" y1="608.4" x2="666.5" y2="608.4" stroke="#ec7f9c" stroke-width="5.0" stroke-linecap="square"/><line x1="615.8" y1="645.4" x2="666.5" y2="645.4" stroke="#d4a04e" stroke-width="5.0" stroke-dasharray="26 6"/><line x1="616" y1="682.4" x2="666.5" y2="682.4" stroke="#9fb152" stroke-width="5.0" stroke-dasharray="33.5 8 4.5 8"/>
<g fill="#000" stroke="#000" stroke-width="0.45" font-size="25" style="font-family:'Liberation Sans',Arial,sans-serif"><text x="156" y="358">Mo</text><text x="156" y="393">S</text><text x="687.3" y="618.2" font-size="26.5" font-style="italic" font-family="DejaVu Sans, sans-serif">s</text><text x="686.5" y="654.5" font-size="26.5" font-style="italic" font-family="DejaVu Sans, sans-serif">p</text><text x="687.3" y="691.5" font-size="26.5" font-style="italic" font-family="DejaVu Sans, sans-serif">d</text><text x="812.5" y="627.4" font-size="47">Li</text></g>
</g>
</svg></body></html>
